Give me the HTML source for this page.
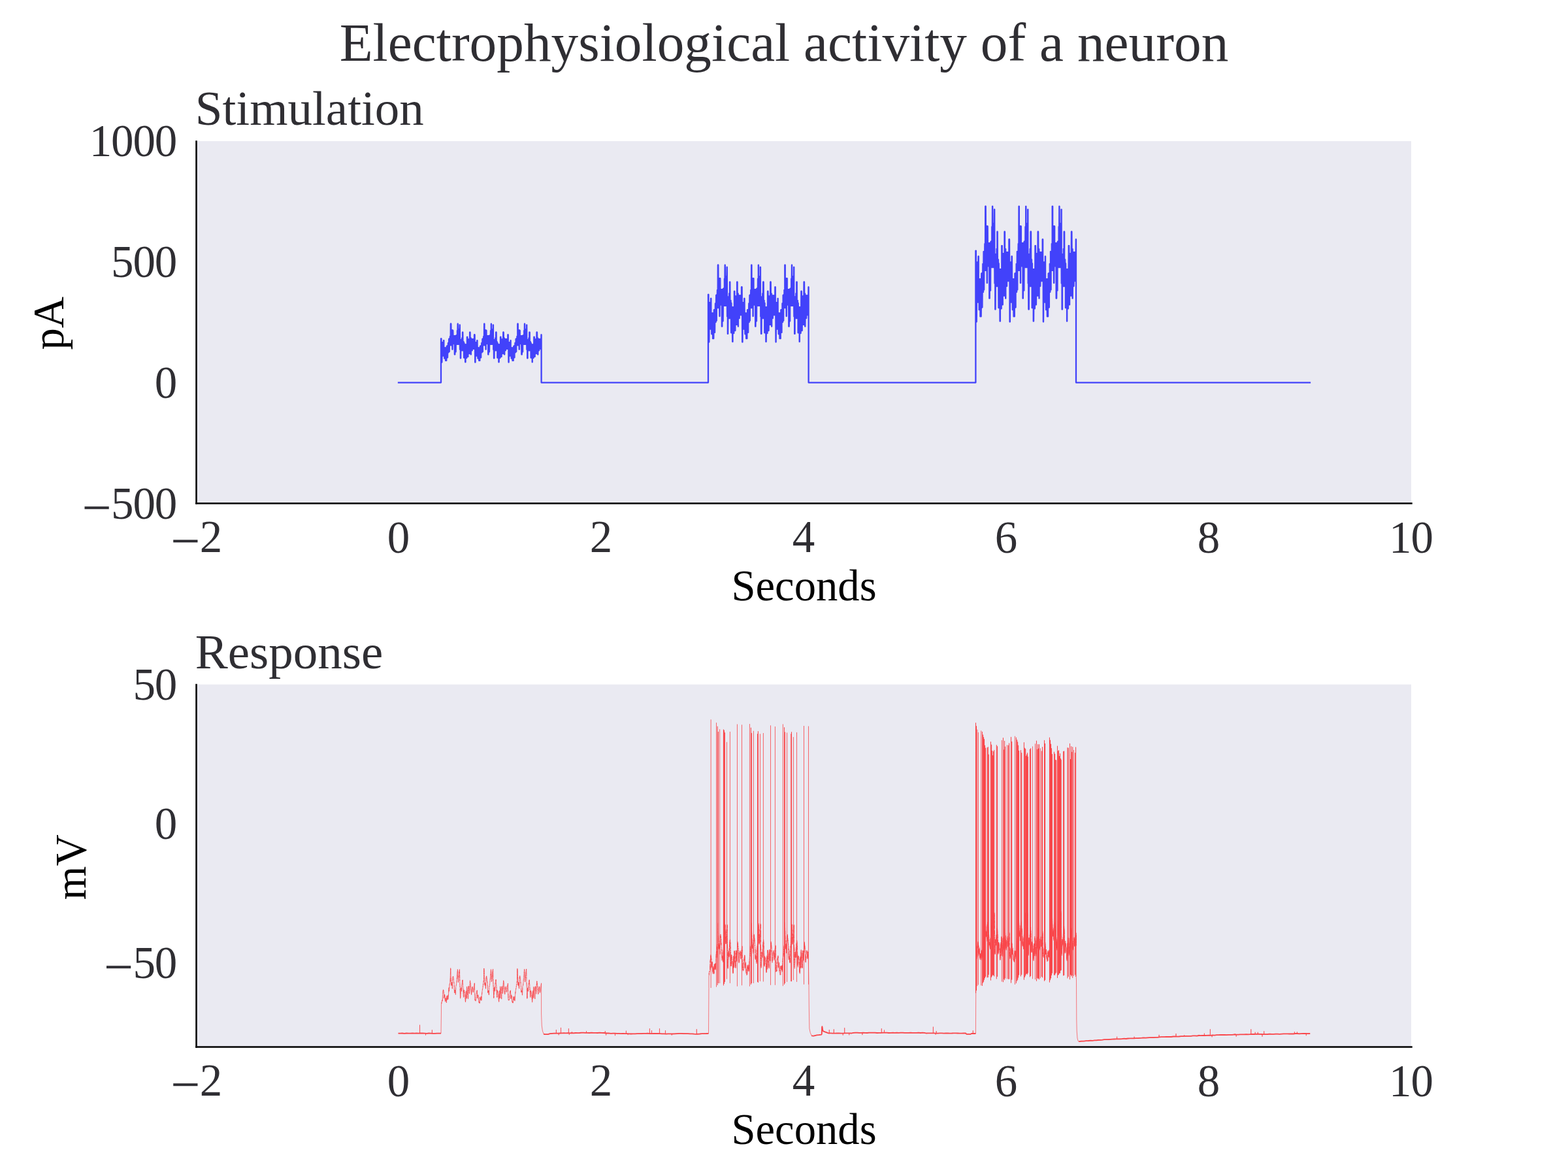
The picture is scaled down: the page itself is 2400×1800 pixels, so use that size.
<!DOCTYPE html>
<html lang="en"><head><meta charset="utf-8"><title>Electrophysiological activity of a neuron</title>
<style>html,body{margin:0;padding:0;background:#fff;}body{width:2400px;height:1800px;overflow:hidden;}svg{display:block;}text{font-family:'Liberation Serif', 'DejaVu Serif', serif;}</style></head><body>
<svg width="2400" height="1800" viewBox="0 0 2400 1800">
<rect x="0" y="0" width="2400" height="1800" fill="#ffffff"/>
<text x="1200" y="93" font-size="83.333" text-anchor="middle" fill="#2f2e33">Electrophysiological activity of a neuron</text>
<rect x="300.0" y="216.0" width="1860.0" height="554.4" fill="#eaeaf2"/>
<rect x="300.0" y="1047.6" width="1860.0" height="554.4" fill="#eaeaf2"/>
<path d="M610 585.6L675 585.6L675 533.8L675 518.3L675.15 518.3L675.15 533.8L675.3 533.8L675.3 518.3L675.45 518.3L675.45 533.8L675.6 533.8L675.6 524.4L675.75 524.4L675.75 533.8L675.9 533.8L675.9 524.4L676.05 524.4L676.05 554.6L676.2 554.6L676.2 524.4L676.35 524.4L676.35 554.6L676.5 544.6L676.5 524.4L676.65 524.4L676.65 544.6L676.8 544.6L676.8 524.4L676.95 524.4L676.95 544.6L677.1 544.6L677.1 524.4L677.25 524.4L677.25 544.6L677.4 544.6L677.4 524.4L677.55 524.4L677.55 544.6L677.7 544.6L677.7 524.4L677.85 524.4L677.85 544.6L678 544.6L678 524.4L678.15 524.4L678.15 544.6L678.3 544.6L678.3 524.4L678.45 524.4L678.45 544.6L678.6 544.6L678.6 524.4L678.75 524.4L678.75 544.6L678.9 544.6L678.9 524.4L679.05 521.2L679.05 544.6L679.2 544.6L679.2 521.2L679.35 521.2L679.35 544.6L679.5 544.6L679.5 532.8L679.65 532.8L679.65 544.6L679.8 544.6L679.8 532.8L679.95 532.8L679.95 544.6L680.1 544.6L680.1 532.8L680.25 532.8L680.25 548.5L680.4 548.5L680.4 532.8L680.55 532.8L680.55 548.5L680.7 548.5L680.7 532.8L680.85 532.8L680.85 548.5L681 548.5L681 532.8L681.15 532.8L681.15 548.5L681.3 548.5L681.3 532.8L681.45 532.8L681.45 548.5L681.6 548.5L681.6 532.8L681.75 532.8L681.75 548.5L681.9 548.5L681.9 532.8L682.05 532.8L682.05 551.9L682.2 551.9L682.2 532.8L682.35 532.8L682.35 551.9L682.5 551.9L682.5 532.8L682.65 532.8L682.65 551.9L682.8 551.9L682.8 532.8L682.95 532.8L682.95 551.9L683.1 551.9L683.1 532.8L683.25 532.8L683.25 551.9L683.4 547.3L683.4 532.8L683.55 532.8L683.55 547.3L683.7 547.3L683.7 532.8L683.85 529.9L683.85 547.3L684 547.3L684 529.9L684.15 529.9L684.15 547.3L684.3 547.3L684.3 529.9L684.45 529.9L684.45 547.3L684.6 547.3L684.6 529.9L684.75 529.9L684.75 547.3L684.9 547.3L684.9 529.9L685.05 529.9L685.05 547.3L685.2 539.4L685.2 529.9L685.35 529.9L685.35 539.4L685.5 539.4L685.5 529.9L685.65 529.9L685.65 539.4L685.8 539.4L685.8 529.9L685.95 525L685.95 539.4L686.1 539.4L686.1 525L686.25 525L686.25 539.4L686.4 539.4L686.4 525L686.55 525L686.55 539.4L686.7 538.2L686.7 525L686.85 525L686.85 538.2L687 538.2L687 525L687.15 518.8L687.15 538.2L687.3 538.2L687.3 518.8L687.45 518.8L687.45 538.2L687.6 538.2L687.6 518.8L687.75 518.8L687.75 538.2L687.9 528.4L687.9 518.8L688.05 518.8L688.05 528.4L688.2 528.4L688.2 518.8L688.35 518.8L688.35 528.4L688.5 528.4L688.5 518.8L688.65 518.8L688.65 528.4L688.8 528.4L688.8 518.8L688.95 514.8L688.95 528.4L689.1 528.4L689.1 514.8L689.25 514.8L689.25 528.4L689.4 528.4L689.4 514.8L689.55 514.8L689.55 528.4L689.7 528.4L689.7 514.8L689.85 495.7L689.85 528.4L690 528.4L690 495.7L690.15 495.7L690.15 528.4L690.3 528.4L690.3 495.7L690.45 505.9L690.45 528.4L690.6 528.4L690.6 505.9L690.75 505.9L690.75 528.4L690.9 528.4L690.9 505.9L691.05 505.9L691.05 528.4L691.2 528.4L691.2 505.9L691.35 505.9L691.35 528.4L691.5 528.4L691.5 505.9L691.65 505.9L691.65 528.4L691.8 528.4L691.8 505.9L691.95 505.9L691.95 528.4L692.1 528.4L692.1 505.9L692.25 505.9L692.25 528.4L692.4 534.8L692.4 505.9L692.55 505.9L692.55 534.8L692.7 526.2L692.7 505.9L692.85 505.9L692.85 526.2L693 526.2L693 505.9L693.15 505.9L693.15 526.2L693.3 526.2L693.3 505.9L693.45 514.6L693.45 526.2L693.6 526.2L693.6 514.6L693.75 514.6L693.75 526.2L693.9 526.2L693.9 514.6L694.05 514.6L694.05 526.2L694.2 526.2L694.2 514.6L694.35 514.6L694.35 526.2L694.5 526.2L694.5 514.6L694.65 514.6L694.65 526.2L694.8 526.2L694.8 514.6L694.95 514.6L694.95 526.2L695.1 526.2L695.1 514.6L695.25 514.6L695.25 526.2L695.4 526.2L695.4 514.6L695.55 514.6L695.55 526.2L695.7 526.2L695.7 514.6L695.85 514.6L695.85 542.6L696 542.6L696 514.6L696.15 514.6L696.15 542.6L696.3 542.6L696.3 514.6L696.45 514.6L696.45 538.6L696.6 538.6L696.6 514.6L696.75 514.6L696.75 538.6L696.9 538.6L696.9 514.6L697.05 514.6L697.05 538.6L697.2 538.6L697.2 514.6L697.35 514.6L697.35 538.6L697.5 538.6L697.5 514.6L697.65 514.6L697.65 538.6L697.8 526.8L697.8 514.6L697.95 514.6L697.95 526.8L698.1 526.8L698.1 513.7L698.25 513.7L698.25 526.8L698.4 526.8L698.4 513.7L698.55 513.7L698.55 526.8L698.7 526.8L698.7 513.7L698.85 513.7L698.85 526.8L699 526.8L699 513.7L699.15 513.7L699.15 526.8L699.3 526.8L699.3 513.7L699.45 513.7L699.45 526.8L699.6 526.8L699.6 513.7L699.75 513.7L699.75 526.8L699.9 526.8L699.9 506.1L700.05 506.1L700.05 526.8L700.2 526.8L700.2 506.1L700.35 506.1L700.35 526.8L700.5 526.8L700.5 506.1L700.65 495.7L700.65 526.8L700.8 526.8L700.8 495.7L700.95 504.5L700.95 526.8L701.1 526.8L701.1 504.5L701.25 504.5L701.25 526.8L701.4 526.8L701.4 504.5L701.55 504.5L701.55 526.8L701.7 526.8L701.7 504.5L701.85 504.5L701.85 526.8L702 526.8L702 504.5L702.15 504.5L702.15 526.8L702.3 526.8L702.3 504.5L702.45 504.5L702.45 526.8L702.6 526.8L702.6 504.5L702.75 504.5L702.75 526.8L702.9 526.8L702.9 504.5L703.05 504.5L703.05 526.8L703.2 526.8L703.2 504.5L703.35 504.5L703.35 526.8L703.5 526.8L703.5 504.5L703.65 497.3L703.65 526.8L703.8 526.8L703.8 497.3L703.95 520.2L703.95 526.8L704.1 535L704.1 520.2L704.25 520.2L704.25 535L704.4 535L704.4 520.2L704.55 520.2L704.55 535L704.7 535L704.7 520.2L704.85 520.2L704.85 548.3L705 548.3L705 520.2L705.15 520.2L705.15 548.3L705.3 536.4L705.3 520.2L705.45 520.2L705.45 536.4L705.6 536.4L705.6 520.2L705.75 520.2L705.75 536.4L705.9 536.4L705.9 520.2L706.05 520.2L706.05 536.4L706.2 536.4L706.2 520.2L706.35 520.2L706.35 536.4L706.5 536.4L706.5 520.2L706.65 520.2L706.65 536.4L706.8 536.4L706.8 520.2L706.95 520.2L706.95 536.4L707.1 536.4L707.1 517.4L707.25 517.4L707.25 536.4L707.4 536.4L707.4 517.4L707.55 517.4L707.55 536.4L707.7 536.4L707.7 517.4L707.85 517.4L707.85 536.4L708 536.4L708 508.6L708.15 508.6L708.15 536.4L708.3 536.4L708.3 508.6L708.45 522.8L708.45 536.4L708.6 536.4L708.6 522.8L708.75 522.8L708.75 536.4L708.9 536.4L708.9 522.8L709.05 522.8L709.05 536.4L709.2 536.4L709.2 522.8L709.35 522.8L709.35 536.4L709.5 536.4L709.5 522.8L709.65 524.8L709.65 536.4L709.8 536.4L709.8 524.8L709.95 524.8L709.95 536.4L710.1 547.5L710.1 524.8L710.25 524.8L710.25 547.5L710.4 547.5L710.4 524.8L710.55 527.9L710.55 547.5L710.7 547.5L710.7 527.9L710.85 527.9L710.85 547.5L711 547.5L711 527.9L711.15 527.9L711.15 547.5L711.3 547.5L711.3 527.9L711.45 527.9L711.45 547.5L711.6 547.5L711.6 527.9L711.75 527.9L711.75 547.5L711.9 547.5L711.9 527.9L712.05 527.9L712.05 547.5L712.2 554.3L712.2 527.9L712.35 527.9L712.35 554.3L712.5 554.3L712.5 527.9L712.65 527.9L712.65 547.9L712.8 547.9L712.8 527.9L712.95 527.9L712.95 547.9L713.1 547.9L713.1 527.9L713.25 527.9L713.25 547.9L713.4 547.9L713.4 527.9L713.55 527.9L713.55 547.9L713.7 547.9L713.7 527.9L713.85 527.9L713.85 547.9L714 547.9L714 527.9L714.15 527.9L714.15 547.9L714.3 547.9L714.3 527.9L714.45 527.9L714.45 545.9L714.6 545.9L714.6 527.9L714.75 527.9L714.75 545.9L714.9 545.9L714.9 515.8L715.05 515.8L715.05 545.9L715.2 545.9L715.2 515.8L715.35 515.8L715.35 545.9L715.5 545.9L715.5 519.8L715.65 519.8L715.65 545.9L715.8 545.9L715.8 519.8L715.95 519.8L715.95 545.9L716.1 545.9L716.1 519.8L716.25 519.8L716.25 545.9L716.4 545.9L716.4 519.8L716.55 519.8L716.55 541.2L716.7 541.2L716.7 519.8L716.85 519.8L716.85 541.2L717 541.2L717 519.8L717.15 519.8L717.15 541.2L717.3 541.2L717.3 519.8L717.45 519.8L717.45 541.2L717.6 541.2L717.6 519.8L717.75 519.8L717.75 541.2L717.9 541.2L717.9 519.8L718.05 519.8L718.05 541.2L718.2 541.2L718.2 519.8L718.35 519.8L718.35 541.2L718.5 541.2L718.5 519.8L718.65 519.8L718.65 541.2L718.8 541.2L718.8 519.8L718.95 519.8L718.95 541.2L719.1 541.2L719.1 508.6L719.25 508.6L719.25 541.2L719.4 541.2L719.4 508.6L719.55 508.6L719.55 541.2L719.7 541.2L719.7 517.5L719.85 517.5L719.85 541.2L720 541.2L720 517.5L720.15 517.5L720.15 541.2L720.3 541.2L720.3 517.5L720.45 517.5L720.45 541.2L720.6 541.2L720.6 517.5L720.75 517.5L720.75 542.6L720.9 542.6L720.9 519.3L721.05 519.3L721.05 536.4L721.2 536.4L721.2 519.3L721.35 519.3L721.35 536.4L721.5 536.4L721.5 519.3L721.65 519.3L721.65 536.4L721.8 536.4L721.8 519.3L721.95 519.3L721.95 536.4L722.1 536.4L722.1 519.3L722.25 519.3L722.25 536.4L722.4 536.4L722.4 519.3L722.55 519.3L722.55 536.4L722.7 536.4L722.7 519.3L722.85 519.3L722.85 533.8L723 533.8L723 519.3L723.15 519.3L723.15 533.8L723.3 533.8L723.3 519.3L723.45 519.3L723.45 533.8L723.6 533.8L723.6 519.3L723.75 519.3L723.75 533.8L723.9 533.8L723.9 519.3L724.05 519.3L724.05 533.8L724.2 533.8L724.2 519.3L724.35 519.3L724.35 533.8L724.5 533.8L724.5 519.3L724.65 519.3L724.65 533.8L724.8 533.8L724.8 519.3L724.95 519.3L724.95 533.8L725.1 533.8L725.1 519.3L725.25 519.3L725.25 533.8L725.4 533.8L725.4 519.3L725.55 519.3L725.55 533.8L725.7 533.8L725.7 519.3L725.85 519.3L725.85 533.8L726 533.8L726 512.5L726.15 512.5L726.15 533.8L726.3 533.8L726.3 512.5L726.45 512.5L726.45 533.8L726.6 533.8L726.6 512.5L726.75 524.4L726.75 533.8L726.9 533.8L726.9 524.4L727.05 524.4L727.05 533.8L727.2 554.6L727.2 524.4L727.35 524.4L727.35 554.6L727.5 554.6L727.5 524.4L727.65 524.4L727.65 544.6L727.8 544.6L727.8 524.4L727.95 524.4L727.95 544.6L728.1 544.6L728.1 524.4L728.25 524.4L728.25 544.6L728.4 544.6L728.4 524.4L728.55 524.4L728.55 544.6L728.7 544.6L728.7 524.4L728.85 524.4L728.85 544.6L729 544.6L729 524.4L729.15 524.4L729.15 544.6L729.3 544.6L729.3 524.4L729.45 524.4L729.45 544.6L729.6 544.6L729.6 524.4L729.75 524.4L729.75 544.6L729.9 544.6L729.9 524.4L730.05 524.4L730.05 544.6L730.2 544.6L730.2 521.2L730.35 521.2L730.35 544.6L730.5 544.6L730.5 521.2L730.65 532.8L730.65 544.6L730.8 544.6L730.8 532.8L730.95 532.8L730.95 544.6L731.1 544.6L731.1 532.8L731.25 532.8L731.25 544.6L731.4 548.5L731.4 532.8L731.55 532.8L731.55 548.5L731.7 548.5L731.7 532.8L731.85 532.8L731.85 548.5L732 548.5L732 532.8L732.15 532.8L732.15 548.5L732.3 548.5L732.3 532.8L732.45 532.8L732.45 548.5L732.6 548.5L732.6 532.8L732.75 532.8L732.75 548.5L732.9 548.5L732.9 532.8L733.05 532.8L733.05 548.5L733.2 551.9L733.2 532.8L733.35 532.8L733.35 551.9L733.5 551.9L733.5 532.8L733.65 532.8L733.65 551.9L733.8 551.9L733.8 532.8L733.95 532.8L733.95 551.9L734.1 551.9L734.1 532.8L734.25 532.8L734.25 551.9L734.4 551.9L734.4 532.8L734.55 532.8L734.55 547.3L734.7 547.3L734.7 532.8L734.85 532.8L734.85 547.3L735 547.3L735 529.9L735.15 529.9L735.15 547.3L735.3 547.3L735.3 529.9L735.45 529.9L735.45 547.3L735.6 547.3L735.6 529.9L735.75 529.9L735.75 547.3L735.9 547.3L735.9 529.9L736.05 529.9L736.05 547.3L736.2 547.3L736.2 529.9L736.35 529.9L736.35 539.4L736.5 539.4L736.5 529.9L736.65 529.9L736.65 539.4L736.8 539.4L736.8 529.9L736.95 529.9L736.95 539.4L737.1 539.4L737.1 529.9L737.25 525L737.25 539.4L737.4 539.4L737.4 525L737.55 525L737.55 539.4L737.7 539.4L737.7 525L737.85 525L737.85 538.2L738 538.2L738 525L738.15 525L738.15 538.2L738.3 538.2L738.3 525L738.45 518.8L738.45 538.2L738.6 538.2L738.6 518.8L738.75 518.8L738.75 538.2L738.9 538.2L738.9 518.8L739.05 518.8L739.05 528.4L739.2 528.4L739.2 518.8L739.35 518.8L739.35 528.4L739.5 528.4L739.5 518.8L739.65 518.8L739.65 528.4L739.8 528.4L739.8 518.8L739.95 518.8L739.95 528.4L740.1 528.4L740.1 518.8L740.25 514.8L740.25 528.4L740.4 528.4L740.4 514.8L740.55 514.8L740.55 528.4L740.7 528.4L740.7 514.8L740.85 514.8L740.85 528.4L741 528.4L741 514.8L741.15 495.7L741.15 528.4L741.3 528.4L741.3 495.7L741.45 495.7L741.45 528.4L741.6 528.4L741.6 505.9L741.75 505.9L741.75 528.4L741.9 528.4L741.9 505.9L742.05 505.9L742.05 528.4L742.2 528.4L742.2 505.9L742.35 505.9L742.35 528.4L742.5 528.4L742.5 505.9L742.65 505.9L742.65 528.4L742.8 528.4L742.8 505.9L742.95 505.9L742.95 528.4L743.1 528.4L743.1 505.9L743.25 505.9L743.25 528.4L743.4 528.4L743.4 505.9L743.55 505.9L743.55 534.8L743.7 534.8L743.7 505.9L743.85 505.9L743.85 526.2L744 526.2L744 505.9L744.15 505.9L744.15 526.2L744.3 526.2L744.3 505.9L744.45 505.9L744.45 526.2L744.6 526.2L744.6 514.6L744.75 514.6L744.75 526.2L744.9 526.2L744.9 514.6L745.05 514.6L745.05 526.2L745.2 526.2L745.2 514.6L745.35 514.6L745.35 526.2L745.5 526.2L745.5 514.6L745.65 514.6L745.65 526.2L745.8 526.2L745.8 514.6L745.95 514.6L745.95 526.2L746.1 526.2L746.1 514.6L746.25 514.6L746.25 526.2L746.4 526.2L746.4 514.6L746.55 514.6L746.55 526.2L746.7 526.2L746.7 514.6L746.85 514.6L746.85 526.2L747 526.2L747 514.6L747.15 514.6L747.15 542.6L747.3 542.6L747.3 514.6L747.45 514.6L747.45 542.6L747.6 538.6L747.6 514.6L747.75 514.6L747.75 538.6L747.9 538.6L747.9 514.6L748.05 514.6L748.05 538.6L748.2 538.6L748.2 514.6L748.35 514.6L748.35 538.6L748.5 538.6L748.5 514.6L748.65 514.6L748.65 538.6L748.8 538.6L748.8 514.6L748.95 514.6L748.95 538.6L749.1 526.8L749.1 514.6L749.25 513.7L749.25 526.8L749.4 526.8L749.4 513.7L749.55 513.7L749.55 526.8L749.7 526.8L749.7 513.7L749.85 513.7L749.85 526.8L750 526.8L750 513.7L750.15 513.7L750.15 526.8L750.3 526.8L750.3 513.7L750.45 513.7L750.45 526.8L750.6 526.8L750.6 513.7L750.75 513.7L750.75 526.8L750.9 526.8L750.9 513.7L751.05 506.1L751.05 526.8L751.2 526.8L751.2 506.1L751.35 506.1L751.35 526.8L751.5 526.8L751.5 506.1L751.65 506.1L751.65 526.8L751.8 526.8L751.8 495.7L751.95 495.7L751.95 526.8L752.1 526.8L752.1 504.5L752.25 504.5L752.25 526.8L752.4 526.8L752.4 504.5L752.55 504.5L752.55 526.8L752.7 526.8L752.7 504.5L752.85 504.5L752.85 526.8L753 526.8L753 504.5L753.15 504.5L753.15 526.8L753.3 526.8L753.3 504.5L753.45 504.5L753.45 526.8L753.6 526.8L753.6 504.5L753.75 504.5L753.75 526.8L753.9 526.8L753.9 504.5L754.05 504.5L754.05 526.8L754.2 526.8L754.2 504.5L754.35 504.5L754.35 526.8L754.5 526.8L754.5 504.5L754.65 504.5L754.65 526.8L754.8 526.8L754.8 497.3L754.95 497.3L754.95 526.8L755.1 526.8L755.1 520.2L755.25 520.2L755.25 535L755.4 535L755.4 520.2L755.55 520.2L755.55 535L755.7 535L755.7 520.2L755.85 520.2L755.85 535L756 548.3L756 520.2L756.15 520.2L756.15 548.3L756.3 548.3L756.3 520.2L756.45 520.2L756.45 548.3L756.6 536.4L756.6 520.2L756.75 520.2L756.75 536.4L756.9 536.4L756.9 520.2L757.05 520.2L757.05 536.4L757.2 536.4L757.2 520.2L757.35 520.2L757.35 536.4L757.5 536.4L757.5 520.2L757.65 520.2L757.65 536.4L757.8 536.4L757.8 520.2L757.95 520.2L757.95 536.4L758.1 536.4L758.1 520.2L758.25 517.4L758.25 536.4L758.4 536.4L758.4 517.4L758.55 517.4L758.55 536.4L758.7 536.4L758.7 517.4L758.85 517.4L758.85 536.4L759 536.4L759 517.4L759.15 508.6L759.15 536.4L759.3 536.4L759.3 508.6L759.45 508.6L759.45 536.4L759.6 536.4L759.6 508.6L759.75 522.8L759.75 536.4L759.9 536.4L759.9 522.8L760.05 522.8L760.05 536.4L760.2 536.4L760.2 522.8L760.35 522.8L760.35 536.4L760.5 536.4L760.5 522.8L760.65 522.8L760.65 536.4L760.8 536.4L760.8 524.8L760.95 524.8L760.95 536.4L761.1 536.4L761.1 524.8L761.25 524.8L761.25 547.5L761.4 547.5L761.4 524.8L761.55 524.8L761.55 547.5L761.7 547.5L761.7 527.9L761.85 527.9L761.85 547.5L762 547.5L762 527.9L762.15 527.9L762.15 547.5L762.3 547.5L762.3 527.9L762.45 527.9L762.45 547.5L762.6 547.5L762.6 527.9L762.75 527.9L762.75 547.5L762.9 547.5L762.9 527.9L763.05 527.9L763.05 547.5L763.2 547.5L763.2 527.9L763.35 527.9L763.35 554.3L763.5 554.3L763.5 527.9L763.65 527.9L763.65 554.3L763.8 547.9L763.8 527.9L763.95 527.9L763.95 547.9L764.1 547.9L764.1 527.9L764.25 527.9L764.25 547.9L764.4 547.9L764.4 527.9L764.55 527.9L764.55 547.9L764.7 547.9L764.7 527.9L764.85 527.9L764.85 547.9L765 547.9L765 527.9L765.15 527.9L765.15 547.9L765.3 547.9L765.3 527.9L765.45 527.9L765.45 547.9L765.6 545.9L765.6 527.9L765.75 527.9L765.75 545.9L765.9 545.9L765.9 527.9L766.05 515.8L766.05 545.9L766.2 545.9L766.2 515.8L766.35 515.8L766.35 545.9L766.5 545.9L766.5 515.8L766.65 519.8L766.65 545.9L766.8 545.9L766.8 519.8L766.95 519.8L766.95 545.9L767.1 545.9L767.1 519.8L767.25 519.8L767.25 545.9L767.4 545.9L767.4 519.8L767.55 519.8L767.55 545.9L767.7 541.2L767.7 519.8L767.85 519.8L767.85 541.2L768 541.2L768 519.8L768.15 519.8L768.15 541.2L768.3 541.2L768.3 519.8L768.45 519.8L768.45 541.2L768.6 541.2L768.6 519.8L768.75 519.8L768.75 541.2L768.9 541.2L768.9 519.8L769.05 519.8L769.05 541.2L769.2 541.2L769.2 519.8L769.35 519.8L769.35 541.2L769.5 541.2L769.5 519.8L769.65 519.8L769.65 541.2L769.8 541.2L769.8 519.8L769.95 519.8L769.95 541.2L770.1 541.2L770.1 519.8L770.25 508.6L770.25 541.2L770.4 541.2L770.4 508.6L770.55 508.6L770.55 541.2L770.7 541.2L770.7 508.6L770.85 517.5L770.85 541.2L771 541.2L771 517.5L771.15 517.5L771.15 541.2L771.3 541.2L771.3 517.5L771.45 517.5L771.45 541.2L771.6 541.2L771.6 517.5L771.75 517.5L771.75 541.2L771.9 541.2L771.9 517.5L772.05 519.3L772.05 542.6L772.2 542.6L772.2 519.3L772.35 519.3L772.35 536.4L772.5 536.4L772.5 519.3L772.65 519.3L772.65 536.4L772.8 536.4L772.8 519.3L772.95 519.3L772.95 536.4L773.1 536.4L773.1 519.3L773.25 519.3L773.25 536.4L773.4 536.4L773.4 519.3L773.55 519.3L773.55 536.4L773.7 536.4L773.7 519.3L773.85 519.3L773.85 536.4L774 533.8L774 519.3L774.15 519.3L774.15 533.8L774.3 533.8L774.3 519.3L774.45 519.3L774.45 533.8L774.6 533.8L774.6 519.3L774.75 519.3L774.75 533.8L774.9 533.8L774.9 519.3L775.05 519.3L775.05 533.8L775.2 533.8L775.2 519.3L775.35 519.3L775.35 533.8L775.5 533.8L775.5 519.3L775.65 519.3L775.65 533.8L775.8 533.8L775.8 519.3L775.95 519.3L775.95 533.8L776.1 533.8L776.1 519.3L776.25 519.3L776.25 533.8L776.4 533.8L776.4 519.3L776.55 519.3L776.55 533.8L776.7 533.8L776.7 519.3L776.85 519.3L776.85 533.8L777 533.8L777 519.3L777.15 519.3L777.15 533.8L777.3 533.8L777.3 512.5L777.45 512.5L777.45 533.8L777.6 533.8L777.6 512.5L777.75 512.5L777.75 533.8L777.9 533.8L777.9 524.4L778.05 524.4L778.05 533.8L778.2 533.8L778.2 524.4L778.35 524.4L778.35 533.8L778.5 554.6L778.5 524.4L778.65 524.4L778.65 554.6L778.8 544.6L778.8 524.4L778.95 524.4L778.95 544.6L779.1 544.6L779.1 524.4L779.25 524.4L779.25 544.6L779.4 544.6L779.4 524.4L779.55 524.4L779.55 544.6L779.7 544.6L779.7 524.4L779.85 524.4L779.85 544.6L780 544.6L780 524.4L780.15 524.4L780.15 544.6L780.3 544.6L780.3 524.4L780.45 524.4L780.45 544.6L780.6 544.6L780.6 524.4L780.75 524.4L780.75 544.6L780.9 544.6L780.9 524.4L781.05 524.4L781.05 544.6L781.2 544.6L781.2 524.4L781.35 524.4L781.35 544.6L781.5 544.6L781.5 521.2L781.65 521.2L781.65 544.6L781.8 544.6L781.8 532.8L781.95 532.8L781.95 544.6L782.1 544.6L782.1 532.8L782.25 532.8L782.25 544.6L782.4 544.6L782.4 532.8L782.55 532.8L782.55 544.6L782.7 548.5L782.7 532.8L782.85 532.8L782.85 548.5L783 548.5L783 532.8L783.15 532.8L783.15 548.5L783.3 548.5L783.3 532.8L783.45 532.8L783.45 548.5L783.6 548.5L783.6 532.8L783.75 532.8L783.75 548.5L783.9 548.5L783.9 532.8L784.05 532.8L784.05 548.5L784.2 548.5L784.2 532.8L784.35 532.8L784.35 548.5L784.5 551.9L784.5 532.8L784.65 532.8L784.65 551.9L784.8 551.9L784.8 532.8L784.95 532.8L784.95 551.9L785.1 551.9L785.1 532.8L785.25 532.8L785.25 551.9L785.4 551.9L785.4 532.8L785.55 532.8L785.55 551.9L785.7 551.9L785.7 532.8L785.85 532.8L785.85 547.3L786 547.3L786 532.8L786.15 532.8L786.15 547.3L786.3 547.3L786.3 529.9L786.45 529.9L786.45 547.3L786.6 547.3L786.6 529.9L786.75 529.9L786.75 547.3L786.9 547.3L786.9 529.9L787.05 529.9L787.05 547.3L787.2 547.3L787.2 529.9L787.35 529.9L787.35 547.3L787.5 547.3L787.5 529.9L787.65 529.9L787.65 539.4L787.8 539.4L787.8 529.9L787.95 529.9L787.95 539.4L788.1 539.4L788.1 529.9L788.25 529.9L788.25 539.4L788.4 539.4L788.4 525L788.55 525L788.55 539.4L788.7 539.4L788.7 525L788.85 525L788.85 539.4L789 539.4L789 525L789.15 525L789.15 538.2L789.3 538.2L789.3 525L789.45 525L789.45 538.2L789.6 538.2L789.6 518.8L789.75 518.8L789.75 538.2L789.9 538.2L789.9 518.8L790.05 518.8L790.05 538.2L790.2 538.2L790.2 518.8L790.35 518.8L790.35 528.4L790.5 528.4L790.5 518.8L790.65 518.8L790.65 528.4L790.8 528.4L790.8 518.8L790.95 518.8L790.95 528.4L791.1 528.4L791.1 518.8L791.25 518.8L791.25 528.4L791.4 528.4L791.4 514.8L791.55 514.8L791.55 528.4L791.7 528.4L791.7 514.8L791.85 514.8L791.85 528.4L792 528.4L792 514.8L792.15 514.8L792.15 528.4L792.3 528.4L792.3 495.7L792.45 495.7L792.45 528.4L792.6 528.4L792.6 495.7L792.75 495.7L792.75 528.4L792.9 528.4L792.9 505.9L793.05 505.9L793.05 528.4L793.2 528.4L793.2 505.9L793.35 505.9L793.35 528.4L793.5 528.4L793.5 505.9L793.65 505.9L793.65 528.4L793.8 528.4L793.8 505.9L793.95 505.9L793.95 528.4L794.1 528.4L794.1 505.9L794.25 505.9L794.25 528.4L794.4 528.4L794.4 505.9L794.55 505.9L794.55 528.4L794.7 534.8L794.7 505.9L794.85 505.9L794.85 534.8L795 526.2L795 505.9L795.15 505.9L795.15 526.2L795.3 526.2L795.3 505.9L795.45 505.9L795.45 526.2L795.6 526.2L795.6 505.9L795.75 505.9L795.75 526.2L795.9 526.2L795.9 514.6L796.05 514.6L796.05 526.2L796.2 526.2L796.2 514.6L796.35 514.6L796.35 526.2L796.5 526.2L796.5 514.6L796.65 514.6L796.65 526.2L796.8 526.2L796.8 514.6L796.95 514.6L796.95 526.2L797.1 526.2L797.1 514.6L797.25 514.6L797.25 526.2L797.4 526.2L797.4 514.6L797.55 514.6L797.55 526.2L797.7 526.2L797.7 514.6L797.85 514.6L797.85 526.2L798 526.2L798 514.6L798.15 514.6L798.15 526.2L798.3 542.6L798.3 514.6L798.45 514.6L798.45 542.6L798.6 542.6L798.6 514.6L798.75 514.6L798.75 542.6L798.9 538.6L798.9 514.6L799.05 514.6L799.05 538.6L799.2 538.6L799.2 514.6L799.35 514.6L799.35 538.6L799.5 538.6L799.5 514.6L799.65 514.6L799.65 538.6L799.8 538.6L799.8 514.6L799.95 514.6L799.95 538.6L800.1 538.6L800.1 514.6L800.25 514.6L800.25 526.8L800.4 526.8L800.4 513.7L800.55 513.7L800.55 526.8L800.7 526.8L800.7 513.7L800.85 513.7L800.85 526.8L801 526.8L801 513.7L801.15 513.7L801.15 526.8L801.3 526.8L801.3 513.7L801.45 513.7L801.45 526.8L801.6 526.8L801.6 513.7L801.75 513.7L801.75 526.8L801.9 526.8L801.9 513.7L802.05 513.7L802.05 526.8L802.2 526.8L802.2 506.1L802.35 506.1L802.35 526.8L802.5 526.8L802.5 506.1L802.65 506.1L802.65 526.8L802.8 526.8L802.8 506.1L802.95 495.7L802.95 526.8L803.1 526.8L803.1 495.7L803.25 504.5L803.25 526.8L803.4 526.8L803.4 504.5L803.55 504.5L803.55 526.8L803.7 526.8L803.7 504.5L803.85 504.5L803.85 526.8L804 526.8L804 504.5L804.15 504.5L804.15 526.8L804.3 526.8L804.3 504.5L804.45 504.5L804.45 526.8L804.6 526.8L804.6 504.5L804.75 504.5L804.75 526.8L804.9 526.8L804.9 504.5L805.05 504.5L805.05 526.8L805.2 526.8L805.2 504.5L805.35 504.5L805.35 526.8L805.5 526.8L805.5 504.5L805.65 504.5L805.65 526.8L805.8 526.8L805.8 504.5L805.95 504.5L805.95 526.8L806.1 526.8L806.1 497.3L806.25 497.3L806.25 526.8L806.4 535L806.4 520.2L806.55 520.2L806.55 535L806.7 535L806.7 520.2L806.85 520.2L806.85 535L807 535L807 520.2L807.15 520.2L807.15 548.3L807.3 548.3L807.3 520.2L807.45 520.2L807.45 548.3L807.6 548.3L807.6 520.2L807.75 520.2L807.75 536.4L807.9 536.4L807.9 520.2L808.05 520.2L808.05 536.4L808.2 536.4L808.2 520.2L808.35 520.2L808.35 536.4L808.5 536.4L808.5 520.2L808.65 520.2L808.65 536.4L808.8 536.4L808.8 520.2L808.95 520.2L808.95 536.4L809.1 536.4L809.1 520.2L809.25 520.2L809.25 536.4L809.4 536.4L809.4 517.4L809.55 517.4L809.55 536.4L809.7 536.4L809.7 517.4L809.85 517.4L809.85 536.4L810 536.4L810 517.4L810.15 517.4L810.15 536.4L810.3 536.4L810.3 508.6L810.45 508.6L810.45 536.4L810.6 536.4L810.6 508.6L810.75 508.6L810.75 536.4L810.9 536.4L810.9 522.8L811.05 522.8L811.05 536.4L811.2 536.4L811.2 522.8L811.35 522.8L811.35 536.4L811.5 536.4L811.5 522.8L811.65 522.8L811.65 536.4L811.8 536.4L811.8 522.8L811.95 524.8L811.95 536.4L812.1 536.4L812.1 524.8L812.25 524.8L812.25 536.4L812.4 536.4L812.4 524.8L812.55 524.8L812.55 547.5L812.7 547.5L812.7 524.8L812.85 527.9L812.85 547.5L813 547.5L813 527.9L813.15 527.9L813.15 547.5L813.3 547.5L813.3 527.9L813.45 527.9L813.45 547.5L813.6 547.5L813.6 527.9L813.75 527.9L813.75 547.5L813.9 547.5L813.9 527.9L814.05 527.9L814.05 547.5L814.2 547.5L814.2 527.9L814.35 527.9L814.35 547.5L814.5 547.5L814.5 527.9L814.65 527.9L814.65 554.3L814.8 554.3L814.8 527.9L814.95 527.9L814.95 547.9L815.1 547.9L815.1 527.9L815.25 527.9L815.25 547.9L815.4 547.9L815.4 527.9L815.55 527.9L815.55 547.9L815.7 547.9L815.7 527.9L815.85 527.9L815.85 547.9L816 547.9L816 527.9L816.15 527.9L816.15 547.9L816.3 547.9L816.3 527.9L816.45 527.9L816.45 547.9L816.6 547.9L816.6 527.9L816.75 527.9L816.75 545.9L816.9 545.9L816.9 527.9L817.05 527.9L817.05 545.9L817.2 545.9L817.2 527.9L817.35 515.8L817.35 545.9L817.5 545.9L817.5 515.8L817.65 515.8L817.65 545.9L817.8 545.9L817.8 515.8L817.95 519.8L817.95 545.9L818.1 545.9L818.1 519.8L818.25 519.8L818.25 545.9L818.4 545.9L818.4 519.8L818.55 519.8L818.55 545.9L818.7 545.9L818.7 519.8L818.85 519.8L818.85 541.2L819 541.2L819 519.8L819.15 519.8L819.15 541.2L819.3 541.2L819.3 519.8L819.45 519.8L819.45 541.2L819.6 541.2L819.6 519.8L819.75 519.8L819.75 541.2L819.9 541.2L819.9 519.8L820.05 519.8L820.05 541.2L820.2 541.2L820.2 519.8L820.35 519.8L820.35 541.2L820.5 541.2L820.5 519.8L820.65 519.8L820.65 541.2L820.8 541.2L820.8 519.8L820.95 519.8L820.95 541.2L821.1 541.2L821.1 519.8L821.25 519.8L821.25 541.2L821.4 541.2L821.4 519.8L821.55 508.6L821.55 541.2L821.7 541.2L821.7 508.6L821.85 508.6L821.85 541.2L822 541.2L822 508.6L822.15 517.5L822.15 541.2L822.3 541.2L822.3 517.5L822.45 517.5L822.45 541.2L822.6 541.2L822.6 517.5L822.75 517.5L822.75 541.2L822.9 541.2L822.9 517.5L823.05 517.5L823.05 541.2L823.2 542.6L823.2 517.5L823.35 519.3L823.35 542.6L823.5 536.4L823.5 519.3L823.65 519.3L823.65 536.4L823.8 536.4L823.8 519.3L823.95 519.3L823.95 536.4L824.1 536.4L824.1 519.3L824.25 519.3L824.25 536.4L824.4 536.4L824.4 519.3L824.55 519.3L824.55 536.4L824.7 536.4L824.7 519.3L824.85 519.3L824.85 536.4L825 536.4L825 519.3L825.15 519.3L825.15 536.4L825.3 533.8L825.3 519.3L825.45 519.3L825.45 533.8L825.6 533.8L825.6 519.3L825.75 519.3L825.75 533.8L825.9 533.8L825.9 519.3L826.05 519.3L826.05 533.8L826.2 533.8L826.2 519.3L826.35 519.3L826.35 533.8L826.5 533.8L826.5 519.3L826.65 519.3L826.65 533.8L826.8 533.8L826.8 519.3L826.95 519.3L826.95 533.8L827.1 533.8L827.1 519.3L827.25 519.3L827.25 533.8L827.4 533.8L827.4 519.3L827.55 519.3L827.55 533.8L827.7 533.8L827.7 519.3L827.85 519.3L827.85 533.8L828 533.8L828 519.3L828.15 519.3L828.15 533.8L828.3 533.8L828.3 519.3L828.45 512.5L828.45 533.8L828.6 533.8L828.6 512.5L828.6 585.6L1084 585.6L1084 482L1084 451L1084.15 451L1084.15 482L1084.3 482L1084.3 451L1084.45 451L1084.45 482L1084.6 482L1084.6 463.2L1084.75 463.2L1084.75 482L1084.9 482L1084.9 463.2L1085.05 463.2L1085.05 523.6L1085.2 523.6L1085.2 463.2L1085.35 463.2L1085.35 523.6L1085.5 503.7L1085.5 463.2L1085.65 463.2L1085.65 503.7L1085.8 503.7L1085.8 463.2L1085.95 463.2L1085.95 503.7L1086.1 503.7L1086.1 463.2L1086.25 463.2L1086.25 503.7L1086.4 503.7L1086.4 463.2L1086.55 463.2L1086.55 503.7L1086.7 503.7L1086.7 463.2L1086.85 463.2L1086.85 503.7L1087 503.7L1087 463.2L1087.15 463.2L1087.15 503.7L1087.3 503.7L1087.3 463.2L1087.45 463.2L1087.45 503.7L1087.6 503.7L1087.6 463.2L1087.75 463.2L1087.75 503.7L1087.9 503.7L1087.9 463.2L1088.05 456.8L1088.05 503.7L1088.2 503.7L1088.2 456.8L1088.35 456.8L1088.35 503.7L1088.5 503.7L1088.5 479.9L1088.65 479.9L1088.65 503.7L1088.8 503.7L1088.8 479.9L1088.95 479.9L1088.95 503.7L1089.1 503.7L1089.1 479.9L1089.25 479.9L1089.25 511.3L1089.4 511.3L1089.4 479.9L1089.55 479.9L1089.55 511.3L1089.7 511.3L1089.7 479.9L1089.85 479.9L1089.85 511.3L1090 511.3L1090 479.9L1090.15 479.9L1090.15 511.3L1090.3 511.3L1090.3 479.9L1090.45 479.9L1090.45 511.3L1090.6 511.3L1090.6 479.9L1090.75 479.9L1090.75 511.3L1090.9 511.3L1090.9 479.9L1091.05 479.9L1091.05 518.2L1091.2 518.2L1091.2 479.9L1091.35 479.9L1091.35 518.2L1091.5 518.2L1091.5 479.9L1091.65 479.9L1091.65 518.2L1091.8 518.2L1091.8 479.9L1091.95 479.9L1091.95 518.2L1092.1 518.2L1092.1 479.9L1092.25 479.9L1092.25 518.2L1092.4 508.9L1092.4 479.9L1092.55 479.9L1092.55 508.9L1092.7 508.9L1092.7 479.9L1092.85 474.3L1092.85 508.9L1093 508.9L1093 474.3L1093.15 474.3L1093.15 508.9L1093.3 508.9L1093.3 474.3L1093.45 474.3L1093.45 508.9L1093.6 508.9L1093.6 474.3L1093.75 474.3L1093.75 508.9L1093.9 508.9L1093.9 474.3L1094.05 474.3L1094.05 508.9L1094.2 493.2L1094.2 474.3L1094.35 474.3L1094.35 493.2L1094.5 493.2L1094.5 474.3L1094.65 474.3L1094.65 493.2L1094.8 493.2L1094.8 474.3L1094.95 464.4L1094.95 493.2L1095.1 493.2L1095.1 464.4L1095.25 464.4L1095.25 493.2L1095.4 493.2L1095.4 464.4L1095.55 464.4L1095.55 493.2L1095.7 490.8L1095.7 464.4L1095.85 464.4L1095.85 490.8L1096 490.8L1096 464.4L1096.15 451.9L1096.15 490.8L1096.3 490.8L1096.3 451.9L1096.45 451.9L1096.45 490.8L1096.6 490.8L1096.6 451.9L1096.75 451.9L1096.75 490.8L1096.9 471.1L1096.9 451.9L1097.05 451.9L1097.05 471.1L1097.2 471.1L1097.2 451.9L1097.35 451.9L1097.35 471.1L1097.5 471.1L1097.5 451.9L1097.65 451.9L1097.65 471.1L1097.8 471.1L1097.8 451.9L1097.95 443.9L1097.95 471.1L1098.1 471.1L1098.1 443.9L1098.25 443.9L1098.25 471.1L1098.4 471.1L1098.4 443.9L1098.55 443.9L1098.55 471.1L1098.7 471.1L1098.7 443.9L1098.85 405.7L1098.85 471.1L1099 471.1L1099 405.7L1099.15 405.7L1099.15 471.1L1099.3 471.1L1099.3 405.7L1099.45 426.2L1099.45 471.1L1099.6 471.1L1099.6 426.2L1099.75 426.2L1099.75 471.1L1099.9 471.1L1099.9 426.2L1100.05 426.2L1100.05 471.1L1100.2 471.1L1100.2 426.2L1100.35 426.2L1100.35 471.1L1100.5 471.1L1100.5 426.2L1100.65 426.2L1100.65 471.1L1100.8 471.1L1100.8 426.2L1100.95 426.2L1100.95 471.1L1101.1 471.1L1101.1 426.2L1101.25 426.2L1101.25 471.1L1101.4 484L1101.4 426.2L1101.55 426.2L1101.55 484L1101.7 466.7L1101.7 426.2L1101.85 426.2L1101.85 466.7L1102 466.7L1102 426.2L1102.15 426.2L1102.15 466.7L1102.3 466.7L1102.3 426.2L1102.45 443.5L1102.45 466.7L1102.6 466.7L1102.6 443.5L1102.75 443.5L1102.75 466.7L1102.9 466.7L1102.9 443.5L1103.05 443.5L1103.05 466.7L1103.2 466.7L1103.2 443.5L1103.35 443.5L1103.35 466.7L1103.5 466.7L1103.5 443.5L1103.65 443.5L1103.65 466.7L1103.8 466.7L1103.8 443.5L1103.95 443.5L1103.95 466.7L1104.1 466.7L1104.1 443.5L1104.25 443.5L1104.25 466.7L1104.4 466.7L1104.4 443.5L1104.55 443.5L1104.55 466.7L1104.7 466.7L1104.7 443.5L1104.85 443.5L1104.85 499.7L1105 499.7L1105 443.5L1105.15 443.5L1105.15 499.7L1105.3 499.7L1105.3 443.5L1105.45 443.5L1105.45 491.6L1105.6 491.6L1105.6 443.5L1105.75 443.5L1105.75 491.6L1105.9 491.6L1105.9 443.5L1106.05 443.5L1106.05 491.6L1106.2 491.6L1106.2 443.5L1106.35 443.5L1106.35 491.6L1106.5 491.6L1106.5 443.5L1106.65 443.5L1106.65 491.6L1106.8 467.9L1106.8 443.5L1106.95 443.5L1106.95 467.9L1107.1 467.9L1107.1 441.9L1107.25 441.9L1107.25 467.9L1107.4 467.9L1107.4 441.9L1107.55 441.9L1107.55 467.9L1107.7 467.9L1107.7 441.9L1107.85 441.9L1107.85 467.9L1108 467.9L1108 441.9L1108.15 441.9L1108.15 467.9L1108.3 467.9L1108.3 441.9L1108.45 441.9L1108.45 467.9L1108.6 467.9L1108.6 441.9L1108.75 441.9L1108.75 467.9L1108.9 467.9L1108.9 426.6L1109.05 426.6L1109.05 467.9L1109.2 467.9L1109.2 426.6L1109.35 426.6L1109.35 467.9L1109.5 467.9L1109.5 426.6L1109.65 405.7L1109.65 467.9L1109.8 467.9L1109.8 405.7L1109.95 423.4L1109.95 467.9L1110.1 467.9L1110.1 423.4L1110.25 423.4L1110.25 467.9L1110.4 467.9L1110.4 423.4L1110.55 423.4L1110.55 467.9L1110.7 467.9L1110.7 423.4L1110.85 423.4L1110.85 467.9L1111 467.9L1111 423.4L1111.15 423.4L1111.15 467.9L1111.3 467.9L1111.3 423.4L1111.45 423.4L1111.45 467.9L1111.6 467.9L1111.6 423.4L1111.75 423.4L1111.75 467.9L1111.9 467.9L1111.9 423.4L1112.05 423.4L1112.05 467.9L1112.2 467.9L1112.2 423.4L1112.35 423.4L1112.35 467.9L1112.5 467.9L1112.5 423.4L1112.65 408.9L1112.65 467.9L1112.8 467.9L1112.8 408.9L1112.95 454.8L1112.95 467.9L1113.1 484.4L1113.1 454.8L1113.25 454.8L1113.25 484.4L1113.4 484.4L1113.4 454.8L1113.55 454.8L1113.55 484.4L1113.7 484.4L1113.7 454.8L1113.85 454.8L1113.85 510.9L1114 510.9L1114 454.8L1114.15 454.8L1114.15 510.9L1114.3 487.2L1114.3 454.8L1114.45 454.8L1114.45 487.2L1114.6 487.2L1114.6 454.8L1114.75 454.8L1114.75 487.2L1114.9 487.2L1114.9 454.8L1115.05 454.8L1115.05 487.2L1115.2 487.2L1115.2 454.8L1115.35 454.8L1115.35 487.2L1115.5 487.2L1115.5 454.8L1115.65 454.8L1115.65 487.2L1115.8 487.2L1115.8 454.8L1115.95 454.8L1115.95 487.2L1116.1 487.2L1116.1 449.1L1116.25 449.1L1116.25 487.2L1116.4 487.2L1116.4 449.1L1116.55 449.1L1116.55 487.2L1116.7 487.2L1116.7 449.1L1116.85 449.1L1116.85 487.2L1117 487.2L1117 431.6L1117.15 431.6L1117.15 487.2L1117.3 487.2L1117.3 431.6L1117.45 460L1117.45 487.2L1117.6 487.2L1117.6 460L1117.75 460L1117.75 487.2L1117.9 487.2L1117.9 460L1118.05 460L1118.05 487.2L1118.2 487.2L1118.2 460L1118.35 460L1118.35 487.2L1118.5 487.2L1118.5 460L1118.65 464L1118.65 487.2L1118.8 487.2L1118.8 464L1118.95 464L1118.95 487.2L1119.1 509.3L1119.1 464L1119.25 464L1119.25 509.3L1119.4 509.3L1119.4 464L1119.55 470.3L1119.55 509.3L1119.7 509.3L1119.7 470.3L1119.85 470.3L1119.85 509.3L1120 509.3L1120 470.3L1120.15 470.3L1120.15 509.3L1120.3 509.3L1120.3 470.3L1120.45 470.3L1120.45 509.3L1120.6 509.3L1120.6 470.3L1120.75 470.3L1120.75 509.3L1120.9 509.3L1120.9 470.3L1121.05 470.3L1121.05 509.3L1121.2 523L1121.2 470.3L1121.35 470.3L1121.35 523L1121.5 523L1121.5 470.3L1121.65 470.3L1121.65 510.1L1121.8 510.1L1121.8 470.3L1121.95 470.3L1121.95 510.1L1122.1 510.1L1122.1 470.3L1122.25 470.3L1122.25 510.1L1122.4 510.1L1122.4 470.3L1122.55 470.3L1122.55 510.1L1122.7 510.1L1122.7 470.3L1122.85 470.3L1122.85 510.1L1123 510.1L1123 470.3L1123.15 470.3L1123.15 510.1L1123.3 510.1L1123.3 470.3L1123.45 470.3L1123.45 506.1L1123.6 506.1L1123.6 470.3L1123.75 470.3L1123.75 506.1L1123.9 506.1L1123.9 445.9L1124.05 445.9L1124.05 506.1L1124.2 506.1L1124.2 445.9L1124.35 445.9L1124.35 506.1L1124.5 506.1L1124.5 454L1124.65 454L1124.65 506.1L1124.8 506.1L1124.8 454L1124.95 454L1124.95 506.1L1125.1 506.1L1125.1 454L1125.25 454L1125.25 506.1L1125.4 506.1L1125.4 454L1125.55 454L1125.55 496.9L1125.7 496.9L1125.7 454L1125.85 454L1125.85 496.9L1126 496.9L1126 454L1126.15 454L1126.15 496.9L1126.3 496.9L1126.3 454L1126.45 454L1126.45 496.9L1126.6 496.9L1126.6 454L1126.75 454L1126.75 496.9L1126.9 496.9L1126.9 454L1127.05 454L1127.05 496.9L1127.2 496.9L1127.2 454L1127.35 454L1127.35 496.9L1127.5 496.9L1127.5 454L1127.65 454L1127.65 496.9L1127.8 496.9L1127.8 454L1127.95 454L1127.95 496.9L1128.1 496.9L1128.1 431.6L1128.25 431.6L1128.25 496.9L1128.4 496.9L1128.4 431.6L1128.55 431.6L1128.55 496.9L1128.7 496.9L1128.7 449.3L1128.85 449.3L1128.85 496.9L1129 496.9L1129 449.3L1129.15 449.3L1129.15 496.9L1129.3 496.9L1129.3 449.3L1129.45 449.3L1129.45 496.9L1129.6 496.9L1129.6 449.3L1129.75 449.3L1129.75 499.7L1129.9 499.7L1129.9 452.9L1130.05 452.9L1130.05 487.2L1130.2 487.2L1130.2 452.9L1130.35 452.9L1130.35 487.2L1130.5 487.2L1130.5 452.9L1130.65 452.9L1130.65 487.2L1130.8 487.2L1130.8 452.9L1130.95 452.9L1130.95 487.2L1131.1 487.2L1131.1 452.9L1131.25 452.9L1131.25 487.2L1131.4 487.2L1131.4 452.9L1131.55 452.9L1131.55 487.2L1131.7 487.2L1131.7 452.9L1131.85 452.9L1131.85 482L1132 482L1132 452.9L1132.15 452.9L1132.15 482L1132.3 482L1132.3 452.9L1132.45 452.9L1132.45 482L1132.6 482L1132.6 452.9L1132.75 452.9L1132.75 482L1132.9 482L1132.9 452.9L1133.05 452.9L1133.05 482L1133.2 482L1133.2 452.9L1133.35 452.9L1133.35 482L1133.5 482L1133.5 452.9L1133.65 452.9L1133.65 482L1133.8 482L1133.8 452.9L1133.95 452.9L1133.95 482L1134.1 482L1134.1 452.9L1134.25 452.9L1134.25 482L1134.4 482L1134.4 452.9L1134.55 452.9L1134.55 482L1134.7 482L1134.7 452.9L1134.85 452.9L1134.85 482L1135 482L1135 439.5L1135.15 439.5L1135.15 482L1135.3 482L1135.3 439.5L1135.45 439.5L1135.45 482L1135.6 482L1135.6 439.5L1135.75 463.2L1135.75 482L1135.9 482L1135.9 463.2L1136.05 463.2L1136.05 482L1136.2 523.6L1136.2 463.2L1136.35 463.2L1136.35 523.6L1136.5 523.6L1136.5 463.2L1136.65 463.2L1136.65 503.7L1136.8 503.7L1136.8 463.2L1136.95 463.2L1136.95 503.7L1137.1 503.7L1137.1 463.2L1137.25 463.2L1137.25 503.7L1137.4 503.7L1137.4 463.2L1137.55 463.2L1137.55 503.7L1137.7 503.7L1137.7 463.2L1137.85 463.2L1137.85 503.7L1138 503.7L1138 463.2L1138.15 463.2L1138.15 503.7L1138.3 503.7L1138.3 463.2L1138.45 463.2L1138.45 503.7L1138.6 503.7L1138.6 463.2L1138.75 463.2L1138.75 503.7L1138.9 503.7L1138.9 463.2L1139.05 463.2L1139.05 503.7L1139.2 503.7L1139.2 456.8L1139.35 456.8L1139.35 503.7L1139.5 503.7L1139.5 456.8L1139.65 479.9L1139.65 503.7L1139.8 503.7L1139.8 479.9L1139.95 479.9L1139.95 503.7L1140.1 503.7L1140.1 479.9L1140.25 479.9L1140.25 503.7L1140.4 511.3L1140.4 479.9L1140.55 479.9L1140.55 511.3L1140.7 511.3L1140.7 479.9L1140.85 479.9L1140.85 511.3L1141 511.3L1141 479.9L1141.15 479.9L1141.15 511.3L1141.3 511.3L1141.3 479.9L1141.45 479.9L1141.45 511.3L1141.6 511.3L1141.6 479.9L1141.75 479.9L1141.75 511.3L1141.9 511.3L1141.9 479.9L1142.05 479.9L1142.05 511.3L1142.2 518.2L1142.2 479.9L1142.35 479.9L1142.35 518.2L1142.5 518.2L1142.5 479.9L1142.65 479.9L1142.65 518.2L1142.8 518.2L1142.8 479.9L1142.95 479.9L1142.95 518.2L1143.1 518.2L1143.1 479.9L1143.25 479.9L1143.25 518.2L1143.4 518.2L1143.4 479.9L1143.55 479.9L1143.55 508.9L1143.7 508.9L1143.7 479.9L1143.85 479.9L1143.85 508.9L1144 508.9L1144 474.3L1144.15 474.3L1144.15 508.9L1144.3 508.9L1144.3 474.3L1144.45 474.3L1144.45 508.9L1144.6 508.9L1144.6 474.3L1144.75 474.3L1144.75 508.9L1144.9 508.9L1144.9 474.3L1145.05 474.3L1145.05 508.9L1145.2 508.9L1145.2 474.3L1145.35 474.3L1145.35 493.2L1145.5 493.2L1145.5 474.3L1145.65 474.3L1145.65 493.2L1145.8 493.2L1145.8 474.3L1145.95 474.3L1145.95 493.2L1146.1 493.2L1146.1 474.3L1146.25 464.4L1146.25 493.2L1146.4 493.2L1146.4 464.4L1146.55 464.4L1146.55 493.2L1146.7 493.2L1146.7 464.4L1146.85 464.4L1146.85 490.8L1147 490.8L1147 464.4L1147.15 464.4L1147.15 490.8L1147.3 490.8L1147.3 464.4L1147.45 451.9L1147.45 490.8L1147.6 490.8L1147.6 451.9L1147.75 451.9L1147.75 490.8L1147.9 490.8L1147.9 451.9L1148.05 451.9L1148.05 471.1L1148.2 471.1L1148.2 451.9L1148.35 451.9L1148.35 471.1L1148.5 471.1L1148.5 451.9L1148.65 451.9L1148.65 471.1L1148.8 471.1L1148.8 451.9L1148.95 451.9L1148.95 471.1L1149.1 471.1L1149.1 451.9L1149.25 443.9L1149.25 471.1L1149.4 471.1L1149.4 443.9L1149.55 443.9L1149.55 471.1L1149.7 471.1L1149.7 443.9L1149.85 443.9L1149.85 471.1L1150 471.1L1150 443.9L1150.15 405.7L1150.15 471.1L1150.3 471.1L1150.3 405.7L1150.45 405.7L1150.45 471.1L1150.6 471.1L1150.6 426.2L1150.75 426.2L1150.75 471.1L1150.9 471.1L1150.9 426.2L1151.05 426.2L1151.05 471.1L1151.2 471.1L1151.2 426.2L1151.35 426.2L1151.35 471.1L1151.5 471.1L1151.5 426.2L1151.65 426.2L1151.65 471.1L1151.8 471.1L1151.8 426.2L1151.95 426.2L1151.95 471.1L1152.1 471.1L1152.1 426.2L1152.25 426.2L1152.25 471.1L1152.4 471.1L1152.4 426.2L1152.55 426.2L1152.55 484L1152.7 484L1152.7 426.2L1152.85 426.2L1152.85 466.7L1153 466.7L1153 426.2L1153.15 426.2L1153.15 466.7L1153.3 466.7L1153.3 426.2L1153.45 426.2L1153.45 466.7L1153.6 466.7L1153.6 443.5L1153.75 443.5L1153.75 466.7L1153.9 466.7L1153.9 443.5L1154.05 443.5L1154.05 466.7L1154.2 466.7L1154.2 443.5L1154.35 443.5L1154.35 466.7L1154.5 466.7L1154.5 443.5L1154.65 443.5L1154.65 466.7L1154.8 466.7L1154.8 443.5L1154.95 443.5L1154.95 466.7L1155.1 466.7L1155.1 443.5L1155.25 443.5L1155.25 466.7L1155.4 466.7L1155.4 443.5L1155.55 443.5L1155.55 466.7L1155.7 466.7L1155.7 443.5L1155.85 443.5L1155.85 466.7L1156 466.7L1156 443.5L1156.15 443.5L1156.15 499.7L1156.3 499.7L1156.3 443.5L1156.45 443.5L1156.45 499.7L1156.6 491.6L1156.6 443.5L1156.75 443.5L1156.75 491.6L1156.9 491.6L1156.9 443.5L1157.05 443.5L1157.05 491.6L1157.2 491.6L1157.2 443.5L1157.35 443.5L1157.35 491.6L1157.5 491.6L1157.5 443.5L1157.65 443.5L1157.65 491.6L1157.8 491.6L1157.8 443.5L1157.95 443.5L1157.95 491.6L1158.1 467.9L1158.1 443.5L1158.25 441.9L1158.25 467.9L1158.4 467.9L1158.4 441.9L1158.55 441.9L1158.55 467.9L1158.7 467.9L1158.7 441.9L1158.85 441.9L1158.85 467.9L1159 467.9L1159 441.9L1159.15 441.9L1159.15 467.9L1159.3 467.9L1159.3 441.9L1159.45 441.9L1159.45 467.9L1159.6 467.9L1159.6 441.9L1159.75 441.9L1159.75 467.9L1159.9 467.9L1159.9 441.9L1160.05 426.6L1160.05 467.9L1160.2 467.9L1160.2 426.6L1160.35 426.6L1160.35 467.9L1160.5 467.9L1160.5 426.6L1160.65 426.6L1160.65 467.9L1160.8 467.9L1160.8 405.7L1160.95 405.7L1160.95 467.9L1161.1 467.9L1161.1 423.4L1161.25 423.4L1161.25 467.9L1161.4 467.9L1161.4 423.4L1161.55 423.4L1161.55 467.9L1161.7 467.9L1161.7 423.4L1161.85 423.4L1161.85 467.9L1162 467.9L1162 423.4L1162.15 423.4L1162.15 467.9L1162.3 467.9L1162.3 423.4L1162.45 423.4L1162.45 467.9L1162.6 467.9L1162.6 423.4L1162.75 423.4L1162.75 467.9L1162.9 467.9L1162.9 423.4L1163.05 423.4L1163.05 467.9L1163.2 467.9L1163.2 423.4L1163.35 423.4L1163.35 467.9L1163.5 467.9L1163.5 423.4L1163.65 423.4L1163.65 467.9L1163.8 467.9L1163.8 408.9L1163.95 408.9L1163.95 467.9L1164.1 467.9L1164.1 454.8L1164.25 454.8L1164.25 484.4L1164.4 484.4L1164.4 454.8L1164.55 454.8L1164.55 484.4L1164.7 484.4L1164.7 454.8L1164.85 454.8L1164.85 484.4L1165 510.9L1165 454.8L1165.15 454.8L1165.15 510.9L1165.3 510.9L1165.3 454.8L1165.45 454.8L1165.45 510.9L1165.6 487.2L1165.6 454.8L1165.75 454.8L1165.75 487.2L1165.9 487.2L1165.9 454.8L1166.05 454.8L1166.05 487.2L1166.2 487.2L1166.2 454.8L1166.35 454.8L1166.35 487.2L1166.5 487.2L1166.5 454.8L1166.65 454.8L1166.65 487.2L1166.8 487.2L1166.8 454.8L1166.95 454.8L1166.95 487.2L1167.1 487.2L1167.1 454.8L1167.25 449.1L1167.25 487.2L1167.4 487.2L1167.4 449.1L1167.55 449.1L1167.55 487.2L1167.7 487.2L1167.7 449.1L1167.85 449.1L1167.85 487.2L1168 487.2L1168 449.1L1168.15 431.6L1168.15 487.2L1168.3 487.2L1168.3 431.6L1168.45 431.6L1168.45 487.2L1168.6 487.2L1168.6 431.6L1168.75 460L1168.75 487.2L1168.9 487.2L1168.9 460L1169.05 460L1169.05 487.2L1169.2 487.2L1169.2 460L1169.35 460L1169.35 487.2L1169.5 487.2L1169.5 460L1169.65 460L1169.65 487.2L1169.8 487.2L1169.8 464L1169.95 464L1169.95 487.2L1170.1 487.2L1170.1 464L1170.25 464L1170.25 509.3L1170.4 509.3L1170.4 464L1170.55 464L1170.55 509.3L1170.7 509.3L1170.7 470.3L1170.85 470.3L1170.85 509.3L1171 509.3L1171 470.3L1171.15 470.3L1171.15 509.3L1171.3 509.3L1171.3 470.3L1171.45 470.3L1171.45 509.3L1171.6 509.3L1171.6 470.3L1171.75 470.3L1171.75 509.3L1171.9 509.3L1171.9 470.3L1172.05 470.3L1172.05 509.3L1172.2 509.3L1172.2 470.3L1172.35 470.3L1172.35 523L1172.5 523L1172.5 470.3L1172.65 470.3L1172.65 523L1172.8 510.1L1172.8 470.3L1172.95 470.3L1172.95 510.1L1173.1 510.1L1173.1 470.3L1173.25 470.3L1173.25 510.1L1173.4 510.1L1173.4 470.3L1173.55 470.3L1173.55 510.1L1173.7 510.1L1173.7 470.3L1173.85 470.3L1173.85 510.1L1174 510.1L1174 470.3L1174.15 470.3L1174.15 510.1L1174.3 510.1L1174.3 470.3L1174.45 470.3L1174.45 510.1L1174.6 506.1L1174.6 470.3L1174.75 470.3L1174.75 506.1L1174.9 506.1L1174.9 470.3L1175.05 445.9L1175.05 506.1L1175.2 506.1L1175.2 445.9L1175.35 445.9L1175.35 506.1L1175.5 506.1L1175.5 445.9L1175.65 454L1175.65 506.1L1175.8 506.1L1175.8 454L1175.95 454L1175.95 506.1L1176.1 506.1L1176.1 454L1176.25 454L1176.25 506.1L1176.4 506.1L1176.4 454L1176.55 454L1176.55 506.1L1176.7 496.9L1176.7 454L1176.85 454L1176.85 496.9L1177 496.9L1177 454L1177.15 454L1177.15 496.9L1177.3 496.9L1177.3 454L1177.45 454L1177.45 496.9L1177.6 496.9L1177.6 454L1177.75 454L1177.75 496.9L1177.9 496.9L1177.9 454L1178.05 454L1178.05 496.9L1178.2 496.9L1178.2 454L1178.35 454L1178.35 496.9L1178.5 496.9L1178.5 454L1178.65 454L1178.65 496.9L1178.8 496.9L1178.8 454L1178.95 454L1178.95 496.9L1179.1 496.9L1179.1 454L1179.25 431.6L1179.25 496.9L1179.4 496.9L1179.4 431.6L1179.55 431.6L1179.55 496.9L1179.7 496.9L1179.7 431.6L1179.85 449.3L1179.85 496.9L1180 496.9L1180 449.3L1180.15 449.3L1180.15 496.9L1180.3 496.9L1180.3 449.3L1180.45 449.3L1180.45 496.9L1180.6 496.9L1180.6 449.3L1180.75 449.3L1180.75 496.9L1180.9 496.9L1180.9 449.3L1181.05 452.9L1181.05 499.7L1181.2 499.7L1181.2 452.9L1181.35 452.9L1181.35 487.2L1181.5 487.2L1181.5 452.9L1181.65 452.9L1181.65 487.2L1181.8 487.2L1181.8 452.9L1181.95 452.9L1181.95 487.2L1182.1 487.2L1182.1 452.9L1182.25 452.9L1182.25 487.2L1182.4 487.2L1182.4 452.9L1182.55 452.9L1182.55 487.2L1182.7 487.2L1182.7 452.9L1182.85 452.9L1182.85 487.2L1183 482L1183 452.9L1183.15 452.9L1183.15 482L1183.3 482L1183.3 452.9L1183.45 452.9L1183.45 482L1183.6 482L1183.6 452.9L1183.75 452.9L1183.75 482L1183.9 482L1183.9 452.9L1184.05 452.9L1184.05 482L1184.2 482L1184.2 452.9L1184.35 452.9L1184.35 482L1184.5 482L1184.5 452.9L1184.65 452.9L1184.65 482L1184.8 482L1184.8 452.9L1184.95 452.9L1184.95 482L1185.1 482L1185.1 452.9L1185.25 452.9L1185.25 482L1185.4 482L1185.4 452.9L1185.55 452.9L1185.55 482L1185.7 482L1185.7 452.9L1185.85 452.9L1185.85 482L1186 482L1186 452.9L1186.15 452.9L1186.15 482L1186.3 482L1186.3 439.5L1186.45 439.5L1186.45 482L1186.6 482L1186.6 439.5L1186.75 439.5L1186.75 482L1186.9 482L1186.9 463.2L1187.05 463.2L1187.05 482L1187.2 482L1187.2 463.2L1187.35 463.2L1187.35 482L1187.5 523.6L1187.5 463.2L1187.65 463.2L1187.65 523.6L1187.8 503.7L1187.8 463.2L1187.95 463.2L1187.95 503.7L1188.1 503.7L1188.1 463.2L1188.25 463.2L1188.25 503.7L1188.4 503.7L1188.4 463.2L1188.55 463.2L1188.55 503.7L1188.7 503.7L1188.7 463.2L1188.85 463.2L1188.85 503.7L1189 503.7L1189 463.2L1189.15 463.2L1189.15 503.7L1189.3 503.7L1189.3 463.2L1189.45 463.2L1189.45 503.7L1189.6 503.7L1189.6 463.2L1189.75 463.2L1189.75 503.7L1189.9 503.7L1189.9 463.2L1190.05 463.2L1190.05 503.7L1190.2 503.7L1190.2 463.2L1190.35 463.2L1190.35 503.7L1190.5 503.7L1190.5 456.8L1190.65 456.8L1190.65 503.7L1190.8 503.7L1190.8 479.9L1190.95 479.9L1190.95 503.7L1191.1 503.7L1191.1 479.9L1191.25 479.9L1191.25 503.7L1191.4 503.7L1191.4 479.9L1191.55 479.9L1191.55 503.7L1191.7 511.3L1191.7 479.9L1191.85 479.9L1191.85 511.3L1192 511.3L1192 479.9L1192.15 479.9L1192.15 511.3L1192.3 511.3L1192.3 479.9L1192.45 479.9L1192.45 511.3L1192.6 511.3L1192.6 479.9L1192.75 479.9L1192.75 511.3L1192.9 511.3L1192.9 479.9L1193.05 479.9L1193.05 511.3L1193.2 511.3L1193.2 479.9L1193.35 479.9L1193.35 511.3L1193.5 518.2L1193.5 479.9L1193.65 479.9L1193.65 518.2L1193.8 518.2L1193.8 479.9L1193.95 479.9L1193.95 518.2L1194.1 518.2L1194.1 479.9L1194.25 479.9L1194.25 518.2L1194.4 518.2L1194.4 479.9L1194.55 479.9L1194.55 518.2L1194.7 518.2L1194.7 479.9L1194.85 479.9L1194.85 508.9L1195 508.9L1195 479.9L1195.15 479.9L1195.15 508.9L1195.3 508.9L1195.3 474.3L1195.45 474.3L1195.45 508.9L1195.6 508.9L1195.6 474.3L1195.75 474.3L1195.75 508.9L1195.9 508.9L1195.9 474.3L1196.05 474.3L1196.05 508.9L1196.2 508.9L1196.2 474.3L1196.35 474.3L1196.35 508.9L1196.5 508.9L1196.5 474.3L1196.65 474.3L1196.65 493.2L1196.8 493.2L1196.8 474.3L1196.95 474.3L1196.95 493.2L1197.1 493.2L1197.1 474.3L1197.25 474.3L1197.25 493.2L1197.4 493.2L1197.4 464.4L1197.55 464.4L1197.55 493.2L1197.7 493.2L1197.7 464.4L1197.85 464.4L1197.85 493.2L1198 493.2L1198 464.4L1198.15 464.4L1198.15 490.8L1198.3 490.8L1198.3 464.4L1198.45 464.4L1198.45 490.8L1198.6 490.8L1198.6 451.9L1198.75 451.9L1198.75 490.8L1198.9 490.8L1198.9 451.9L1199.05 451.9L1199.05 490.8L1199.2 490.8L1199.2 451.9L1199.35 451.9L1199.35 471.1L1199.5 471.1L1199.5 451.9L1199.65 451.9L1199.65 471.1L1199.8 471.1L1199.8 451.9L1199.95 451.9L1199.95 471.1L1200.1 471.1L1200.1 451.9L1200.25 451.9L1200.25 471.1L1200.4 471.1L1200.4 443.9L1200.55 443.9L1200.55 471.1L1200.7 471.1L1200.7 443.9L1200.85 443.9L1200.85 471.1L1201 471.1L1201 443.9L1201.15 443.9L1201.15 471.1L1201.3 471.1L1201.3 405.7L1201.45 405.7L1201.45 471.1L1201.6 471.1L1201.6 405.7L1201.75 405.7L1201.75 471.1L1201.9 471.1L1201.9 426.2L1202.05 426.2L1202.05 471.1L1202.2 471.1L1202.2 426.2L1202.35 426.2L1202.35 471.1L1202.5 471.1L1202.5 426.2L1202.65 426.2L1202.65 471.1L1202.8 471.1L1202.8 426.2L1202.95 426.2L1202.95 471.1L1203.1 471.1L1203.1 426.2L1203.25 426.2L1203.25 471.1L1203.4 471.1L1203.4 426.2L1203.55 426.2L1203.55 471.1L1203.7 484L1203.7 426.2L1203.85 426.2L1203.85 484L1204 466.7L1204 426.2L1204.15 426.2L1204.15 466.7L1204.3 466.7L1204.3 426.2L1204.45 426.2L1204.45 466.7L1204.6 466.7L1204.6 426.2L1204.75 426.2L1204.75 466.7L1204.9 466.7L1204.9 443.5L1205.05 443.5L1205.05 466.7L1205.2 466.7L1205.2 443.5L1205.35 443.5L1205.35 466.7L1205.5 466.7L1205.5 443.5L1205.65 443.5L1205.65 466.7L1205.8 466.7L1205.8 443.5L1205.95 443.5L1205.95 466.7L1206.1 466.7L1206.1 443.5L1206.25 443.5L1206.25 466.7L1206.4 466.7L1206.4 443.5L1206.55 443.5L1206.55 466.7L1206.7 466.7L1206.7 443.5L1206.85 443.5L1206.85 466.7L1207 466.7L1207 443.5L1207.15 443.5L1207.15 466.7L1207.3 499.7L1207.3 443.5L1207.45 443.5L1207.45 499.7L1207.6 499.7L1207.6 443.5L1207.75 443.5L1207.75 499.7L1207.9 491.6L1207.9 443.5L1208.05 443.5L1208.05 491.6L1208.2 491.6L1208.2 443.5L1208.35 443.5L1208.35 491.6L1208.5 491.6L1208.5 443.5L1208.65 443.5L1208.65 491.6L1208.8 491.6L1208.8 443.5L1208.95 443.5L1208.95 491.6L1209.1 491.6L1209.1 443.5L1209.25 443.5L1209.25 467.9L1209.4 467.9L1209.4 441.9L1209.55 441.9L1209.55 467.9L1209.7 467.9L1209.7 441.9L1209.85 441.9L1209.85 467.9L1210 467.9L1210 441.9L1210.15 441.9L1210.15 467.9L1210.3 467.9L1210.3 441.9L1210.45 441.9L1210.45 467.9L1210.6 467.9L1210.6 441.9L1210.75 441.9L1210.75 467.9L1210.9 467.9L1210.9 441.9L1211.05 441.9L1211.05 467.9L1211.2 467.9L1211.2 426.6L1211.35 426.6L1211.35 467.9L1211.5 467.9L1211.5 426.6L1211.65 426.6L1211.65 467.9L1211.8 467.9L1211.8 426.6L1211.95 405.7L1211.95 467.9L1212.1 467.9L1212.1 405.7L1212.25 423.4L1212.25 467.9L1212.4 467.9L1212.4 423.4L1212.55 423.4L1212.55 467.9L1212.7 467.9L1212.7 423.4L1212.85 423.4L1212.85 467.9L1213 467.9L1213 423.4L1213.15 423.4L1213.15 467.9L1213.3 467.9L1213.3 423.4L1213.45 423.4L1213.45 467.9L1213.6 467.9L1213.6 423.4L1213.75 423.4L1213.75 467.9L1213.9 467.9L1213.9 423.4L1214.05 423.4L1214.05 467.9L1214.2 467.9L1214.2 423.4L1214.35 423.4L1214.35 467.9L1214.5 467.9L1214.5 423.4L1214.65 423.4L1214.65 467.9L1214.8 467.9L1214.8 423.4L1214.95 423.4L1214.95 467.9L1215.1 467.9L1215.1 408.9L1215.25 408.9L1215.25 467.9L1215.4 484.4L1215.4 454.8L1215.55 454.8L1215.55 484.4L1215.7 484.4L1215.7 454.8L1215.85 454.8L1215.85 484.4L1216 484.4L1216 454.8L1216.15 454.8L1216.15 510.9L1216.3 510.9L1216.3 454.8L1216.45 454.8L1216.45 510.9L1216.6 510.9L1216.6 454.8L1216.75 454.8L1216.75 487.2L1216.9 487.2L1216.9 454.8L1217.05 454.8L1217.05 487.2L1217.2 487.2L1217.2 454.8L1217.35 454.8L1217.35 487.2L1217.5 487.2L1217.5 454.8L1217.65 454.8L1217.65 487.2L1217.8 487.2L1217.8 454.8L1217.95 454.8L1217.95 487.2L1218.1 487.2L1218.1 454.8L1218.25 454.8L1218.25 487.2L1218.4 487.2L1218.4 449.1L1218.55 449.1L1218.55 487.2L1218.7 487.2L1218.7 449.1L1218.85 449.1L1218.85 487.2L1219 487.2L1219 449.1L1219.15 449.1L1219.15 487.2L1219.3 487.2L1219.3 431.6L1219.45 431.6L1219.45 487.2L1219.6 487.2L1219.6 431.6L1219.75 431.6L1219.75 487.2L1219.9 487.2L1219.9 460L1220.05 460L1220.05 487.2L1220.2 487.2L1220.2 460L1220.35 460L1220.35 487.2L1220.5 487.2L1220.5 460L1220.65 460L1220.65 487.2L1220.8 487.2L1220.8 460L1220.95 464L1220.95 487.2L1221.1 487.2L1221.1 464L1221.25 464L1221.25 487.2L1221.4 487.2L1221.4 464L1221.55 464L1221.55 509.3L1221.7 509.3L1221.7 464L1221.85 470.3L1221.85 509.3L1222 509.3L1222 470.3L1222.15 470.3L1222.15 509.3L1222.3 509.3L1222.3 470.3L1222.45 470.3L1222.45 509.3L1222.6 509.3L1222.6 470.3L1222.75 470.3L1222.75 509.3L1222.9 509.3L1222.9 470.3L1223.05 470.3L1223.05 509.3L1223.2 509.3L1223.2 470.3L1223.35 470.3L1223.35 509.3L1223.5 509.3L1223.5 470.3L1223.65 470.3L1223.65 523L1223.8 523L1223.8 470.3L1223.95 470.3L1223.95 510.1L1224.1 510.1L1224.1 470.3L1224.25 470.3L1224.25 510.1L1224.4 510.1L1224.4 470.3L1224.55 470.3L1224.55 510.1L1224.7 510.1L1224.7 470.3L1224.85 470.3L1224.85 510.1L1225 510.1L1225 470.3L1225.15 470.3L1225.15 510.1L1225.3 510.1L1225.3 470.3L1225.45 470.3L1225.45 510.1L1225.6 510.1L1225.6 470.3L1225.75 470.3L1225.75 506.1L1225.9 506.1L1225.9 470.3L1226.05 470.3L1226.05 506.1L1226.2 506.1L1226.2 470.3L1226.35 445.9L1226.35 506.1L1226.5 506.1L1226.5 445.9L1226.65 445.9L1226.65 506.1L1226.8 506.1L1226.8 445.9L1226.95 454L1226.95 506.1L1227.1 506.1L1227.1 454L1227.25 454L1227.25 506.1L1227.4 506.1L1227.4 454L1227.55 454L1227.55 506.1L1227.7 506.1L1227.7 454L1227.85 454L1227.85 496.9L1228 496.9L1228 454L1228.15 454L1228.15 496.9L1228.3 496.9L1228.3 454L1228.45 454L1228.45 496.9L1228.6 496.9L1228.6 454L1228.75 454L1228.75 496.9L1228.9 496.9L1228.9 454L1229.05 454L1229.05 496.9L1229.2 496.9L1229.2 454L1229.35 454L1229.35 496.9L1229.5 496.9L1229.5 454L1229.65 454L1229.65 496.9L1229.8 496.9L1229.8 454L1229.95 454L1229.95 496.9L1230.1 496.9L1230.1 454L1230.25 454L1230.25 496.9L1230.4 496.9L1230.4 454L1230.55 431.6L1230.55 496.9L1230.7 496.9L1230.7 431.6L1230.85 431.6L1230.85 496.9L1231 496.9L1231 431.6L1231.15 449.3L1231.15 496.9L1231.3 496.9L1231.3 449.3L1231.45 449.3L1231.45 496.9L1231.6 496.9L1231.6 449.3L1231.75 449.3L1231.75 496.9L1231.9 496.9L1231.9 449.3L1232.05 449.3L1232.05 496.9L1232.2 499.7L1232.2 449.3L1232.35 452.9L1232.35 499.7L1232.5 487.2L1232.5 452.9L1232.65 452.9L1232.65 487.2L1232.8 487.2L1232.8 452.9L1232.95 452.9L1232.95 487.2L1233.1 487.2L1233.1 452.9L1233.25 452.9L1233.25 487.2L1233.4 487.2L1233.4 452.9L1233.55 452.9L1233.55 487.2L1233.7 487.2L1233.7 452.9L1233.85 452.9L1233.85 487.2L1234 487.2L1234 452.9L1234.15 452.9L1234.15 487.2L1234.3 482L1234.3 452.9L1234.45 452.9L1234.45 482L1234.6 482L1234.6 452.9L1234.75 452.9L1234.75 482L1234.9 482L1234.9 452.9L1235.05 452.9L1235.05 482L1235.2 482L1235.2 452.9L1235.35 452.9L1235.35 482L1235.5 482L1235.5 452.9L1235.65 452.9L1235.65 482L1235.8 482L1235.8 452.9L1235.95 452.9L1235.95 482L1236.1 482L1236.1 452.9L1236.25 452.9L1236.25 482L1236.4 482L1236.4 452.9L1236.55 452.9L1236.55 482L1236.7 482L1236.7 452.9L1236.85 452.9L1236.85 482L1237 482L1237 452.9L1237.15 452.9L1237.15 482L1237.3 482L1237.3 452.9L1237.45 439.5L1237.45 482L1237.6 482L1237.6 439.5L1237.6 585.6L1493.4 585.6L1493.4 430.2L1493.4 383.8L1493.55 383.8L1493.55 430.2L1493.7 430.2L1493.7 383.8L1493.85 383.8L1493.85 430.2L1494 430.2L1494 402L1494.15 402L1494.15 430.2L1494.3 430.2L1494.3 402L1494.45 402L1494.45 492.6L1494.6 492.6L1494.6 402L1494.75 402L1494.75 492.6L1494.9 462.7L1494.9 402L1495.05 402L1495.05 462.7L1495.2 462.7L1495.2 402L1495.35 402L1495.35 462.7L1495.5 462.7L1495.5 402L1495.65 402L1495.65 462.7L1495.8 462.7L1495.8 402L1495.95 402L1495.95 462.7L1496.1 462.7L1496.1 402L1496.25 402L1496.25 462.7L1496.4 462.7L1496.4 402L1496.55 402L1496.55 462.7L1496.7 462.7L1496.7 402L1496.85 402L1496.85 462.7L1497 462.7L1497 402L1497.15 402L1497.15 462.7L1497.3 462.7L1497.3 402L1497.45 392.3L1497.45 462.7L1497.6 462.7L1497.6 392.3L1497.75 392.3L1497.75 462.7L1497.9 462.7L1497.9 427.1L1498.05 427.1L1498.05 462.7L1498.2 462.7L1498.2 427.1L1498.35 427.1L1498.35 462.7L1498.5 462.7L1498.5 427.1L1498.65 427.1L1498.65 474.2L1498.8 474.2L1498.8 427.1L1498.95 427.1L1498.95 474.2L1499.1 474.2L1499.1 427.1L1499.25 427.1L1499.25 474.2L1499.4 474.2L1499.4 427.1L1499.55 427.1L1499.55 474.2L1499.7 474.2L1499.7 427.1L1499.85 427.1L1499.85 474.2L1500 474.2L1500 427.1L1500.15 427.1L1500.15 474.2L1500.3 474.2L1500.3 427.1L1500.45 427.1L1500.45 484.4L1500.6 484.4L1500.6 427.1L1500.75 427.1L1500.75 484.4L1500.9 484.4L1500.9 427.1L1501.05 427.1L1501.05 484.4L1501.2 484.4L1501.2 427.1L1501.35 427.1L1501.35 484.4L1501.5 484.4L1501.5 427.1L1501.65 427.1L1501.65 484.4L1501.8 470.6L1501.8 427.1L1501.95 427.1L1501.95 470.6L1502.1 470.6L1502.1 427.1L1502.25 418.6L1502.25 470.6L1502.4 470.6L1502.4 418.6L1502.55 418.6L1502.55 470.6L1502.7 470.6L1502.7 418.6L1502.85 418.6L1502.85 470.6L1503 470.6L1503 418.6L1503.15 418.6L1503.15 470.6L1503.3 470.6L1503.3 418.6L1503.45 418.6L1503.45 470.6L1503.6 447.1L1503.6 418.6L1503.75 418.6L1503.75 447.1L1503.9 447.1L1503.9 418.6L1504.05 418.6L1504.05 447.1L1504.2 447.1L1504.2 418.6L1504.35 403.8L1504.35 447.1L1504.5 447.1L1504.5 403.8L1504.65 403.8L1504.65 447.1L1504.8 447.1L1504.8 403.8L1504.95 403.8L1504.95 447.1L1505.1 443.5L1505.1 403.8L1505.25 403.8L1505.25 443.5L1505.4 443.5L1505.4 403.8L1505.55 385.1L1505.55 443.5L1505.7 443.5L1505.7 385.1L1505.85 385.1L1505.85 443.5L1506 443.5L1506 385.1L1506.15 385.1L1506.15 443.5L1506.3 413.9L1506.3 385.1L1506.45 385.1L1506.45 413.9L1506.6 413.9L1506.6 385.1L1506.75 385.1L1506.75 413.9L1506.9 413.9L1506.9 385.1L1507.05 385.1L1507.05 413.9L1507.2 413.9L1507.2 385.1L1507.35 373.1L1507.35 413.9L1507.5 413.9L1507.5 373.1L1507.65 373.1L1507.65 413.9L1507.8 413.9L1507.8 373.1L1507.95 373.1L1507.95 413.9L1508.1 413.9L1508.1 373.1L1508.25 315.8L1508.25 413.9L1508.4 413.9L1508.4 315.8L1508.55 315.8L1508.55 413.9L1508.7 413.9L1508.7 315.8L1508.85 346.5L1508.85 413.9L1509 413.9L1509 346.5L1509.15 346.5L1509.15 413.9L1509.3 413.9L1509.3 346.5L1509.45 346.5L1509.45 413.9L1509.6 413.9L1509.6 346.5L1509.75 346.5L1509.75 413.9L1509.9 413.9L1509.9 346.5L1510.05 346.5L1510.05 413.9L1510.2 413.9L1510.2 346.5L1510.35 346.5L1510.35 413.9L1510.5 413.9L1510.5 346.5L1510.65 346.5L1510.65 413.9L1510.8 433.2L1510.8 346.5L1510.95 346.5L1510.95 433.2L1511.1 407.3L1511.1 346.5L1511.25 346.5L1511.25 407.3L1511.4 407.3L1511.4 346.5L1511.55 346.5L1511.55 407.3L1511.7 407.3L1511.7 346.5L1511.85 372.5L1511.85 407.3L1512 407.3L1512 372.5L1512.15 372.5L1512.15 407.3L1512.3 407.3L1512.3 372.5L1512.45 372.5L1512.45 407.3L1512.6 407.3L1512.6 372.5L1512.75 372.5L1512.75 407.3L1512.9 407.3L1512.9 372.5L1513.05 372.5L1513.05 407.3L1513.2 407.3L1513.2 372.5L1513.35 372.5L1513.35 407.3L1513.5 407.3L1513.5 372.5L1513.65 372.5L1513.65 407.3L1513.8 407.3L1513.8 372.5L1513.95 372.5L1513.95 407.3L1514.1 407.3L1514.1 372.5L1514.25 372.5L1514.25 456.7L1514.4 456.7L1514.4 372.5L1514.55 372.5L1514.55 456.7L1514.7 456.7L1514.7 372.5L1514.85 372.5L1514.85 444.7L1515 444.7L1515 372.5L1515.15 372.5L1515.15 444.7L1515.3 444.7L1515.3 372.5L1515.45 372.5L1515.45 444.7L1515.6 444.7L1515.6 372.5L1515.75 372.5L1515.75 444.7L1515.9 444.7L1515.9 372.5L1516.05 372.5L1516.05 444.7L1516.2 409.1L1516.2 372.5L1516.35 372.5L1516.35 409.1L1516.5 409.1L1516.5 370L1516.65 370L1516.65 409.1L1516.8 409.1L1516.8 370L1516.95 370L1516.95 409.1L1517.1 409.1L1517.1 370L1517.25 370L1517.25 409.1L1517.4 409.1L1517.4 370L1517.55 370L1517.55 409.1L1517.7 409.1L1517.7 370L1517.85 370L1517.85 409.1L1518 409.1L1518 370L1518.15 370L1518.15 409.1L1518.3 409.1L1518.3 347.1L1518.45 347.1L1518.45 409.1L1518.6 409.1L1518.6 347.1L1518.75 347.1L1518.75 409.1L1518.9 409.1L1518.9 347.1L1519.05 315.8L1519.05 409.1L1519.2 409.1L1519.2 315.8L1519.35 342.3L1519.35 409.1L1519.5 409.1L1519.5 342.3L1519.65 342.3L1519.65 409.1L1519.8 409.1L1519.8 342.3L1519.95 342.3L1519.95 409.1L1520.1 409.1L1520.1 342.3L1520.25 342.3L1520.25 409.1L1520.4 409.1L1520.4 342.3L1520.55 342.3L1520.55 409.1L1520.7 409.1L1520.7 342.3L1520.85 342.3L1520.85 409.1L1521 409.1L1521 342.3L1521.15 342.3L1521.15 409.1L1521.3 409.1L1521.3 342.3L1521.45 342.3L1521.45 409.1L1521.6 409.1L1521.6 342.3L1521.75 342.3L1521.75 409.1L1521.9 409.1L1521.9 342.3L1522.05 320.6L1522.05 409.1L1522.2 409.1L1522.2 320.6L1522.35 389.3L1522.35 409.1L1522.5 433.8L1522.5 389.3L1522.65 389.3L1522.65 433.8L1522.8 433.8L1522.8 389.3L1522.95 389.3L1522.95 433.8L1523.1 433.8L1523.1 389.3L1523.25 389.3L1523.25 473.6L1523.4 473.6L1523.4 389.3L1523.55 389.3L1523.55 473.6L1523.7 438L1523.7 389.3L1523.85 389.3L1523.85 438L1524 438L1524 389.3L1524.15 389.3L1524.15 438L1524.3 438L1524.3 389.3L1524.45 389.3L1524.45 438L1524.6 438L1524.6 389.3L1524.75 389.3L1524.75 438L1524.9 438L1524.9 389.3L1525.05 389.3L1525.05 438L1525.2 438L1525.2 389.3L1525.35 389.3L1525.35 438L1525.5 438L1525.5 380.9L1525.65 380.9L1525.65 438L1525.8 438L1525.8 380.9L1525.95 380.9L1525.95 438L1526.1 438L1526.1 380.9L1526.25 380.9L1526.25 438L1526.4 438L1526.4 354.7L1526.55 354.7L1526.55 438L1526.7 438L1526.7 354.7L1526.85 397.2L1526.85 438L1527 438L1527 397.2L1527.15 397.2L1527.15 438L1527.3 438L1527.3 397.2L1527.45 397.2L1527.45 438L1527.6 438L1527.6 397.2L1527.75 397.2L1527.75 438L1527.9 438L1527.9 397.2L1528.05 403.2L1528.05 438L1528.2 438L1528.2 403.2L1528.35 403.2L1528.35 438L1528.5 471.2L1528.5 403.2L1528.65 403.2L1528.65 471.2L1528.8 471.2L1528.8 403.2L1528.95 412.6L1528.95 471.2L1529.1 471.2L1529.1 412.6L1529.25 412.6L1529.25 471.2L1529.4 471.2L1529.4 412.6L1529.55 412.6L1529.55 471.2L1529.7 471.2L1529.7 412.6L1529.85 412.6L1529.85 471.2L1530 471.2L1530 412.6L1530.15 412.6L1530.15 471.2L1530.3 471.2L1530.3 412.6L1530.45 412.6L1530.45 471.2L1530.6 491.7L1530.6 412.6L1530.75 412.6L1530.75 491.7L1530.9 491.7L1530.9 412.6L1531.05 412.6L1531.05 472.4L1531.2 472.4L1531.2 412.6L1531.35 412.6L1531.35 472.4L1531.5 472.4L1531.5 412.6L1531.65 412.6L1531.65 472.4L1531.8 472.4L1531.8 412.6L1531.95 412.6L1531.95 472.4L1532.1 472.4L1532.1 412.6L1532.25 412.6L1532.25 472.4L1532.4 472.4L1532.4 412.6L1532.55 412.6L1532.55 472.4L1532.7 472.4L1532.7 412.6L1532.85 412.6L1532.85 466.4L1533 466.4L1533 412.6L1533.15 412.6L1533.15 466.4L1533.3 466.4L1533.3 376.1L1533.45 376.1L1533.45 466.4L1533.6 466.4L1533.6 376.1L1533.75 376.1L1533.75 466.4L1533.9 466.4L1533.9 388.1L1534.05 388.1L1534.05 466.4L1534.2 466.4L1534.2 388.1L1534.35 388.1L1534.35 466.4L1534.5 466.4L1534.5 388.1L1534.65 388.1L1534.65 466.4L1534.8 466.4L1534.8 388.1L1534.95 388.1L1534.95 452.5L1535.1 452.5L1535.1 388.1L1535.25 388.1L1535.25 452.5L1535.4 452.5L1535.4 388.1L1535.55 388.1L1535.55 452.5L1535.7 452.5L1535.7 388.1L1535.85 388.1L1535.85 452.5L1536 452.5L1536 388.1L1536.15 388.1L1536.15 452.5L1536.3 452.5L1536.3 388.1L1536.45 388.1L1536.45 452.5L1536.6 452.5L1536.6 388.1L1536.75 388.1L1536.75 452.5L1536.9 452.5L1536.9 388.1L1537.05 388.1L1537.05 452.5L1537.2 452.5L1537.2 388.1L1537.35 388.1L1537.35 452.5L1537.5 452.5L1537.5 354.7L1537.65 354.7L1537.65 452.5L1537.8 452.5L1537.8 354.7L1537.95 354.7L1537.95 452.5L1538.1 452.5L1538.1 381.2L1538.25 381.2L1538.25 452.5L1538.4 452.5L1538.4 381.2L1538.55 381.2L1538.55 452.5L1538.7 452.5L1538.7 381.2L1538.85 381.2L1538.85 452.5L1539 452.5L1539 381.2L1539.15 381.2L1539.15 456.7L1539.3 456.7L1539.3 386.6L1539.45 386.6L1539.45 438L1539.6 438L1539.6 386.6L1539.75 386.6L1539.75 438L1539.9 438L1539.9 386.6L1540.05 386.6L1540.05 438L1540.2 438L1540.2 386.6L1540.35 386.6L1540.35 438L1540.5 438L1540.5 386.6L1540.65 386.6L1540.65 438L1540.8 438L1540.8 386.6L1540.95 386.6L1540.95 438L1541.1 438L1541.1 386.6L1541.25 386.6L1541.25 430.2L1541.4 430.2L1541.4 386.6L1541.55 386.6L1541.55 430.2L1541.7 430.2L1541.7 386.6L1541.85 386.6L1541.85 430.2L1542 430.2L1542 386.6L1542.15 386.6L1542.15 430.2L1542.3 430.2L1542.3 386.6L1542.45 386.6L1542.45 430.2L1542.6 430.2L1542.6 386.6L1542.75 386.6L1542.75 430.2L1542.9 430.2L1542.9 386.6L1543.05 386.6L1543.05 430.2L1543.2 430.2L1543.2 386.6L1543.35 386.6L1543.35 430.2L1543.5 430.2L1543.5 386.6L1543.65 386.6L1543.65 430.2L1543.8 430.2L1543.8 386.6L1543.95 386.6L1543.95 430.2L1544.1 430.2L1544.1 386.6L1544.25 386.6L1544.25 430.2L1544.4 430.2L1544.4 366.4L1544.55 366.4L1544.55 430.2L1544.7 430.2L1544.7 366.4L1544.85 366.4L1544.85 430.2L1545 430.2L1545 366.4L1545.15 402L1545.15 430.2L1545.3 430.2L1545.3 402L1545.45 402L1545.45 430.2L1545.6 492.6L1545.6 402L1545.75 402L1545.75 492.6L1545.9 492.6L1545.9 402L1546.05 402L1546.05 462.7L1546.2 462.7L1546.2 402L1546.35 402L1546.35 462.7L1546.5 462.7L1546.5 402L1546.65 402L1546.65 462.7L1546.8 462.7L1546.8 402L1546.95 402L1546.95 462.7L1547.1 462.7L1547.1 402L1547.25 402L1547.25 462.7L1547.4 462.7L1547.4 402L1547.55 402L1547.55 462.7L1547.7 462.7L1547.7 402L1547.85 402L1547.85 462.7L1548 462.7L1548 402L1548.15 402L1548.15 462.7L1548.3 462.7L1548.3 402L1548.45 402L1548.45 462.7L1548.6 462.7L1548.6 392.3L1548.75 392.3L1548.75 462.7L1548.9 462.7L1548.9 392.3L1549.05 427.1L1549.05 462.7L1549.2 462.7L1549.2 427.1L1549.35 427.1L1549.35 462.7L1549.5 462.7L1549.5 427.1L1549.65 427.1L1549.65 462.7L1549.8 474.2L1549.8 427.1L1549.95 427.1L1549.95 474.2L1550.1 474.2L1550.1 427.1L1550.25 427.1L1550.25 474.2L1550.4 474.2L1550.4 427.1L1550.55 427.1L1550.55 474.2L1550.7 474.2L1550.7 427.1L1550.85 427.1L1550.85 474.2L1551 474.2L1551 427.1L1551.15 427.1L1551.15 474.2L1551.3 474.2L1551.3 427.1L1551.45 427.1L1551.45 474.2L1551.6 484.4L1551.6 427.1L1551.75 427.1L1551.75 484.4L1551.9 484.4L1551.9 427.1L1552.05 427.1L1552.05 484.4L1552.2 484.4L1552.2 427.1L1552.35 427.1L1552.35 484.4L1552.5 484.4L1552.5 427.1L1552.65 427.1L1552.65 484.4L1552.8 484.4L1552.8 427.1L1552.95 427.1L1552.95 470.6L1553.1 470.6L1553.1 427.1L1553.25 427.1L1553.25 470.6L1553.4 470.6L1553.4 418.6L1553.55 418.6L1553.55 470.6L1553.7 470.6L1553.7 418.6L1553.85 418.6L1553.85 470.6L1554 470.6L1554 418.6L1554.15 418.6L1554.15 470.6L1554.3 470.6L1554.3 418.6L1554.45 418.6L1554.45 470.6L1554.6 470.6L1554.6 418.6L1554.75 418.6L1554.75 447.1L1554.9 447.1L1554.9 418.6L1555.05 418.6L1555.05 447.1L1555.2 447.1L1555.2 418.6L1555.35 418.6L1555.35 447.1L1555.5 447.1L1555.5 418.6L1555.65 403.8L1555.65 447.1L1555.8 447.1L1555.8 403.8L1555.95 403.8L1555.95 447.1L1556.1 447.1L1556.1 403.8L1556.25 403.8L1556.25 443.5L1556.4 443.5L1556.4 403.8L1556.55 403.8L1556.55 443.5L1556.7 443.5L1556.7 403.8L1556.85 385.1L1556.85 443.5L1557 443.5L1557 385.1L1557.15 385.1L1557.15 443.5L1557.3 443.5L1557.3 385.1L1557.45 385.1L1557.45 413.9L1557.6 413.9L1557.6 385.1L1557.75 385.1L1557.75 413.9L1557.9 413.9L1557.9 385.1L1558.05 385.1L1558.05 413.9L1558.2 413.9L1558.2 385.1L1558.35 385.1L1558.35 413.9L1558.5 413.9L1558.5 385.1L1558.65 373.1L1558.65 413.9L1558.8 413.9L1558.8 373.1L1558.95 373.1L1558.95 413.9L1559.1 413.9L1559.1 373.1L1559.25 373.1L1559.25 413.9L1559.4 413.9L1559.4 373.1L1559.55 315.8L1559.55 413.9L1559.7 413.9L1559.7 315.8L1559.85 315.8L1559.85 413.9L1560 413.9L1560 346.5L1560.15 346.5L1560.15 413.9L1560.3 413.9L1560.3 346.5L1560.45 346.5L1560.45 413.9L1560.6 413.9L1560.6 346.5L1560.75 346.5L1560.75 413.9L1560.9 413.9L1560.9 346.5L1561.05 346.5L1561.05 413.9L1561.2 413.9L1561.2 346.5L1561.35 346.5L1561.35 413.9L1561.5 413.9L1561.5 346.5L1561.65 346.5L1561.65 413.9L1561.8 413.9L1561.8 346.5L1561.95 346.5L1561.95 433.2L1562.1 433.2L1562.1 346.5L1562.25 346.5L1562.25 407.3L1562.4 407.3L1562.4 346.5L1562.55 346.5L1562.55 407.3L1562.7 407.3L1562.7 346.5L1562.85 346.5L1562.85 407.3L1563 407.3L1563 372.5L1563.15 372.5L1563.15 407.3L1563.3 407.3L1563.3 372.5L1563.45 372.5L1563.45 407.3L1563.6 407.3L1563.6 372.5L1563.75 372.5L1563.75 407.3L1563.9 407.3L1563.9 372.5L1564.05 372.5L1564.05 407.3L1564.2 407.3L1564.2 372.5L1564.35 372.5L1564.35 407.3L1564.5 407.3L1564.5 372.5L1564.65 372.5L1564.65 407.3L1564.8 407.3L1564.8 372.5L1564.95 372.5L1564.95 407.3L1565.1 407.3L1565.1 372.5L1565.25 372.5L1565.25 407.3L1565.4 407.3L1565.4 372.5L1565.55 372.5L1565.55 456.7L1565.7 456.7L1565.7 372.5L1565.85 372.5L1565.85 456.7L1566 444.7L1566 372.5L1566.15 372.5L1566.15 444.7L1566.3 444.7L1566.3 372.5L1566.45 372.5L1566.45 444.7L1566.6 444.7L1566.6 372.5L1566.75 372.5L1566.75 444.7L1566.9 444.7L1566.9 372.5L1567.05 372.5L1567.05 444.7L1567.2 444.7L1567.2 372.5L1567.35 372.5L1567.35 444.7L1567.5 409.1L1567.5 372.5L1567.65 370L1567.65 409.1L1567.8 409.1L1567.8 370L1567.95 370L1567.95 409.1L1568.1 409.1L1568.1 370L1568.25 370L1568.25 409.1L1568.4 409.1L1568.4 370L1568.55 370L1568.55 409.1L1568.7 409.1L1568.7 370L1568.85 370L1568.85 409.1L1569 409.1L1569 370L1569.15 370L1569.15 409.1L1569.3 409.1L1569.3 370L1569.45 347.1L1569.45 409.1L1569.6 409.1L1569.6 347.1L1569.75 347.1L1569.75 409.1L1569.9 409.1L1569.9 347.1L1570.05 347.1L1570.05 409.1L1570.2 409.1L1570.2 315.8L1570.35 315.8L1570.35 409.1L1570.5 409.1L1570.5 342.3L1570.65 342.3L1570.65 409.1L1570.8 409.1L1570.8 342.3L1570.95 342.3L1570.95 409.1L1571.1 409.1L1571.1 342.3L1571.25 342.3L1571.25 409.1L1571.4 409.1L1571.4 342.3L1571.55 342.3L1571.55 409.1L1571.7 409.1L1571.7 342.3L1571.85 342.3L1571.85 409.1L1572 409.1L1572 342.3L1572.15 342.3L1572.15 409.1L1572.3 409.1L1572.3 342.3L1572.45 342.3L1572.45 409.1L1572.6 409.1L1572.6 342.3L1572.75 342.3L1572.75 409.1L1572.9 409.1L1572.9 342.3L1573.05 342.3L1573.05 409.1L1573.2 409.1L1573.2 320.6L1573.35 320.6L1573.35 409.1L1573.5 409.1L1573.5 389.3L1573.65 389.3L1573.65 433.8L1573.8 433.8L1573.8 389.3L1573.95 389.3L1573.95 433.8L1574.1 433.8L1574.1 389.3L1574.25 389.3L1574.25 433.8L1574.4 473.6L1574.4 389.3L1574.55 389.3L1574.55 473.6L1574.7 473.6L1574.7 389.3L1574.85 389.3L1574.85 473.6L1575 438L1575 389.3L1575.15 389.3L1575.15 438L1575.3 438L1575.3 389.3L1575.45 389.3L1575.45 438L1575.6 438L1575.6 389.3L1575.75 389.3L1575.75 438L1575.9 438L1575.9 389.3L1576.05 389.3L1576.05 438L1576.2 438L1576.2 389.3L1576.35 389.3L1576.35 438L1576.5 438L1576.5 389.3L1576.65 380.9L1576.65 438L1576.8 438L1576.8 380.9L1576.95 380.9L1576.95 438L1577.1 438L1577.1 380.9L1577.25 380.9L1577.25 438L1577.4 438L1577.4 380.9L1577.55 354.7L1577.55 438L1577.7 438L1577.7 354.7L1577.85 354.7L1577.85 438L1578 438L1578 354.7L1578.15 397.2L1578.15 438L1578.3 438L1578.3 397.2L1578.45 397.2L1578.45 438L1578.6 438L1578.6 397.2L1578.75 397.2L1578.75 438L1578.9 438L1578.9 397.2L1579.05 397.2L1579.05 438L1579.2 438L1579.2 403.2L1579.35 403.2L1579.35 438L1579.5 438L1579.5 403.2L1579.65 403.2L1579.65 471.2L1579.8 471.2L1579.8 403.2L1579.95 403.2L1579.95 471.2L1580.1 471.2L1580.1 412.6L1580.25 412.6L1580.25 471.2L1580.4 471.2L1580.4 412.6L1580.55 412.6L1580.55 471.2L1580.7 471.2L1580.7 412.6L1580.85 412.6L1580.85 471.2L1581 471.2L1581 412.6L1581.15 412.6L1581.15 471.2L1581.3 471.2L1581.3 412.6L1581.45 412.6L1581.45 471.2L1581.6 471.2L1581.6 412.6L1581.75 412.6L1581.75 491.7L1581.9 491.7L1581.9 412.6L1582.05 412.6L1582.05 491.7L1582.2 472.4L1582.2 412.6L1582.35 412.6L1582.35 472.4L1582.5 472.4L1582.5 412.6L1582.65 412.6L1582.65 472.4L1582.8 472.4L1582.8 412.6L1582.95 412.6L1582.95 472.4L1583.1 472.4L1583.1 412.6L1583.25 412.6L1583.25 472.4L1583.4 472.4L1583.4 412.6L1583.55 412.6L1583.55 472.4L1583.7 472.4L1583.7 412.6L1583.85 412.6L1583.85 472.4L1584 466.4L1584 412.6L1584.15 412.6L1584.15 466.4L1584.3 466.4L1584.3 412.6L1584.45 376.1L1584.45 466.4L1584.6 466.4L1584.6 376.1L1584.75 376.1L1584.75 466.4L1584.9 466.4L1584.9 376.1L1585.05 388.1L1585.05 466.4L1585.2 466.4L1585.2 388.1L1585.35 388.1L1585.35 466.4L1585.5 466.4L1585.5 388.1L1585.65 388.1L1585.65 466.4L1585.8 466.4L1585.8 388.1L1585.95 388.1L1585.95 466.4L1586.1 452.5L1586.1 388.1L1586.25 388.1L1586.25 452.5L1586.4 452.5L1586.4 388.1L1586.55 388.1L1586.55 452.5L1586.7 452.5L1586.7 388.1L1586.85 388.1L1586.85 452.5L1587 452.5L1587 388.1L1587.15 388.1L1587.15 452.5L1587.3 452.5L1587.3 388.1L1587.45 388.1L1587.45 452.5L1587.6 452.5L1587.6 388.1L1587.75 388.1L1587.75 452.5L1587.9 452.5L1587.9 388.1L1588.05 388.1L1588.05 452.5L1588.2 452.5L1588.2 388.1L1588.35 388.1L1588.35 452.5L1588.5 452.5L1588.5 388.1L1588.65 354.7L1588.65 452.5L1588.8 452.5L1588.8 354.7L1588.95 354.7L1588.95 452.5L1589.1 452.5L1589.1 354.7L1589.25 381.2L1589.25 452.5L1589.4 452.5L1589.4 381.2L1589.55 381.2L1589.55 452.5L1589.7 452.5L1589.7 381.2L1589.85 381.2L1589.85 452.5L1590 452.5L1590 381.2L1590.15 381.2L1590.15 452.5L1590.3 452.5L1590.3 381.2L1590.45 386.6L1590.45 456.7L1590.6 456.7L1590.6 386.6L1590.75 386.6L1590.75 438L1590.9 438L1590.9 386.6L1591.05 386.6L1591.05 438L1591.2 438L1591.2 386.6L1591.35 386.6L1591.35 438L1591.5 438L1591.5 386.6L1591.65 386.6L1591.65 438L1591.8 438L1591.8 386.6L1591.95 386.6L1591.95 438L1592.1 438L1592.1 386.6L1592.25 386.6L1592.25 438L1592.4 430.2L1592.4 386.6L1592.55 386.6L1592.55 430.2L1592.7 430.2L1592.7 386.6L1592.85 386.6L1592.85 430.2L1593 430.2L1593 386.6L1593.15 386.6L1593.15 430.2L1593.3 430.2L1593.3 386.6L1593.45 386.6L1593.45 430.2L1593.6 430.2L1593.6 386.6L1593.75 386.6L1593.75 430.2L1593.9 430.2L1593.9 386.6L1594.05 386.6L1594.05 430.2L1594.2 430.2L1594.2 386.6L1594.35 386.6L1594.35 430.2L1594.5 430.2L1594.5 386.6L1594.65 386.6L1594.65 430.2L1594.8 430.2L1594.8 386.6L1594.95 386.6L1594.95 430.2L1595.1 430.2L1595.1 386.6L1595.25 386.6L1595.25 430.2L1595.4 430.2L1595.4 386.6L1595.55 386.6L1595.55 430.2L1595.7 430.2L1595.7 366.4L1595.85 366.4L1595.85 430.2L1596 430.2L1596 366.4L1596.15 366.4L1596.15 430.2L1596.3 430.2L1596.3 402L1596.45 402L1596.45 430.2L1596.6 430.2L1596.6 402L1596.75 402L1596.75 430.2L1596.9 492.6L1596.9 402L1597.05 402L1597.05 492.6L1597.2 462.7L1597.2 402L1597.35 402L1597.35 462.7L1597.5 462.7L1597.5 402L1597.65 402L1597.65 462.7L1597.8 462.7L1597.8 402L1597.95 402L1597.95 462.7L1598.1 462.7L1598.1 402L1598.25 402L1598.25 462.7L1598.4 462.7L1598.4 402L1598.55 402L1598.55 462.7L1598.7 462.7L1598.7 402L1598.85 402L1598.85 462.7L1599 462.7L1599 402L1599.15 402L1599.15 462.7L1599.3 462.7L1599.3 402L1599.45 402L1599.45 462.7L1599.6 462.7L1599.6 402L1599.75 402L1599.75 462.7L1599.9 462.7L1599.9 392.3L1600.05 392.3L1600.05 462.7L1600.2 462.7L1600.2 427.1L1600.35 427.1L1600.35 462.7L1600.5 462.7L1600.5 427.1L1600.65 427.1L1600.65 462.7L1600.8 462.7L1600.8 427.1L1600.95 427.1L1600.95 462.7L1601.1 474.2L1601.1 427.1L1601.25 427.1L1601.25 474.2L1601.4 474.2L1601.4 427.1L1601.55 427.1L1601.55 474.2L1601.7 474.2L1601.7 427.1L1601.85 427.1L1601.85 474.2L1602 474.2L1602 427.1L1602.15 427.1L1602.15 474.2L1602.3 474.2L1602.3 427.1L1602.45 427.1L1602.45 474.2L1602.6 474.2L1602.6 427.1L1602.75 427.1L1602.75 474.2L1602.9 484.4L1602.9 427.1L1603.05 427.1L1603.05 484.4L1603.2 484.4L1603.2 427.1L1603.35 427.1L1603.35 484.4L1603.5 484.4L1603.5 427.1L1603.65 427.1L1603.65 484.4L1603.8 484.4L1603.8 427.1L1603.95 427.1L1603.95 484.4L1604.1 484.4L1604.1 427.1L1604.25 427.1L1604.25 470.6L1604.4 470.6L1604.4 427.1L1604.55 427.1L1604.55 470.6L1604.7 470.6L1604.7 418.6L1604.85 418.6L1604.85 470.6L1605 470.6L1605 418.6L1605.15 418.6L1605.15 470.6L1605.3 470.6L1605.3 418.6L1605.45 418.6L1605.45 470.6L1605.6 470.6L1605.6 418.6L1605.75 418.6L1605.75 470.6L1605.9 470.6L1605.9 418.6L1606.05 418.6L1606.05 447.1L1606.2 447.1L1606.2 418.6L1606.35 418.6L1606.35 447.1L1606.5 447.1L1606.5 418.6L1606.65 418.6L1606.65 447.1L1606.8 447.1L1606.8 403.8L1606.95 403.8L1606.95 447.1L1607.1 447.1L1607.1 403.8L1607.25 403.8L1607.25 447.1L1607.4 447.1L1607.4 403.8L1607.55 403.8L1607.55 443.5L1607.7 443.5L1607.7 403.8L1607.85 403.8L1607.85 443.5L1608 443.5L1608 385.1L1608.15 385.1L1608.15 443.5L1608.3 443.5L1608.3 385.1L1608.45 385.1L1608.45 443.5L1608.6 443.5L1608.6 385.1L1608.75 385.1L1608.75 413.9L1608.9 413.9L1608.9 385.1L1609.05 385.1L1609.05 413.9L1609.2 413.9L1609.2 385.1L1609.35 385.1L1609.35 413.9L1609.5 413.9L1609.5 385.1L1609.65 385.1L1609.65 413.9L1609.8 413.9L1609.8 373.1L1609.95 373.1L1609.95 413.9L1610.1 413.9L1610.1 373.1L1610.25 373.1L1610.25 413.9L1610.4 413.9L1610.4 373.1L1610.55 373.1L1610.55 413.9L1610.7 413.9L1610.7 315.8L1610.85 315.8L1610.85 413.9L1611 413.9L1611 315.8L1611.15 315.8L1611.15 413.9L1611.3 413.9L1611.3 346.5L1611.45 346.5L1611.45 413.9L1611.6 413.9L1611.6 346.5L1611.75 346.5L1611.75 413.9L1611.9 413.9L1611.9 346.5L1612.05 346.5L1612.05 413.9L1612.2 413.9L1612.2 346.5L1612.35 346.5L1612.35 413.9L1612.5 413.9L1612.5 346.5L1612.65 346.5L1612.65 413.9L1612.8 413.9L1612.8 346.5L1612.95 346.5L1612.95 413.9L1613.1 433.2L1613.1 346.5L1613.25 346.5L1613.25 433.2L1613.4 407.3L1613.4 346.5L1613.55 346.5L1613.55 407.3L1613.7 407.3L1613.7 346.5L1613.85 346.5L1613.85 407.3L1614 407.3L1614 346.5L1614.15 346.5L1614.15 407.3L1614.3 407.3L1614.3 372.5L1614.45 372.5L1614.45 407.3L1614.6 407.3L1614.6 372.5L1614.75 372.5L1614.75 407.3L1614.9 407.3L1614.9 372.5L1615.05 372.5L1615.05 407.3L1615.2 407.3L1615.2 372.5L1615.35 372.5L1615.35 407.3L1615.5 407.3L1615.5 372.5L1615.65 372.5L1615.65 407.3L1615.8 407.3L1615.8 372.5L1615.95 372.5L1615.95 407.3L1616.1 407.3L1616.1 372.5L1616.25 372.5L1616.25 407.3L1616.4 407.3L1616.4 372.5L1616.55 372.5L1616.55 407.3L1616.7 456.7L1616.7 372.5L1616.85 372.5L1616.85 456.7L1617 456.7L1617 372.5L1617.15 372.5L1617.15 456.7L1617.3 444.7L1617.3 372.5L1617.45 372.5L1617.45 444.7L1617.6 444.7L1617.6 372.5L1617.75 372.5L1617.75 444.7L1617.9 444.7L1617.9 372.5L1618.05 372.5L1618.05 444.7L1618.2 444.7L1618.2 372.5L1618.35 372.5L1618.35 444.7L1618.5 444.7L1618.5 372.5L1618.65 372.5L1618.65 409.1L1618.8 409.1L1618.8 370L1618.95 370L1618.95 409.1L1619.1 409.1L1619.1 370L1619.25 370L1619.25 409.1L1619.4 409.1L1619.4 370L1619.55 370L1619.55 409.1L1619.7 409.1L1619.7 370L1619.85 370L1619.85 409.1L1620 409.1L1620 370L1620.15 370L1620.15 409.1L1620.3 409.1L1620.3 370L1620.45 370L1620.45 409.1L1620.6 409.1L1620.6 347.1L1620.75 347.1L1620.75 409.1L1620.9 409.1L1620.9 347.1L1621.05 347.1L1621.05 409.1L1621.2 409.1L1621.2 347.1L1621.35 315.8L1621.35 409.1L1621.5 409.1L1621.5 315.8L1621.65 342.3L1621.65 409.1L1621.8 409.1L1621.8 342.3L1621.95 342.3L1621.95 409.1L1622.1 409.1L1622.1 342.3L1622.25 342.3L1622.25 409.1L1622.4 409.1L1622.4 342.3L1622.55 342.3L1622.55 409.1L1622.7 409.1L1622.7 342.3L1622.85 342.3L1622.85 409.1L1623 409.1L1623 342.3L1623.15 342.3L1623.15 409.1L1623.3 409.1L1623.3 342.3L1623.45 342.3L1623.45 409.1L1623.6 409.1L1623.6 342.3L1623.75 342.3L1623.75 409.1L1623.9 409.1L1623.9 342.3L1624.05 342.3L1624.05 409.1L1624.2 409.1L1624.2 342.3L1624.35 342.3L1624.35 409.1L1624.5 409.1L1624.5 320.6L1624.65 320.6L1624.65 409.1L1624.8 433.8L1624.8 389.3L1624.95 389.3L1624.95 433.8L1625.1 433.8L1625.1 389.3L1625.25 389.3L1625.25 433.8L1625.4 433.8L1625.4 389.3L1625.55 389.3L1625.55 473.6L1625.7 473.6L1625.7 389.3L1625.85 389.3L1625.85 473.6L1626 473.6L1626 389.3L1626.15 389.3L1626.15 438L1626.3 438L1626.3 389.3L1626.45 389.3L1626.45 438L1626.6 438L1626.6 389.3L1626.75 389.3L1626.75 438L1626.9 438L1626.9 389.3L1627.05 389.3L1627.05 438L1627.2 438L1627.2 389.3L1627.35 389.3L1627.35 438L1627.5 438L1627.5 389.3L1627.65 389.3L1627.65 438L1627.8 438L1627.8 380.9L1627.95 380.9L1627.95 438L1628.1 438L1628.1 380.9L1628.25 380.9L1628.25 438L1628.4 438L1628.4 380.9L1628.55 380.9L1628.55 438L1628.7 438L1628.7 354.7L1628.85 354.7L1628.85 438L1629 438L1629 354.7L1629.15 354.7L1629.15 438L1629.3 438L1629.3 397.2L1629.45 397.2L1629.45 438L1629.6 438L1629.6 397.2L1629.75 397.2L1629.75 438L1629.9 438L1629.9 397.2L1630.05 397.2L1630.05 438L1630.2 438L1630.2 397.2L1630.35 403.2L1630.35 438L1630.5 438L1630.5 403.2L1630.65 403.2L1630.65 438L1630.8 438L1630.8 403.2L1630.95 403.2L1630.95 471.2L1631.1 471.2L1631.1 403.2L1631.25 412.6L1631.25 471.2L1631.4 471.2L1631.4 412.6L1631.55 412.6L1631.55 471.2L1631.7 471.2L1631.7 412.6L1631.85 412.6L1631.85 471.2L1632 471.2L1632 412.6L1632.15 412.6L1632.15 471.2L1632.3 471.2L1632.3 412.6L1632.45 412.6L1632.45 471.2L1632.6 471.2L1632.6 412.6L1632.75 412.6L1632.75 471.2L1632.9 471.2L1632.9 412.6L1633.05 412.6L1633.05 491.7L1633.2 491.7L1633.2 412.6L1633.35 412.6L1633.35 472.4L1633.5 472.4L1633.5 412.6L1633.65 412.6L1633.65 472.4L1633.8 472.4L1633.8 412.6L1633.95 412.6L1633.95 472.4L1634.1 472.4L1634.1 412.6L1634.25 412.6L1634.25 472.4L1634.4 472.4L1634.4 412.6L1634.55 412.6L1634.55 472.4L1634.7 472.4L1634.7 412.6L1634.85 412.6L1634.85 472.4L1635 472.4L1635 412.6L1635.15 412.6L1635.15 466.4L1635.3 466.4L1635.3 412.6L1635.45 412.6L1635.45 466.4L1635.6 466.4L1635.6 412.6L1635.75 376.1L1635.75 466.4L1635.9 466.4L1635.9 376.1L1636.05 376.1L1636.05 466.4L1636.2 466.4L1636.2 376.1L1636.35 388.1L1636.35 466.4L1636.5 466.4L1636.5 388.1L1636.65 388.1L1636.65 466.4L1636.8 466.4L1636.8 388.1L1636.95 388.1L1636.95 466.4L1637.1 466.4L1637.1 388.1L1637.25 388.1L1637.25 452.5L1637.4 452.5L1637.4 388.1L1637.55 388.1L1637.55 452.5L1637.7 452.5L1637.7 388.1L1637.85 388.1L1637.85 452.5L1638 452.5L1638 388.1L1638.15 388.1L1638.15 452.5L1638.3 452.5L1638.3 388.1L1638.45 388.1L1638.45 452.5L1638.6 452.5L1638.6 388.1L1638.75 388.1L1638.75 452.5L1638.9 452.5L1638.9 388.1L1639.05 388.1L1639.05 452.5L1639.2 452.5L1639.2 388.1L1639.35 388.1L1639.35 452.5L1639.5 452.5L1639.5 388.1L1639.65 388.1L1639.65 452.5L1639.8 452.5L1639.8 388.1L1639.95 354.7L1639.95 452.5L1640.1 452.5L1640.1 354.7L1640.25 354.7L1640.25 452.5L1640.4 452.5L1640.4 354.7L1640.55 381.2L1640.55 452.5L1640.7 452.5L1640.7 381.2L1640.85 381.2L1640.85 452.5L1641 452.5L1641 381.2L1641.15 381.2L1641.15 452.5L1641.3 452.5L1641.3 381.2L1641.45 381.2L1641.45 452.5L1641.6 456.7L1641.6 381.2L1641.75 386.6L1641.75 456.7L1641.9 438L1641.9 386.6L1642.05 386.6L1642.05 438L1642.2 438L1642.2 386.6L1642.35 386.6L1642.35 438L1642.5 438L1642.5 386.6L1642.65 386.6L1642.65 438L1642.8 438L1642.8 386.6L1642.95 386.6L1642.95 438L1643.1 438L1643.1 386.6L1643.25 386.6L1643.25 438L1643.4 438L1643.4 386.6L1643.55 386.6L1643.55 438L1643.7 430.2L1643.7 386.6L1643.85 386.6L1643.85 430.2L1644 430.2L1644 386.6L1644.15 386.6L1644.15 430.2L1644.3 430.2L1644.3 386.6L1644.45 386.6L1644.45 430.2L1644.6 430.2L1644.6 386.6L1644.75 386.6L1644.75 430.2L1644.9 430.2L1644.9 386.6L1645.05 386.6L1645.05 430.2L1645.2 430.2L1645.2 386.6L1645.35 386.6L1645.35 430.2L1645.5 430.2L1645.5 386.6L1645.65 386.6L1645.65 430.2L1645.8 430.2L1645.8 386.6L1645.95 386.6L1645.95 430.2L1646.1 430.2L1646.1 386.6L1646.25 386.6L1646.25 430.2L1646.4 430.2L1646.4 386.6L1646.55 386.6L1646.55 430.2L1646.7 430.2L1646.7 386.6L1646.85 366.4L1646.85 430.2L1647 430.2L1647 366.4L1647 585.6L2005 585.6" fill="none" stroke="#4242fa" stroke-width="2.3" stroke-linejoin="round" stroke-linecap="square"/>
<path d="M609.6 1581.7L612.71 1581.6L615.83 1581.5L618.94 1581.8L622.06 1581.5L625.17 1581.7L628.29 1581.6L631.4 1581.5L634.51 1581.7L637.63 1581.5L640.74 1581.7L643.86 1581.5L646.97 1581.5L650.09 1581.7L653.2 1581.9L656.31 1581.5L659.43 1581.6L662.54 1581.8L665.66 1581.9L668.77 1581.7L671.89 1581.6L675 1581.7M832 1582.6L833.9 1583.2L838.6 1583.2L842 1582.2L845 1581.8L848 1581.7L851 1581.7L854 1581.7L857 1581.5L860 1581.3L863 1581.2L866 1581.3L869 1581.2L872 1581.4L875 1581.2L878 1581.4L881 1581L884 1581.2L887 1581L890 1580.7L893 1580.7L896 1580.8L899.12 1580.8L902.25 1581L905.38 1580.7L908.5 1580.9L911.62 1580.8L914.75 1581L917.88 1580.6L921 1580.8L924.5 1581L928 1581.5L931.5 1581.4L935 1581.8L938.08 1581.7L941.17 1581.7L944.25 1581.8L947.33 1581.9L950.42 1582.2L953.5 1582L956.58 1582.1L959.67 1582.1L962.75 1582.3L965.83 1582.5L968.92 1582.4L972 1582.4L975.25 1582.1L978.5 1582.2L981.75 1582.2L985 1581.8L988.14 1581.9L991.29 1581.7L994.43 1582.1L997.57 1582.2L1000.71 1582L1003.86 1581.9L1007 1582L1010.14 1582.2L1013.29 1582.4L1016.43 1582.4L1019.57 1582.6L1022.71 1582.3L1025.86 1582.4L1029 1582.5L1032.67 1582.4L1036.33 1582.1L1040 1581.8L1043.25 1581.9L1046.5 1582.1L1049.75 1582.1L1053 1582.1L1056.25 1582.4L1059.5 1582.3L1062.75 1582.7L1066 1582.8L1071 1582.5L1074.38 1582.2L1077.75 1582.1L1081.12 1582L1084.5 1581.8M1242.1 1585.3L1245.3 1585.6L1250.3 1584.3L1253.45 1584.1L1256.6 1583.7L1257.7 1583.5M1257.7 1583.5L1257.9 1578L1258.1 1572.5L1258.4 1571.2L1258.7 1573L1259 1575.5L1259.6 1577.6L1260.5 1578.6L1262 1579.2L1264 1579.8L1266 1580.6L1268 1581.5M1268 1581.5L1271.23 1581.4L1274.45 1581.6L1277.68 1581.7L1280.91 1581.5L1284.14 1581.5L1287.36 1581.7L1290.59 1581.6L1293.82 1581.3L1297.05 1581.3L1300.27 1581.3L1303.5 1581.5L1306 1580.8L1309.03 1580.7L1312.06 1580.6L1315.08 1580.9L1318.11 1580.8L1321.14 1580.7L1324.17 1580.8L1327.19 1581L1330.22 1580.7L1333.25 1580.6L1336.28 1580.7L1339.31 1580.7L1342.33 1581L1345.36 1580.9L1348.39 1580.8L1351.42 1580.6L1354.44 1580.6L1357.47 1580.6L1360.5 1581L1363.53 1580.9L1366.56 1580.6L1369.58 1580.9L1372.61 1580.6L1375.64 1580.8L1378.67 1580.7L1381.69 1580.6L1384.72 1580.9L1387.75 1580.9L1390.78 1580.8L1393.81 1580.6L1396.83 1580.9L1399.86 1580.8L1402.89 1580.9L1405.92 1580.6L1408.94 1581L1411.97 1580.6L1415 1580.8L1417.4 1581.5L1420.43 1581.4L1423.46 1581.4L1426.49 1581.3L1429.52 1581.3L1432.55 1581.6L1435.58 1581.7L1438.61 1581.4L1441.64 1581.4L1444.67 1581.6L1447.7 1581.4L1450.73 1581.5L1453.76 1581.6L1456.79 1581.5L1459.82 1581.3L1462.85 1581.3L1465.88 1581.5L1468.91 1581.7L1471.94 1581.7L1474.97 1581.3L1478 1581.5L1479.4 1582.8L1482.6 1582.8L1485.8 1582.8L1487 1582L1490.2 1582L1493.4 1582M1651.3 1594.2L1655.03 1593.7L1658.75 1593.6L1662.47 1593.1L1666.2 1593L1669.21 1592.6L1672.22 1592.8L1675.22 1592.4L1678.23 1592.4L1681.24 1591.8L1684.25 1591.8L1687.26 1591.6L1690.27 1591.2L1693.28 1591.1L1696.28 1591.2L1699.29 1590.9L1702.3 1590.6L1705.32 1590.5L1708.33 1590.4L1711.35 1590.4L1714.37 1590.4L1717.38 1590.1L1720.4 1589.7L1723.42 1590L1726.43 1589.5L1729.45 1589.4L1732.47 1589.3L1735.48 1589.3L1738.5 1589.2L1741.52 1589.1L1744.53 1588.9L1747.55 1588.7L1750.57 1588.4L1753.58 1588.6L1756.6 1588.3L1759.62 1588.1L1762.63 1588.2L1765.65 1588.1L1768.67 1587.9L1771.68 1587.8L1774.7 1587.4L1777.71 1587.1L1780.72 1587.1L1783.72 1587L1786.73 1586.8L1789.74 1587L1792.75 1587L1795.76 1586.5L1798.77 1586.5L1801.78 1586.7L1804.78 1586.5L1807.79 1586.2L1810.8 1586.1L1813.82 1585.8L1816.83 1585.9L1819.85 1585.8L1822.87 1585.8L1825.88 1585.4L1828.9 1585.3L1831.92 1585.6L1834.93 1585L1837.95 1585.2L1840.97 1584.8L1843.98 1585L1847 1584.8L1850.02 1584.7L1853.03 1584.8L1856.05 1584.4L1859.07 1584.7L1862.08 1584.2L1865.1 1584.1L1868.12 1584L1871.13 1583.9L1874.15 1584L1877.17 1584.2L1880.18 1583.8L1883.2 1583.8L1886.21 1583.8L1889.22 1583.4L1892.22 1583.6L1895.23 1583.6L1898.24 1583.3L1901.25 1583.4L1904.26 1583.3L1907.27 1583.2L1910.28 1583.4L1913.28 1583.2L1916.29 1582.9L1919.3 1583L1922.32 1582.8L1925.33 1582.7L1928.35 1582.8L1931.37 1583L1934.38 1583.1L1937.4 1583.1L1940.42 1583L1943.43 1582.6L1946.45 1582.9L1949.47 1582.9L1952.48 1582.7L1955.5 1582.7L1958.52 1582.9L1961.53 1582.6L1964.55 1582.4L1967.57 1582.4L1970.58 1582.3L1973.6 1582.5L1976.62 1582.4L1979.63 1582.5L1982.65 1582L1985.67 1582L1988.68 1582.4L1991.7 1582.1L1995.08 1582L1998.45 1581.9L2001.83 1582.2L2005.2 1582" fill="none" stroke="#f9464a" stroke-width="1.8" stroke-linejoin="round" stroke-linecap="butt"/>
<path d="M609.6 1581.7L642.3 1581.7L642.5 1568.7L642.7 1581.7L651.3 1581.7L651.5 1584.6L651.7 1581.7L661.2 1581.7L661.4 1576.4L661.6 1581.7L675 1581.7L675.45 1549L675.45 1537.3L675.57 1537.5L675.68 1535L675.79 1536L675.9 1534L676.02 1534.6L676.13 1532.8L676.24 1532.9L676.36 1531.9L676.66 1530.9L676.96 1532.6L677.26 1531.8L677.28 1530.3L677.3 1531.2L677.32 1528.9L677.34 1529.6L677.35 1527.1L677.37 1527.6L677.39 1526L677.41 1526.2L677.43 1524.4L677.45 1524.9L677.47 1522.9L677.49 1522.6L677.58 1522.5L677.67 1520.8L677.76 1521.4L677.85 1519.2L677.94 1519.7L678.03 1517.6L678.12 1518.6L678.21 1516.3L678.3 1517.1L678.39 1514.8L678.48 1514.8L678.61 1516.1L678.74 1515.4L678.87 1517L679 1516.6L679.13 1518.3L679.26 1518.2L679.39 1520L679.52 1519.7L679.5 1520.1L679.48 1521.9L679.46 1521.2L679.44 1523.4L679.42 1523L679.4 1524.9L679.38 1524.3L679.36 1526.6L679.34 1526.2L679.32 1528L679.29 1528.1L679.45 1526.9L679.6 1527.3L679.75 1525.3L679.9 1526.1L680.05 1524.1L680.2 1525L680.35 1522.6L680.5 1523.5L680.65 1522.2L680.71 1522.2L680.77 1524.3L680.83 1523.7L680.89 1525.9L680.95 1525.2L681.01 1527.2L681.07 1526.6L681.13 1528.9L681.19 1527.8L681.25 1530.3L681.31 1529.1L681.37 1531.3L681.43 1530.8L681.49 1533.2L681.56 1532.9L681.67 1531.3L681.78 1531.9L681.89 1530.5L682.01 1530.8L682.12 1529.1L682.23 1529.3L682.35 1527.8L682.46 1527.4L682.55 1528.9L682.64 1528L682.73 1530.5L682.82 1529.9L682.91 1531.9L683 1531L683.09 1532.9L683.18 1532.3L683.27 1535L683.36 1534.7L683.4 1533.5L683.43 1534.2L683.46 1532L683.49 1532.4L683.52 1530.1L683.56 1531.2L683.59 1529.2L683.62 1529.5L683.65 1527.5L683.69 1528L683.72 1526.3L683.75 1526.5L683.78 1524.4L683.82 1524.5L683.9 1525.6L683.99 1525.3L684.07 1527.4L684.15 1527.2L684.24 1528.8L684.32 1528.3L684.41 1530.5L684.49 1530.6L684.56 1529.5L684.63 1530.1L684.7 1527.5L684.76 1528.6L684.83 1526.6L684.9 1526.7L684.97 1525.1L685.04 1525.6L685.1 1523.5L685.17 1523.3L685.25 1524.4L685.32 1524.1L685.4 1526.3L685.47 1525.2L685.55 1527.3L685.62 1527.1L685.7 1529.2L685.77 1528.2L685.85 1529.6L685.91 1529.7L685.96 1527.8L686.02 1527.7L686.08 1525.9L686.13 1526.5L686.19 1524.8L686.25 1525.4L686.3 1522.9L686.36 1523.8L686.42 1521.8L686.47 1522.4L686.53 1520.7L686.57 1519.6L686.6 1520.1L686.64 1517.8L686.68 1518.3L686.72 1516.3L686.75 1517.2L686.79 1515L686.83 1515.1L686.87 1513.3L686.9 1513.7L686.94 1512.1L686.98 1511.7L687.04 1512.8L687.09 1512.8L687.15 1514.3L687.21 1514L687.26 1515.7L687.32 1515.1L687.38 1517.1L687.43 1517.3L687.47 1516L687.51 1516.3L687.56 1514.7L687.6 1514.8L687.64 1513.3L687.68 1513.4L687.72 1511.6L687.76 1512.3L687.8 1510.5L687.84 1510.9L687.88 1509.5L687.97 1507.8L688.07 1508.4L688.16 1506.4L688.25 1507.1L688.34 1505.7L688.56 1504.4L688.79 1505.3L689.01 1503.8L689.04 1502.5L689.06 1503L689.08 1500.8L689.1 1501.9L689.13 1499.6L689.15 1500.3L689.17 1497.9L689.2 1498.7L689.22 1496.7L689.24 1497L689.26 1495.4L689.29 1495.4L689.31 1494L689.33 1494.4L689.35 1492.4L689.38 1492.5L689.4 1491L689.42 1491.6L689.44 1489L689.47 1490L689.49 1488L689.51 1488.2L689.53 1486.5L689.56 1486.9L689.58 1485.2L689.6 1485.5L689.62 1483.6L689.65 1484.4L689.67 1481.7L689.69 1481.9L689.72 1483.3L689.74 1482.9L689.76 1485.1L689.78 1484.3L689.81 1486.1L689.83 1486L689.85 1487.6L689.87 1487.1L689.9 1489.1L689.92 1488.7L689.94 1490.6L689.96 1490.3L689.99 1491.8L690.01 1491.7L690.03 1493.4L690.05 1493.2L690.08 1494.6L690.1 1494.5L690.12 1496.2L690.14 1495.7L690.17 1497.8L690.19 1497.1L690.21 1499.4L690.24 1498.5L690.26 1501L690.28 1500.2L690.3 1502L690.33 1501.2L690.35 1503.4L690.37 1503.7L690.47 1503.6L690.56 1505.8L690.66 1505.4L690.76 1507.4L690.86 1506.2L690.95 1508.6L691.05 1508.6L691.11 1507L691.18 1507.9L691.24 1505.8L691.31 1506.1L691.37 1504L691.44 1504.8L691.5 1503.1L691.57 1503L691.63 1505.5L691.69 1504.6L691.76 1507L691.82 1506L691.89 1508.3L691.95 1507.8L692.02 1509.3L692.08 1509.3L692.15 1511L692.21 1510.8L692.28 1512.8L692.34 1512L692.41 1513.4L692.42 1513.4L692.43 1511.2L692.44 1511.9L692.45 1509.8L692.46 1510L692.47 1508.1L692.48 1509L692.5 1506.8L692.51 1507.3L692.52 1505.2L692.53 1505.5L692.54 1503.6L692.55 1504.2L692.56 1502.6L692.57 1502.7L692.59 1500.6L692.6 1501.1L692.61 1499.1L692.62 1500.2L692.63 1498.4L692.78 1497.1L692.93 1497.6L693.08 1495.7L693.23 1496.4L693.38 1494.1L693.54 1494.3L693.63 1495.7L693.72 1494.9L693.81 1496.7L693.9 1496.7L693.99 1498.3L694.08 1497.7L694.17 1499.7L694.26 1499.2L694.35 1501L694.44 1501.4L694.54 1501.7L694.63 1503.3L694.73 1502.7L694.83 1505L694.92 1504.1L695.02 1506.1L695.12 1506.3L695.14 1506.4L695.17 1508.4L695.19 1507.9L695.22 1509.7L695.24 1509.1L695.27 1511.2L695.29 1510.5L695.32 1513.2L695.34 1512.7L695.37 1514.4L695.39 1513.6L695.42 1516.2L695.44 1515.4L695.47 1517.2L695.49 1517L695.52 1519.2L695.54 1518.5L695.57 1519.7L695.7 1519.8L695.83 1518L695.96 1518.4L696.09 1516.2L696.22 1516.9L696.34 1515L696.47 1515.2L696.56 1516.6L696.65 1515.8L696.75 1518.2L696.84 1517.7L696.93 1519.8L697.02 1519L697.11 1520.6L697.2 1520.8L697.29 1522.4L697.38 1522.5L697.39 1521.1L697.41 1521.5L697.42 1519.9L697.43 1520L697.45 1518.2L697.46 1518.9L697.48 1516.9L697.49 1517.3L697.51 1514.8L697.52 1515.3L697.53 1513.3L697.55 1514.2L697.56 1511.8L697.58 1512.4L697.59 1510.6L697.6 1510.4L697.83 1510.3L698.06 1508.1L698.28 1508.5L698.36 1508.5L698.43 1506.5L698.51 1507L698.58 1505.2L698.66 1505.3L698.73 1504.3L698.8 1503.2L698.87 1503.7L698.94 1501.6L699.01 1502.3L699.08 1500.2L699.15 1500.4L699.22 1498.5L699.29 1498.9L699.36 1497.1L699.43 1497.9L699.5 1495.3L699.57 1496.4L699.64 1494.8L699.69 1493.3L699.75 1494.2L699.8 1491.6L699.86 1492.5L699.91 1490.3L699.96 1490.7L700.02 1488.8L700.07 1489.5L700.13 1487.3L700.18 1488.1L700.24 1486.1L700.29 1486.2L700.34 1484.2L700.4 1484.8L700.45 1483.7L700.49 1483.7L700.52 1485.6L700.56 1485.3L700.59 1487.3L700.63 1486.2L700.67 1488.4L700.7 1487.9L700.74 1489.9L700.77 1489.4L700.81 1491.4L700.84 1491.1L700.88 1492.6L700.91 1492.5L700.95 1494.6L700.98 1493.7L701.02 1495.5L701.06 1494.9L701.09 1497.5L701.13 1496.6L701.16 1498.3L701.2 1498.2L701.23 1499.7L701.27 1499.5L701.3 1501.2L701.34 1501L701.38 1502.7L701.41 1502.2L701.45 1503.6L701.5 1503.9L701.56 1501.4L701.62 1502.1L701.67 1500.2L701.73 1500.7L701.79 1498.8L701.84 1499.2L701.9 1497.6L701.96 1497.7L702.01 1495.5L702.07 1496.1L702.12 1494.4L702.18 1495.1L702.24 1492.7L702.29 1493.3L702.35 1492.2L702.44 1491L702.54 1491.2L702.63 1489.5L702.73 1490L702.82 1487.7L702.92 1488.9L703.01 1486.4L703.1 1486.9L703.2 1485.6L703.29 1486L703.39 1483.6L703.48 1483.9L703.49 1485.2L703.5 1484.6L703.51 1486.3L703.52 1486.2L703.52 1488.4L703.53 1487.3L703.54 1489.9L703.55 1488.7L703.56 1490.9L703.57 1490.8L703.58 1492.3L703.59 1491.9L703.59 1494.1L703.6 1493.1L703.61 1495.6L703.62 1494.7L703.63 1497L703.64 1496.3L703.65 1498.4L703.65 1498.1L703.66 1500L703.67 1499.4L703.68 1501.5L703.69 1500.5L703.7 1502.5L703.71 1502.7L703.74 1503.1L703.78 1504.7L703.82 1504.2L703.86 1506.5L703.9 1506.1L703.93 1507.6L703.97 1507.3L704.01 1509.4L704.05 1508.9L704.08 1510.7L704.12 1510.2L704.16 1511.7L704.18 1512.7L704.2 1512.7L704.22 1514.5L704.24 1513.6L704.26 1516.1L704.28 1515.1L704.3 1517.4L704.32 1517L704.34 1518.7L704.36 1518L704.38 1520.5L704.39 1519.9L704.41 1521.4L704.43 1521.2L704.45 1523.3L704.47 1522.7L704.49 1524.5L704.51 1524L704.53 1526.4L704.55 1525.7L704.57 1527.2L704.59 1527.1L704.61 1528.3L704.65 1528.2L704.69 1526.1L704.73 1526.6L704.77 1524.6L704.81 1525.5L704.85 1523.3L704.89 1523.7L704.93 1521.5L704.97 1522.3L705 1520.2L705.04 1520.8L705.08 1519.2L705.12 1519.7L705.16 1517.6L705.2 1518.4L705.24 1516.1L705.28 1516.4L705.32 1514.8L705.36 1515.1L705.4 1513L705.44 1514L705.48 1511.9L705.52 1511.6L705.63 1512.9L705.74 1512.6L705.85 1514.7L705.97 1514.1L706.08 1515.5L706.19 1515.6L706.31 1517.2L706.42 1517.4L706.45 1515.7L706.49 1516.8L706.52 1514.3L706.56 1515.4L706.59 1512.7L706.63 1513.5L706.66 1511.8L706.7 1512.4L706.73 1509.9L706.77 1510.3L706.8 1508.5L706.84 1509.1L706.87 1507.8L706.97 1506.6L707.06 1507L707.15 1505.4L707.25 1505.4L707.34 1504L707.44 1504.3L707.53 1502.1L707.63 1502.8L707.72 1500.8L707.81 1501.5L707.91 1499.9L708 1499.8L708.05 1501.4L708.1 1500.4L708.15 1502.6L708.2 1502.4L708.24 1504.1L708.29 1503.6L708.34 1505.9L708.39 1505.3L708.44 1507L708.49 1506.2L708.53 1508.2L708.58 1508.1L708.63 1510.3L708.68 1510.1L708.72 1510L708.76 1511.9L708.8 1512L708.84 1513.3L708.88 1512.8L708.92 1514.9L708.96 1514.3L708.99 1516.8L709.03 1516L709.07 1517.8L709.11 1517L709.15 1519.5L709.19 1519L709.23 1521L709.27 1520.4L709.31 1522.1L709.35 1522L709.39 1523.9L709.43 1522.8L709.47 1525.2L709.51 1524.2L709.54 1526.2L709.58 1526.6L709.61 1525.4L709.64 1525.8L709.67 1523.5L709.7 1524.7L709.73 1522.5L709.75 1522.8L709.78 1521L709.81 1521.5L709.84 1519.2L709.87 1519.9L709.89 1517.9L709.92 1518.8L709.95 1516.4L709.98 1517.4L710.01 1515.1L710.04 1515.2L710.19 1516.3L710.34 1515.8L710.49 1517.4L710.64 1516.6L710.79 1518.4L710.94 1518.2L711.09 1520L711.24 1519.3L711.39 1520.3L711.45 1521.4L711.51 1521.4L711.57 1523.1L711.63 1522.6L711.69 1524.9L711.75 1523.7L711.81 1526.3L711.87 1525.5L711.93 1527.1L711.99 1527.1L712.05 1528.8L712.11 1528L712.17 1530.2L712.23 1529.8L712.28 1531.6L712.34 1531L712.4 1533.2L712.46 1532.3L712.52 1533.8L712.56 1534L712.6 1531.6L712.64 1532L712.68 1530L712.72 1530.7L712.76 1528.7L712.8 1529.3L712.84 1527.2L712.88 1527.7L712.92 1526L712.96 1526.2L712.99 1524.6L713.03 1525.2L713.07 1522.9L713.11 1523.4L713.15 1521.5L713.19 1522.4L713.23 1520L713.27 1520.4L713.31 1518.3L713.35 1519.2L713.39 1516.7L713.43 1517L713.47 1518.1L713.51 1517.8L713.55 1520L713.6 1519L713.64 1521.5L713.68 1521L713.72 1522.6L713.77 1522.4L713.81 1523.9L713.85 1523.2L713.89 1525.7L713.94 1524.7L713.98 1527L714.02 1526.2L714.06 1528.5L714.1 1528.6L714.12 1527.4L714.14 1528L714.16 1525.5L714.17 1526.1L714.19 1524.3L714.21 1525L714.23 1523.1L714.24 1523.4L714.26 1521.7L714.28 1521.9L714.3 1520.2L714.31 1520.7L714.33 1518.5L714.35 1519L714.37 1517.5L714.38 1517.6L714.4 1515.6L714.42 1516.1L714.44 1514.4L714.45 1514.7L714.47 1512.7L714.49 1513.5L714.5 1511.8L714.52 1511.8L714.54 1510.1L714.56 1510L714.63 1511.3L714.7 1510.6L714.77 1512.4L714.84 1512.3L714.9 1514.3L714.97 1513.6L715.04 1515.4L715.11 1515.1L715.18 1517.2L715.25 1516.5L715.32 1518.4L715.39 1517.8L715.46 1519.1L715.54 1520.4L715.62 1519.6L715.7 1522.2L715.78 1521.3L715.86 1523L715.95 1522.5L716.03 1524.4L716.11 1524.4L716.19 1526.3L716.27 1525.5L716.35 1527.6L716.43 1526.9L716.51 1529.1L716.59 1528.9L716.6 1527.5L716.6 1527.8L716.61 1526.4L716.61 1526.6L716.62 1524.5L716.62 1525.4L716.63 1523.4L716.63 1523.8L716.64 1521.7L716.65 1522.2L716.65 1520.4L716.66 1520.6L716.66 1518.7L716.67 1519.6L716.67 1517.5L716.68 1517.8L716.68 1515.6L716.69 1516.7L716.69 1514.5L716.7 1514.6L716.71 1512.6L716.71 1513.8L716.72 1511.4L716.72 1511.7L716.73 1510.6L716.98 1509.3L717.24 1510.6L717.5 1509.7L717.55 1509.5L717.61 1511.8L717.67 1510.9L717.72 1513L717.78 1512.4L717.83 1514.4L717.89 1514.1L717.95 1516.3L718 1515.2L718.06 1517.3L718.12 1517.1L718.17 1518.9L718.23 1518.3L718.29 1520.3L718.34 1520L718.4 1521.1L718.44 1520.9L718.48 1518.9L718.52 1519.9L718.56 1517.9L718.6 1518.2L718.64 1515.9L718.68 1516.4L718.72 1514.4L718.76 1515L718.8 1513.1L718.84 1513.8L718.88 1511.7L718.92 1512.2L718.96 1510.3L719.01 1510.9L719.05 1508.9L719.09 1509.5L719.13 1507.4L719.17 1507.9L719.21 1506.3L719.25 1506.6L719.29 1504.5L719.33 1504.8L719.37 1502.8L719.41 1503.8L719.45 1501.6L719.49 1501.9L719.53 1500.7L719.62 1500.8L719.71 1502.6L719.8 1502.5L719.89 1504.2L719.98 1504L720.07 1505.7L720.16 1505.1L720.25 1506.8L720.34 1506.5L720.43 1507.9L720.49 1509L720.54 1508.5L720.6 1510.9L720.65 1510.1L720.7 1511.8L720.76 1511.5L720.81 1513.4L720.86 1512.6L720.92 1514.6L720.97 1514L721.03 1516.6L721.08 1515.5L721.13 1517.9L721.19 1517.3L721.24 1519.4L721.3 1518.5L721.35 1520.8L721.4 1519.6L721.46 1521.7L721.51 1521.1L721.56 1522.6L721.63 1522.8L721.69 1520.8L721.75 1520.9L721.81 1518.8L721.87 1519.3L721.93 1517.2L722 1517.8L722.06 1515.7L722.12 1516.2L722.18 1514.4L722.24 1514.3L722.4 1514.6L722.57 1512.6L722.73 1512.9L722.89 1511.1L723.05 1511.7L723.21 1510.2L723.37 1509.9L723.44 1511L723.51 1510.9L723.58 1513L723.65 1512L723.72 1514.4L723.79 1513.7L723.86 1515.7L723.93 1515.2L724 1516.9L724.07 1516.2L724.14 1518.2L724.21 1517.5L724.28 1519.1L724.38 1519.1L724.48 1517.1L724.58 1518.1L724.69 1516.1L724.79 1516.8L724.89 1514.4L725 1515.1L725.1 1513L725.2 1513.7L725.3 1511.6L725.41 1511.9L725.51 1511.9L725.61 1509.9L725.71 1510.6L725.8 1508.4L725.9 1508.8L726 1506.8L726.1 1507.2L726.2 1505.3L726.3 1506L726.4 1504.8L726.41 1504.7L726.42 1507.2L726.42 1506.2L726.43 1508.4L726.44 1507.9L726.44 1509.4L726.45 1509.5L726.46 1510.9L726.46 1510.5L726.47 1512.6L726.48 1512L726.48 1514.3L726.49 1513.7L726.5 1515.3L726.5 1514.8L726.51 1516.6L726.52 1516.7L726.52 1518.3L726.53 1518.1L726.54 1519.2L726.55 1520.4L726.57 1520.2L726.58 1522.1L726.6 1521.4L726.61 1523.3L726.63 1522.8L726.64 1524.9L726.66 1524.6L726.67 1526.7L726.69 1526L726.7 1527.6L726.72 1527.6L726.73 1529.4L726.75 1528.5L726.76 1530.1L727.03 1531.2L727.29 1530.1L727.55 1531.4L727.82 1530.9L728.08 1532.3L728.35 1531.8L728.38 1530.4L728.41 1530.9L728.44 1528.9L728.47 1529.5L728.51 1527.3L728.54 1528.3L728.57 1526.3L728.6 1527L728.64 1525L728.67 1525.3L728.7 1523.3L728.73 1523.7L728.77 1522.2L728.8 1521.8L728.95 1522L729.1 1520.3L729.25 1520.7L729.39 1518.4L729.54 1519.2L729.69 1517.7L729.84 1518.3L729.99 1516.3L730.14 1517.1L730.29 1515.7L730.32 1515.6L730.35 1517.6L730.39 1517.4L730.42 1519.1L730.45 1519L730.48 1521L730.51 1519.9L730.54 1522.3L730.58 1521.9L730.61 1523.9L730.64 1522.9L730.67 1525L730.7 1524.3L730.74 1526.5L730.77 1526.1L730.8 1527.7L730.83 1528L730.94 1526.9L731.06 1527L731.17 1525.5L731.28 1526.2L731.4 1523.9L731.51 1525L731.62 1522.6L731.74 1522.7L731.8 1524L731.87 1523.5L731.93 1525.6L731.99 1524.8L732.06 1527.1L732.12 1526.7L732.19 1528.7L732.25 1527.7L732.32 1529.8L732.38 1529.2L732.45 1531.2L732.51 1531.1L732.58 1532.8L732.64 1533.1L732.87 1532.6L733.09 1534.8L733.32 1533.4L733.54 1535.1L733.77 1534L734 1535.8L734.22 1535.6L734.24 1534.4L734.26 1535.1L734.27 1532.7L734.29 1533.5L734.31 1531.2L734.33 1532.2L734.34 1529.8L734.36 1530.6L734.38 1528.2L734.4 1529.1L734.41 1526.9L734.43 1527.5L734.45 1526L734.61 1525.9L734.77 1527.7L734.93 1527.3L735.09 1529.1L735.26 1528.6L735.42 1530.5L735.58 1530.2L735.69 1529.1L735.8 1529.1L735.92 1527.8L736.03 1528.4L736.14 1526.2L736.26 1526.5L736.37 1525.1L736.48 1524.8L736.51 1525.9L736.53 1525.5L736.56 1527.8L736.58 1527L736.61 1529.4L736.63 1529L736.66 1530.8L736.68 1530.3L736.71 1531.6L736.77 1531.7L736.83 1529.2L736.89 1530.3L736.96 1528.3L737.02 1528.8L737.08 1526.2L737.14 1527.4L737.2 1525.3L737.26 1525.4L737.33 1523.8L737.39 1523.5L737.46 1523.1L737.54 1521.1L737.61 1522.2L737.69 1519.8L737.76 1520.7L737.84 1518.4L737.91 1518.9L737.99 1517.3L738.07 1516.9L738.18 1516.6L738.29 1514.8L738.4 1515.4L738.52 1513.7L738.63 1514.2L738.74 1512.6L738.86 1512.8L738.97 1511.6L739.06 1510.4L739.15 1511L739.24 1508.9L739.33 1509.3L739.42 1507.1L739.51 1508L739.6 1505.7L739.69 1506.7L739.78 1504.9L739.87 1504.5L739.97 1504.4L740.07 1502.5L740.16 1503.3L740.26 1501.2L740.36 1501.9L740.45 1499.7L740.55 1499.7L740.56 1499.4L740.57 1497.3L740.58 1497.9L740.59 1495.9L740.6 1496.5L740.61 1495L740.62 1495L740.63 1493L740.64 1494.1L740.65 1492.1L740.66 1492.3L740.66 1490.2L740.67 1491L740.68 1489L740.69 1489.3L740.7 1487.4L740.71 1488.1L740.72 1486L740.73 1486.7L740.74 1484.5L740.75 1484.7L740.76 1482.7L740.77 1483.4L740.78 1482.1L740.8 1482.4L740.82 1484.3L740.85 1483.9L740.87 1485.8L740.89 1484.9L740.92 1487.3L740.94 1486.4L740.96 1488.5L740.99 1488.1L741.01 1489.9L741.03 1489.2L741.06 1491.2L741.08 1490.6L741.1 1492.6L741.13 1492.6L741.15 1494.2L741.18 1493.6L741.2 1495.9L741.22 1495.4L741.25 1497.6L741.27 1496.9L741.29 1498.8L741.32 1498.2L741.34 1500.4L741.36 1499.5L741.39 1501.8L741.41 1501.2L741.43 1503.1L741.46 1503.3L741.55 1503.6L741.65 1505.6L741.75 1504.7L741.84 1507L741.94 1506.5L742.04 1508.3L742.13 1508.4L742.21 1506.8L742.28 1507.6L742.36 1505.7L742.44 1506L742.51 1503.7L742.59 1503.8L742.65 1505L742.72 1504.8L742.78 1506.4L742.84 1505.8L742.91 1508.2L742.97 1507.6L743.04 1509.1L743.1 1508.9L743.17 1510.6L743.23 1510.1L743.3 1511.9L743.36 1511.6L743.43 1513.3L743.49 1513.5L743.5 1511.8L743.51 1512.9L743.52 1511L743.53 1511.6L743.54 1509.6L743.55 1509.8L743.57 1507.5L743.58 1508.6L743.59 1506.2L743.6 1506.9L743.61 1505.2L743.62 1505.6L743.63 1503.8L743.64 1503.9L743.65 1502.2L743.66 1502.3L743.67 1500.7L743.68 1501.4L743.69 1499.1L743.71 1499.8L743.72 1498.4L743.85 1497.1L743.97 1497.8L744.1 1496.1L744.23 1496.6L744.36 1494.7L744.49 1495.5L744.62 1494L744.71 1493.8L744.8 1496.1L744.89 1495.5L744.98 1497.8L745.07 1497.1L745.16 1498.8L745.25 1498.3L745.34 1500.8L745.43 1499.7L745.52 1501.3L745.62 1502.8L745.72 1501.8L745.82 1504.1L745.91 1503.3L746.01 1505.3L746.11 1504.9L746.2 1506.1L746.23 1507.6L746.25 1507.2L746.28 1508.9L746.3 1508.3L746.33 1510.7L746.35 1509.9L746.38 1511.8L746.4 1511.5L746.43 1513.5L746.45 1512.9L746.48 1514.9L746.5 1514.3L746.53 1516.8L746.55 1516.2L746.58 1518.1L746.6 1517.3L746.63 1519.4L746.65 1519.6L746.81 1518.3L746.96 1519.3L747.11 1517.4L747.26 1517.8L747.41 1516.1L747.56 1515.9L747.65 1517.4L747.74 1516.3L747.83 1518.7L747.92 1518.3L748.01 1520.1L748.1 1519.5L748.19 1521.6L748.28 1520.9L748.37 1523L748.46 1523L748.48 1521.4L748.49 1522.2L748.5 1520.2L748.52 1521L748.53 1518.8L748.54 1519.3L748.56 1517.2L748.57 1517.9L748.58 1516L748.6 1516.6L748.61 1514.3L748.62 1514.5L748.64 1512.9L748.65 1513.3L748.66 1511.6L748.68 1511.8L748.69 1510.5L748.92 1509.3L749.14 1510.1L749.37 1508.7L749.44 1507.4L749.52 1507.7L749.59 1506L749.67 1506.5L749.74 1504L749.82 1504.2L749.89 1504.1L749.96 1502.3L750.03 1502.9L750.1 1500.7L750.17 1501L750.24 1499.5L750.31 1500L750.38 1497.6L750.45 1498.5L750.51 1496.4L750.58 1497L750.65 1495.1L750.72 1494.9L750.77 1495.1L750.83 1492.9L750.88 1493.5L750.93 1491.2L750.98 1492.2L751.03 1490L751.08 1490.4L751.13 1488.6L751.18 1488.9L751.23 1487L751.28 1487.7L751.33 1485.5L751.38 1486.2L751.44 1484.5L751.49 1484.8L751.54 1483.6L751.57 1483.7L751.61 1485.5L751.65 1485.5L751.68 1487.3L751.72 1486.7L751.76 1488.4L751.79 1488.1L751.83 1490L751.87 1489.5L751.91 1491.5L751.94 1490.7L751.98 1492.8L752.02 1492L752.05 1494.5L752.09 1494L752.13 1496L752.16 1494.9L752.2 1497.4L752.24 1496.8L752.27 1498.8L752.31 1497.9L752.35 1499.7L752.38 1499.8L752.42 1501.8L752.46 1500.8L752.49 1502.7L752.53 1502.9L752.59 1501.9L752.64 1501.9L752.7 1500.4L752.76 1501L752.81 1498.9L752.87 1499.1L752.93 1497.1L752.98 1498.2L753.04 1496.2L753.1 1496.8L753.15 1494.5L753.21 1495.3L753.27 1493L753.32 1494L753.38 1491.5L753.44 1491.7L753.53 1491.8L753.62 1489.8L753.72 1490.3L753.81 1488.2L753.91 1488.9L754 1486.8L754.1 1487.6L754.19 1485.3L754.28 1485.8L754.38 1484.1L754.47 1484.3L754.57 1483.2L754.57 1483.3L754.58 1485L754.59 1484.7L754.6 1486.5L754.61 1486.1L754.62 1488.2L754.62 1487.6L754.63 1489.9L754.64 1489.4L754.65 1491.3L754.66 1490.5L754.67 1492.5L754.67 1491.8L754.68 1494.1L754.69 1493.4L754.7 1495.3L754.71 1494.4L754.72 1496.5L754.73 1496.1L754.73 1498.3L754.74 1498L754.75 1499.7L754.76 1498.9L754.77 1501.4L754.78 1500.6L754.78 1502.9L754.79 1502.6L754.83 1502.7L754.87 1504.7L754.91 1503.9L754.94 1505.8L754.98 1505.4L755.02 1507.7L755.06 1507.2L755.09 1509.3L755.13 1508.6L755.17 1510.5L755.21 1510L755.24 1511.4L755.26 1512.9L755.28 1512.3L755.3 1514.1L755.32 1513.6L755.34 1515.6L755.36 1514.8L755.38 1516.9L755.4 1516.2L755.42 1518.4L755.44 1517.9L755.46 1519.7L755.48 1519.3L755.5 1521.6L755.52 1520.6L755.54 1522.9L755.56 1522.3L755.58 1524L755.6 1523.7L755.62 1525.7L755.64 1524.9L755.66 1527.2L755.68 1526.8L755.7 1527.8L755.74 1527.9L755.77 1525.4L755.81 1526.3L755.85 1524.5L755.89 1524.7L755.93 1523.1L755.97 1523.1L756.01 1521L756.05 1522L756.09 1519.7L756.13 1520.6L756.17 1518.1L756.21 1519L756.25 1516.9L756.29 1517.6L756.33 1515.3L756.36 1516.1L756.4 1513.9L756.44 1514.4L756.48 1512.4L756.52 1513.1L756.56 1510.9L756.6 1511L756.7 1512.1L756.8 1511.9L756.9 1513.4L757 1512.9L757.1 1515.3L757.2 1514.3L757.3 1516.3L757.4 1515.5L757.5 1517.1L757.54 1517.2L757.57 1514.9L757.6 1515.4L757.63 1513.7L757.67 1514.1L757.7 1512.2L757.73 1512.7L757.76 1510.6L757.8 1511.6L757.83 1509.6L757.86 1509.9L757.89 1508.2L757.92 1508.2L757.96 1507.1L758.06 1505.5L758.16 1506.3L758.26 1504L758.37 1504.8L758.47 1503.2L758.57 1503.3L758.68 1501.3L758.78 1502.3L758.88 1499.6L758.98 1500.5L759.09 1499.2L759.14 1499.3L759.18 1501.1L759.23 1500.7L759.28 1502.6L759.33 1502.5L759.38 1504L759.43 1504.1L759.47 1506L759.52 1505.6L759.57 1507.7L759.62 1507.1L759.67 1509.1L759.72 1508.6L759.76 1509.7L759.8 1510.7L759.84 1510.3L759.88 1512.3L759.92 1511.7L759.95 1513.7L759.99 1513.6L760.03 1515.5L760.07 1514.6L760.1 1517L760.14 1516L760.18 1517.9L760.22 1517.5L760.25 1519.8L760.29 1519.1L760.33 1521.3L760.37 1520.6L760.41 1522.8L760.44 1521.7L760.48 1523.6L760.52 1523.7L760.56 1525.4L760.59 1524.5L760.63 1526.5L760.67 1526.8L760.7 1525.6L760.73 1526.1L760.76 1524.2L760.79 1524.8L760.82 1522.5L760.85 1522.7L760.88 1521.1L760.91 1521.6L760.94 1519.5L760.97 1520.2L761 1518.3L761.03 1518.8L761.06 1516.6L761.09 1517.2L761.12 1515.7L761.31 1515.5L761.51 1517.5L761.7 1516.9L761.9 1518.9L762.09 1517.6L762.28 1520L762.48 1519.8L762.54 1519.8L762.6 1521.7L762.66 1521.6L762.72 1523.6L762.77 1522.6L762.83 1525L762.89 1524.3L762.95 1526.2L763.01 1525.2L763.07 1527.8L763.13 1527L763.19 1528.9L763.25 1528.5L763.31 1530.8L763.37 1530L763.43 1532L763.49 1531.3L763.55 1533.6L763.61 1533.4L763.65 1531.8L763.68 1532.5L763.72 1531L763.76 1531.1L763.8 1529.3L763.83 1529.9L763.87 1527.6L763.91 1528.7L763.95 1526.7L763.98 1527.2L764.02 1524.7L764.06 1525.8L764.1 1523.5L764.14 1524L764.17 1521.9L764.21 1522.9L764.25 1520.5L764.29 1521.6L764.32 1519.4L764.36 1519.5L764.4 1517.8L764.44 1518.6L764.47 1516.6L764.51 1516.3L764.55 1517.9L764.6 1516.9L764.64 1519L764.68 1518.6L764.72 1520.8L764.77 1520.1L764.81 1521.9L764.85 1521.7L764.89 1523.8L764.94 1522.8L764.98 1525.1L765.02 1524.8L765.06 1526.8L765.11 1525.8L765.15 1527.8L765.19 1528.1L765.21 1526.7L765.23 1527.6L765.24 1525L765.26 1525.8L765.28 1523.8L765.3 1524.4L765.32 1522.6L765.33 1522.7L765.35 1521.1L765.37 1521.6L765.39 1519.5L765.41 1520L765.42 1518L765.44 1518.5L765.46 1516.7L765.48 1516.7L765.5 1514.7L765.52 1515.5L765.53 1513.8L765.55 1514.2L765.57 1511.9L765.59 1512.4L765.61 1510.5L765.62 1511.1L765.64 1509.8L765.71 1509.8L765.77 1511.5L765.84 1511.6L765.9 1513.6L765.96 1512.4L766.03 1514.6L766.09 1514L766.16 1515.9L766.22 1515.2L766.29 1517.4L766.35 1516.5L766.42 1519L766.48 1518L766.55 1519.6L766.63 1521.2L766.71 1520.5L766.79 1521.9L766.87 1521.9L766.95 1523.4L767.03 1523.3L767.11 1524.7L767.19 1524.4L767.27 1526.7L767.35 1525.8L767.43 1528.1L767.51 1526.9L767.6 1528.9L767.68 1529.2L767.68 1527.7L767.69 1528.3L767.69 1526.6L767.7 1527.3L767.7 1525.1L767.71 1525.5L767.71 1523.4L767.72 1524.4L767.73 1521.9L767.73 1522.5L767.74 1520.6L767.74 1520.9L767.75 1518.8L767.75 1520L767.76 1517.8L767.76 1517.9L767.77 1516.4L767.77 1516.7L767.78 1514.5L767.78 1515.6L767.79 1513.1L767.8 1513.5L767.8 1511.6L767.81 1512.6L767.81 1511L768.07 1509.8L768.32 1511.1L768.58 1509.7L768.64 1510.1L768.69 1511.5L768.75 1511L768.81 1513.5L768.86 1512.5L768.92 1514.5L768.98 1514L769.03 1516.2L769.09 1515.7L769.15 1517.3L769.2 1517L769.26 1518.6L769.32 1518.3L769.37 1520.1L769.43 1519.9L769.48 1521.1L769.52 1520.7L769.57 1518.8L769.61 1519.2L769.65 1517.3L769.69 1517.9L769.73 1516.4L769.77 1516.9L769.81 1514.8L769.85 1515.5L769.89 1512.9L769.93 1514L769.97 1511.9L770.01 1512.2L770.05 1510.5L770.09 1511.1L770.13 1508.5L770.17 1509.5L770.21 1507.4L770.25 1507.8L770.29 1505.7L770.33 1506.4L770.37 1504.3L770.41 1504.8L770.45 1503.2L770.49 1503.2L770.53 1501.4L770.57 1502.1L770.61 1500.7L770.7 1501L770.78 1503L770.86 1502.3L770.94 1504L771.03 1503.7L771.11 1505.3L771.19 1504.6L771.27 1506.7L771.35 1506.4L771.44 1508.2L771.52 1508.2L771.58 1508.4L771.63 1510.5L771.69 1509.9L771.75 1512L771.8 1511.3L771.86 1513.3L771.91 1512.3L771.97 1514.2L772.03 1513.8L772.08 1515.7L772.14 1515.4L772.2 1517L772.25 1516.7L772.31 1519L772.37 1517.7L772.42 1520.3L772.48 1519.7L772.54 1521.2L772.59 1520.5L772.65 1522.1L772.72 1521.8L772.78 1519.9L772.85 1520.5L772.92 1518.3L772.99 1518.9L773.06 1517L773.12 1517.7L773.19 1516L773.26 1516L773.33 1515L773.47 1513.5L773.61 1514.4L773.75 1512.6L773.89 1513L774.03 1510.8L774.17 1511.6L774.32 1509.8L774.46 1509.8L774.53 1511L774.61 1510.9L774.68 1512.9L774.76 1512L774.83 1514L774.91 1513.9L774.98 1515.4L775.06 1515L775.14 1517.2L775.21 1516.8L775.29 1518.4L775.36 1518.7L775.47 1517.3L775.59 1518.2L775.7 1515.8L775.81 1516.7L775.93 1514.9L776.04 1515L776.15 1513.2L776.27 1513.9L776.38 1511.8L776.49 1512L776.59 1511.6L776.69 1509.8L776.79 1510.5L776.89 1508.4L776.99 1509.5L777.09 1507.3L777.19 1507.6L777.29 1505.6L777.39 1506.5L777.49 1505.2L777.49 1505L777.5 1507.1L777.51 1506.9L777.51 1509L777.52 1508.3L777.53 1509.9L777.54 1509.7L777.54 1511.7L777.55 1511.4L777.56 1513.1L777.56 1512.5L777.57 1514.5L777.58 1514.2L777.59 1516.1L777.59 1515.1L777.6 1517.6L777.61 1516.9L777.61 1518.9L777.62 1518.9L777.64 1519L777.65 1521.2L777.67 1520.8L777.68 1522.8L777.7 1521.6L777.71 1524L777.73 1523.4L777.74 1525.5L777.76 1524.9L777.77 1526.7L777.79 1526.1L777.8 1528.3L777.82 1528.2L777.83 1529.7L777.85 1530.1L778.11 1529.8L778.38 1531.3L778.64 1530.2L778.9 1531L779.17 1530L779.43 1530.9L779.47 1530.7L779.5 1529.2L779.53 1529.5L779.57 1527.3L779.6 1528L779.64 1525.8L779.67 1526.2L779.71 1524.2L779.74 1525.2L779.78 1523.3L779.81 1523.3L779.85 1521.6L779.88 1521.5L780.05 1521.5L780.21 1519.7L780.38 1520L780.55 1518.4L780.71 1518.8L780.88 1517L781.04 1518L781.21 1516.1L781.37 1515.8L781.4 1517.3L781.43 1516.4L781.46 1518.4L781.49 1517.8L781.53 1520.3L781.56 1519.5L781.59 1521.4L781.62 1520.6L781.65 1522.9L781.68 1522.4L781.71 1524.6L781.74 1523.5L781.77 1525.6L781.8 1525.3L781.83 1527L781.86 1526.6L781.89 1528.9L781.92 1528.6L782.03 1527.1L782.14 1528.2L782.26 1525.6L782.37 1526.7L782.48 1524.8L782.59 1525.1L782.71 1522.7L782.82 1523L782.89 1524.7L782.95 1524L783.01 1525.8L783.08 1525.1L783.14 1527.1L783.21 1526.6L783.27 1528.4L783.34 1528.1L783.4 1530.1L783.47 1529.8L783.53 1531.2L783.6 1530.6L783.66 1533.1L783.73 1533L783.95 1532.3L784.18 1534.3L784.4 1533L784.63 1535.1L784.86 1533.6L785.08 1535.1L785.31 1535.1L785.32 1533.6L785.34 1534.1L785.36 1532.1L785.38 1532.6L785.39 1530.6L785.41 1531.5L785.43 1529L785.45 1529.5L785.46 1527.6L785.48 1528.1L785.5 1525.8L785.52 1526.5L785.53 1525.2L785.66 1525.3L785.78 1527.2L785.91 1526.7L786.04 1528.4L786.16 1527.3L786.29 1529.6L786.41 1529.1L786.54 1530.8L786.66 1530.8L786.78 1529.4L786.89 1529.8L787 1528.3L787.12 1528.3L787.23 1526.7L787.34 1527.1L787.45 1525.3L787.57 1525.1L787.59 1526.4L787.62 1526.3L787.64 1528.1L787.67 1527.4L787.69 1529.7L787.72 1529.1L787.74 1531.3L787.77 1530.9L787.79 1532.1L787.85 1532.2L787.91 1530.1L787.96 1530.7L788.02 1528.6L788.08 1529.2L788.13 1527.3L788.19 1527.6L788.25 1526L788.3 1526.4L788.36 1524.4L788.42 1525L788.47 1523.6L788.54 1522.6L788.61 1522.7L788.68 1520.6L788.74 1521.3L788.81 1519.4L788.88 1520.1L788.95 1518.2L789.01 1519L789.08 1516.9L789.15 1516.7L789.28 1516.8L789.41 1514.9L789.54 1514.9L789.67 1513L789.8 1513.8L789.93 1512.2L790.05 1511.8L790.15 1511.7L790.26 1509.8L790.36 1510.4L790.46 1508.5L790.56 1508.6L790.66 1506.5L790.76 1507.5L790.86 1505.6L790.96 1505.2L791.06 1505.1L791.15 1503.4L791.25 1504L791.35 1501.8L791.44 1502.8L791.54 1500.4L791.64 1500.6L791.65 1500.5L791.65 1498.3L791.66 1499.2L791.67 1496.8L791.68 1497.6L791.69 1495.4L791.7 1496.3L791.71 1493.8L791.72 1494.4L791.73 1492.4L791.74 1492.9L791.75 1491L791.75 1491.9L791.76 1489.8L791.77 1490.7L791.78 1488.3L791.79 1488.8L791.8 1486.7L791.81 1487.7L791.82 1485.3L791.83 1485.9L791.84 1484L791.84 1484.5L791.85 1482.4L791.86 1482.4L791.89 1483.7L791.91 1483.3L791.93 1485.3L791.96 1484.8L791.98 1486.6L792 1486L792.03 1488.5L792.05 1487.7L792.07 1489.7L792.1 1489.3L792.12 1491L792.14 1490.8L792.17 1492.7L792.19 1492L792.21 1493.8L792.24 1493.2L792.26 1495.4L792.28 1494.7L792.31 1497.3L792.33 1496.1L792.35 1498.3L792.38 1498L792.4 1500.2L792.42 1499.7L792.45 1501.1L792.47 1500.8L792.49 1502.9L792.52 1502L792.54 1503.7L792.64 1505.2L792.73 1504.4L792.83 1506.8L792.93 1505.8L793.03 1507.9L793.12 1507.1L793.22 1508.6L793.28 1508.4L793.35 1506.5L793.41 1507L793.48 1504.9L793.54 1505.6L793.61 1503.1L793.67 1503.1L793.74 1504.5L793.8 1504.2L793.86 1505.9L793.93 1505.5L793.99 1507.5L794.06 1506.8L794.12 1509.1L794.19 1508L794.25 1510.3L794.32 1509.8L794.38 1511.9L794.45 1510.9L794.51 1513.2L794.58 1513.3L794.59 1512L794.6 1512.8L794.61 1510.8L794.62 1511L794.63 1508.8L794.64 1509.9L794.65 1507.7L794.66 1508L794.67 1506L794.68 1507L794.69 1504.6L794.7 1505.7L794.71 1503.1L794.73 1503.9L794.74 1502.2L794.75 1502.4L794.76 1500.5L794.77 1501.1L794.78 1499.3L794.79 1499.4L794.8 1498.3L794.93 1496.8L795.06 1497.6L795.19 1495.6L795.32 1496.5L795.45 1494.1L795.58 1494.4L795.71 1493.4L795.8 1493.6L795.89 1495.7L795.98 1495.1L796.07 1497.1L796.16 1496.7L796.25 1498.3L796.34 1497.6L796.43 1499.9L796.52 1499.2L796.61 1500.7L796.69 1501.8L796.78 1501.4L796.86 1503.5L796.95 1503L797.03 1505L797.12 1504.2L797.2 1506.6L797.29 1506.3L797.31 1506.4L797.34 1508.4L797.37 1508.2L797.39 1509.7L797.42 1509.2L797.45 1511.2L797.47 1511.2L797.5 1512.7L797.53 1512.4L797.55 1514.6L797.58 1513.8L797.61 1516.1L797.63 1515.7L797.66 1517L797.69 1516.6L797.71 1518.7L797.74 1519L797.92 1517.5L798.1 1518.2L798.28 1516.6L798.46 1516.9L798.64 1515.8L798.73 1516.1L798.82 1518.2L798.92 1517.3L799.01 1519.2L799.1 1518.8L799.19 1520.7L799.28 1520.5L799.37 1522.5L799.46 1521.6L799.55 1523.1L799.56 1523.3L799.57 1521L799.59 1521.6L799.6 1519.7L799.61 1519.8L799.62 1517.8L799.64 1518.9L799.65 1516.8L799.66 1517.5L799.67 1515L799.69 1515.7L799.7 1513.7L799.71 1514.7L799.72 1512.3L799.74 1513.2L799.75 1511.1L799.76 1511.4L799.77 1510.1L800.11 1508.9L800.45 1509.2L800.53 1509L800.6 1507.2L800.68 1507.9L800.75 1505.6L800.83 1506.4L800.9 1504.8L800.97 1503.6L801.04 1503.8L801.11 1502.1L801.18 1502.4L801.25 1500.3L801.32 1501.1L801.39 1499.2L801.46 1499.6L801.53 1497.8L801.6 1498.4L801.67 1496.5L801.74 1496.7L801.81 1495.7L801.86 1494.6L801.9 1495.1L801.95 1493L802 1493.3L802.05 1491.6L802.1 1491.8L802.14 1490.2L802.19 1490.2L802.24 1488.4L802.29 1489L802.33 1487.3L802.38 1487.8L802.43 1485.9L802.48 1486L802.53 1483.9L802.57 1484.5L802.62 1483.4L802.66 1483.5L802.7 1485.7L802.73 1484.7L802.77 1486.7L802.81 1486.5L802.84 1488.6L802.88 1487.9L802.92 1490.2L802.95 1489.5L802.99 1491.6L803.03 1490.8L803.06 1492.6L803.1 1492.2L803.14 1494L803.17 1493.5L803.21 1495.5L803.25 1494.9L803.29 1497.2L803.32 1496.7L803.36 1498.5L803.4 1498L803.43 1499.9L803.47 1499.3L803.51 1501.3L803.54 1501L803.58 1503.1L803.62 1503.1L803.67 1501.9L803.73 1502.5L803.79 1500.4L803.84 1501L803.9 1498.9L803.96 1499.4L804.01 1497.6L804.07 1497.8L804.13 1496.3L804.18 1496.9L804.24 1494.8L804.29 1495.4L804.35 1493.6L804.41 1493.9L804.46 1492L804.52 1491.8L804.61 1491.7L804.71 1489.9L804.8 1490L804.9 1488.4L804.99 1488.7L805.09 1487.1L805.18 1487.6L805.27 1485.6L805.37 1485.9L805.46 1483.7L805.56 1484.8L805.65 1483.2L805.66 1483L805.67 1485.5L805.68 1485L805.68 1486.6L805.69 1486.5L805.7 1488.3L805.71 1487.5L805.72 1489.5L805.73 1489.1L805.73 1491.2L805.74 1490.3L805.75 1492.3L805.76 1491.7L805.77 1493.8L805.78 1493.3L805.78 1495.1L805.79 1495.1L805.8 1497.1L805.81 1496.1L805.82 1498.4L805.83 1498L805.84 1499.4L805.84 1499.3L805.85 1500.9L805.86 1500.7L805.87 1502.5L805.88 1502.6L805.91 1503.1L805.95 1504.7L805.99 1504.1L806.03 1506.1L806.07 1505.5L806.1 1507.8L806.14 1507.1L806.18 1509.1L806.22 1508.8L806.25 1510.9L806.29 1510.4L806.33 1511.6L806.35 1512.7L806.37 1512.2L806.39 1514.7L806.41 1514.1L806.43 1515.7L806.45 1515.2L806.47 1517.5L806.49 1517.2L806.51 1518.8L806.53 1518.7L806.55 1520.6L806.56 1520.1L806.58 1522.2L806.6 1521.2L806.62 1523.1L806.64 1522.7L806.66 1524.8L806.68 1524.1L806.7 1526.6L806.72 1525.9L806.74 1527.5L806.76 1526.9L806.78 1528.6L806.82 1528.5L806.86 1526.2L806.9 1527.2L806.94 1524.9L806.98 1525.9L807.02 1523.5L807.06 1524.2L807.1 1522.5L807.13 1522.9L807.17 1520.8L807.21 1521.3L807.25 1518.9L807.29 1519.6L807.33 1517.6L807.37 1518L807.41 1516.2L807.45 1517.1L807.49 1515L807.53 1515.5L807.57 1513.1L807.61 1514.1L807.65 1511.9L807.69 1511.9L807.8 1513L807.91 1512.9L808.02 1514.5L808.14 1514L808.25 1515.8L808.36 1515.5L808.48 1517.1L808.59 1517.4L808.62 1515.8L808.66 1516.6L808.69 1514.7L808.73 1514.8L808.76 1513L808.8 1513.5L808.83 1511.2L808.87 1511.9L808.9 1510.1L808.94 1510.8L808.97 1508.7L809.01 1509.1L809.04 1507.6L809.14 1506.4L809.23 1507.1L809.32 1504.9L809.42 1505.8L809.51 1503.9L809.61 1504.4L809.7 1502.2L809.8 1502.9L809.89 1500.8L809.98 1501.8L810.08 1499.9L810.17 1499.6L810.22 1500.8L810.27 1500.5L810.32 1502.2L810.37 1502.2L810.41 1503.7L810.46 1503.5L810.51 1505.5L810.56 1504.8L810.61 1506.5L810.66 1506.3L810.7 1508.2L810.75 1507.7L810.8 1509.4L810.85 1509.8L810.89 1510.1L810.93 1511.5L810.97 1511L811.01 1513.5L811.05 1513.1L811.09 1514.9L811.13 1513.9L811.16 1516.3L811.2 1516L811.24 1517.7L811.28 1517.2L811.32 1519L811.36 1518.6L811.4 1520.3L811.44 1519.8L811.48 1522.2L811.52 1521.5L811.56 1523.9L811.6 1522.9L811.64 1524.9L811.68 1524.7L811.71 1526.3L811.75 1526.6L811.79 1525.5L811.82 1525.9L811.85 1523.4L811.88 1524.1L811.92 1522.4L811.95 1522.8L811.98 1520.4L812.01 1521.5L812.04 1519.4L812.08 1519.9L812.11 1517.4L812.14 1518.3L812.17 1516.2L812.21 1516L812.38 1517L812.55 1516.2L812.71 1518.2L812.88 1517.6L813.05 1519.4L813.22 1518.7L813.39 1520.7L813.56 1520.4L813.62 1520.6L813.68 1522.1L813.74 1521.8L813.8 1524L813.86 1523.1L813.92 1525.5L813.98 1524.4L814.04 1527.1L814.1 1526.2L814.16 1528.2L814.22 1527.8L814.28 1529.4L814.34 1528.9L814.4 1530.7L814.45 1530.3L814.51 1532.2L814.57 1531.9L814.63 1534.2L814.69 1533.9L814.73 1532.8L814.77 1532.8L814.81 1531.1L814.84 1531.4L814.88 1529.5L814.92 1529.9L814.96 1527.9L814.99 1529L815.03 1526.5L815.07 1527.3L815.11 1525.4L815.14 1526L815.18 1523.8L815.22 1524.3L815.26 1522.5L815.3 1522.9L815.33 1520.8L815.37 1521.7L815.41 1519.2L815.45 1519.8L815.48 1518.1L815.52 1518.5L815.56 1516.5L815.6 1516.5L815.64 1517.7L815.68 1517.5L815.72 1519L815.77 1518.8L815.81 1520.7L815.85 1519.8L815.89 1522.4L815.94 1521.3L815.98 1523.9L816.02 1522.7L816.06 1525.1L816.11 1524.2L816.15 1526.1L816.19 1525.7L816.23 1527.9L816.27 1527.9L816.29 1526.7L816.31 1527.2L816.33 1524.8L816.35 1525.7L816.37 1523.5L816.39 1524.1L816.41 1522.3L816.43 1523L816.44 1521.1L816.46 1521.1L816.48 1519.1L816.5 1519.8L816.52 1518.1L816.54 1518.5L816.56 1516.4L816.58 1517L816.6 1515L816.61 1515.5L816.63 1513.4L816.65 1513.9L816.67 1512.3L816.69 1512.3L816.71 1510.3L816.73 1510.5L816.8 1511.9L816.88 1511.5L816.95 1513.5L817.03 1512.8L817.1 1514.4L817.18 1514.1L817.25 1515.9L817.33 1515.5L817.41 1517.6L817.48 1517.2L817.56 1519L817.63 1519L817.71 1519.4L817.79 1521.1L817.87 1520.5L817.95 1522.2L818.03 1522L818.12 1523.7L818.2 1523.4L818.28 1525.6L818.36 1524.8L818.44 1527L818.52 1526L818.6 1528L818.68 1527.3L818.76 1529L818.77 1529.1L818.77 1527.2L818.78 1527.7L818.78 1525.5L818.79 1525.8L818.8 1523.7L818.8 1524.6L818.81 1522.3L818.81 1522.9L818.82 1520.9L818.82 1521.3L818.83 1519.8L818.83 1520.1L818.84 1518.5L818.85 1518.8L818.85 1516.9L818.86 1517.1L818.86 1515.1L818.87 1515.8L818.87 1513.5L818.88 1514.5L818.89 1512.1L818.89 1513L818.9 1511.5L819.09 1510.1L819.28 1511.5L819.47 1509.7L819.67 1509.6L819.72 1511.2L819.78 1510.5L819.83 1512.6L819.89 1511.8L819.95 1514.2L820 1513.6L820.06 1515.3L820.12 1514.7L820.17 1517.2L820.23 1516.2L820.29 1518L820.34 1517.7L820.4 1519.5L820.46 1519.2L820.51 1521.5L820.57 1521.4L820.61 1520.3L820.65 1520.9L820.69 1518.5L820.73 1519L820.77 1517.4L820.81 1517.7L820.85 1515.5L820.89 1516.4L820.93 1514.6L820.97 1514.6L821.01 1513.2L821.05 1513.7L821.09 1511.7L821.13 1512.2L821.18 1510.3L821.22 1510.8L821.26 1508.8L821.3 1509L821.34 1507L821.38 1507.9L821.42 1505.7L821.46 1506.7L821.5 1504.1L821.54 1504.7L821.58 1503.2L821.62 1503.4L821.66 1501.6L821.7 1501.6L821.79 1503.2L821.88 1502.1L821.97 1504L822.06 1503.9L822.15 1506L822.24 1505L822.33 1507.1L822.42 1506.5L822.51 1508.3L822.6 1508.6L822.66 1508.4L822.72 1510.6L822.78 1509.8L822.84 1512.1L822.9 1511.8L822.96 1513.4L823.02 1513.1L823.08 1515.2L823.14 1514.2L823.2 1516L823.26 1516L823.32 1517.6L823.38 1517.2L823.44 1519.2L823.5 1518.6L823.56 1520.5L823.62 1520.3L823.67 1522L823.73 1522L823.8 1520.8L823.86 1521L823.92 1519.3L823.98 1520.2L824.04 1518.2L824.1 1518.2L824.17 1516.4L824.23 1516.9L824.29 1515.2L824.35 1515.7L824.41 1514.3L824.57 1513.2L824.74 1513.7L824.9 1511.7L825.06 1512.7L825.22 1510.1L825.38 1510.8L825.54 1509.8L825.61 1509.8L825.67 1512.1L825.74 1511L825.8 1513.5L825.87 1512.6L825.93 1514.8L825.99 1514.2L826.06 1515.9L826.12 1515.3L826.19 1517.7L826.25 1516.6L826.32 1519L826.38 1518.4L826.45 1519.6L826.55 1519.7L826.65 1517.4L826.75 1518.1L826.86 1516L826.96 1516.6L827.06 1514.7L827.17 1515.2L827.27 1513.6L827.37 1513.8L827.47 1512L827.58 1511.8L827.68 1512.1L827.78 1509.8L827.88 1510.3L827.97 1508.6L828.07 1508.8L828.17 1507.1L828.27 1507.3L828.37 1505.9L828.47 1506.4L828.57 1504.8L828.6 1552L828.9 1560L829.3 1570L830.4 1578L832 1582.2L832 1582.6L833.9 1583.2L838.6 1583.2L842 1582.2L845 1581.8L851.2 1581.7L851.4 1576.1L851.6 1581.7L855 1581.6L855.2 1584.3L855.4 1581.6L858.3 1581.5L858.5 1572.9L858.7 1581.5L870.2 1581.3L870.4 1574.2L870.6 1581.3L871.1 1581.3L871.3 1583.9L871.5 1581.3L875.2 1581.2L875.4 1579.2L875.6 1581.2L896 1580.8L897.3 1580.8L897.5 1578L897.7 1580.8L921 1580.8L926.1 1581.2L926.3 1578L926.5 1581.2L927.4 1581.3L927.6 1584.6L927.8 1581.3L935 1581.8L941.3 1581.9L941.5 1585.2L941.7 1581.9L958.2 1582.2L958.4 1577.7L958.6 1582.2L960.9 1582.2L961.1 1584.1L961.3 1582.2L972 1582.4L985 1581.8L994.2 1581.9L994.4 1574.2L994.6 1581.9L997.3 1582L997.5 1577.1L997.7 1582L1009.3 1582.2L1009.5 1574.2L1009.7 1582.2L1018.3 1582.3L1018.5 1577.1L1018.7 1582.3L1028 1582.5L1028.2 1584.6L1028.4 1582.5L1029 1582.5L1040 1581.8L1066 1582.8L1066.1 1582.8L1066.3 1575.2L1066.5 1582.8L1071 1582.5L1084.5 1581.8L1084.95 1512.3L1084.95 1493.9L1085.13 1493.7L1085.31 1489.1L1085.49 1492.3L1085.68 1486.4L1085.86 1487.6L1086.31 1487.4L1086.76 1485.6L1086.79 1482.3L1086.81 1484.4L1086.84 1479.8L1086.86 1482.3L1086.89 1477.9L1086.91 1480.5L1086.94 1475.9L1086.96 1477.6L1086.99 1474.2L1087.09 1470.7L1087.19 1473.5L1087.28 1468.8L1087.38 1472L1087.48 1467L1087.58 1469L1087.68 1463.7L1087.78 1466.1L1087.88 1461.4L1087.98 1462.3L1088.13 1464.9L1088.28 1462.8L1088.43 1467.6L1088.58 1464.8L1088.72 1469.4L1088.87 1467.2L1089.02 1470.3L1088.99 1473.4L1088.96 1471.8L1088.94 1476.2L1088.91 1474.3L1088.88 1479.4L1088.85 1476.6L1088.82 1481.7L1088.79 1480.9L1088.99 1478L1089.18 1480.1L1089.38 1476.1L1089.57 1477.1L1089.76 1472.4L1089.96 1475.4L1090.15 1472.4L1090.22 1471.9L1090.28 1476.5L1090.34 1473.8L1090.41 1478.4L1090.47 1477.3L1090.54 1481.9L1090.6 1479.2L1090.67 1484L1090.73 1481L1090.8 1486.9L1090.86 1483.3L1090.93 1487.7L1090.99 1486.6L1091.06 1489.3L1091.17 1490.4L1091.28 1484.7L1091.39 1486.8L1091.51 1483.6L1091.62 1484.7L1091.73 1481.4L1091.85 1482.6L1091.96 1480L1092.07 1479.1L1092.19 1484.3L1092.3 1482.3L1092.41 1486.1L1092.52 1485L1092.64 1490.4L1092.75 1487L1092.86 1490.4L1092.9 1490.7L1092.94 1486.3L1092.98 1488.9L1093.01 1483.3L1093.05 1485.3L1093.09 1481L1093.13 1483.3L1093.16 1478.9L1093.2 1480.6L1093.24 1476.7L1093.28 1478.3L1093.32 1475.7L1093.41 1475.5L1093.51 1479L1093.61 1478.3L1093.7 1482.5L1093.8 1481L1093.9 1484.3L1093.99 1484.4L1094.09 1481L1094.19 1483.1L1094.28 1479.1L1094.38 1480.4L1094.48 1475.6L1094.57 1477.5L1094.67 1475.3L1094.77 1474.6L1094.87 1480L1094.96 1477.7L1095.06 1481.6L1095.16 1479.1L1095.25 1484.4L1095.35 1483.7L1095.42 1481L1095.49 1482.1L1095.55 1478.4L1095.62 1480.2L1095.69 1475.4L1095.76 1477.6L1095.82 1473.5L1095.89 1475.8L1095.96 1470.3L1096.03 1471.4L1096.07 1471.6L1096.1 1467.4L1096.14 1469.5L1096.18 1464L1096.22 1466.4L1096.25 1461.5L1096.29 1464.9L1096.33 1460.1L1096.37 1462.4L1096.4 1457.8L1096.44 1458.9L1096.48 1456.7L1096.54 1455.8L1096.61 1460.7L1096.67 1458.8L1096.74 1463.5L1096.8 1460.6L1096.87 1466.5L1096.93 1465.6L1096.98 1463.5L1097.03 1464.9L1097.08 1460.2L1097.13 1462.2L1097.18 1457L1097.23 1459.6L1097.28 1455.2L1097.33 1457.9L1097.38 1454.3L1097.47 1451.5L1097.57 1453.5L1097.66 1448.9L1097.75 1451.7L1097.84 1448.2L1098.18 1445L1098.51 1445.7L1098.54 1446.6L1098.57 1441.7L1098.59 1442.8L1098.62 1438.7L1098.64 1441.3L1098.67 1436.1L1098.7 1439.2L1098.72 1434.8L1098.75 1435.7L1098.78 1432.4L1098.8 1434.3L1098.83 1429.9L1098.85 1430.5L1098.88 1426.2L1098.91 1428.9L1098.93 1425L1098.96 1426.7L1098.98 1421.3L1099.01 1423.8L1099.04 1420L1099.06 1421.7L1099.09 1416.9L1099.11 1419.1L1099.14 1413.4L1099.17 1417L1099.19 1413.5L1099.22 1412.4L1099.25 1417L1099.27 1415.8L1099.3 1420.2L1099.33 1418.9L1099.36 1423.5L1099.38 1420.9L1099.41 1424.7L1099.44 1423.3L1099.46 1427.2L1099.49 1424.8L1099.52 1430.2L1099.55 1427.9L1099.57 1432.4L1099.6 1431.3L1099.63 1434.7L1099.65 1432.3L1099.68 1438.1L1099.71 1434.8L1099.74 1439.6L1099.76 1438.4L1099.79 1441.7L1099.82 1440.3L1099.84 1444.8L1099.87 1444.5L1099.98 1444.2L1100.1 1448.9L1100.21 1446.7L1100.32 1451.3L1100.44 1448.9L1100.55 1452.5L1100.62 1452.3L1100.7 1447.4L1100.77 1450.3L1100.85 1446.3L1100.93 1447.1L1101 1444.4L1101.07 1443.9L1101.14 1448.3L1101.21 1446.2L1101.28 1450.5L1101.35 1449.1L1101.42 1453.8L1101.49 1451.4L1101.56 1456L1101.63 1452.9L1101.7 1458.1L1101.77 1455.9L1101.84 1461.1L1101.91 1459.8L1101.92 1457L1101.93 1459.8L1101.94 1455.3L1101.96 1456.5L1101.97 1451.8L1101.98 1453.4L1101.99 1448.9L1102.01 1451L1102.02 1447L1102.03 1448.7L1102.04 1443.9L1102.06 1447L1102.07 1441.7L1102.08 1444.4L1102.09 1439.5L1102.11 1442.3L1102.12 1437.7L1102.13 1437.8L1102.31 1437.7L1102.49 1432.8L1102.67 1434.9L1102.85 1430L1103.04 1431.2L1103.15 1433.6L1103.26 1432.7L1103.37 1435.9L1103.49 1434L1103.6 1439.9L1103.71 1437.1L1103.83 1441.9L1103.94 1441.2L1104.04 1441.2L1104.13 1446.1L1104.23 1442.9L1104.33 1447.2L1104.42 1446.5L1104.52 1450.7L1104.62 1449.9L1104.65 1450.3L1104.68 1454.7L1104.71 1452.4L1104.74 1456.2L1104.77 1454.4L1104.8 1458.9L1104.83 1457L1104.86 1461.1L1104.89 1458.9L1104.92 1463.9L1104.95 1461.5L1104.98 1466.2L1105.01 1464.1L1105.04 1470.2L1105.07 1468.9L1105.25 1466.2L1105.43 1467.3L1105.61 1463.8L1105.79 1466L1105.97 1462.8L1106.09 1462.9L1106.2 1467.1L1106.31 1465.6L1106.43 1469.5L1106.54 1467L1106.65 1471.9L1106.76 1469.6L1106.88 1472.9L1106.89 1472.7L1106.91 1468.2L1106.92 1470.3L1106.94 1465.6L1106.95 1469.5L1106.97 1463.2L1106.98 1466.2L1107 1462L1107.01 1463.5L1107.03 1458.7L1107.04 1461.4L1107.06 1456L1107.07 1458.2L1107.09 1454.4L1107.1 1454.9L1107.78 1453.5L1107.86 1454.5L1107.93 1449L1108.01 1451.3L1108.08 1447.3L1108.16 1447.9L1108.23 1445.6L1108.32 1443.1L1108.4 1445.5L1108.48 1439.6L1108.56 1441.8L1108.65 1437L1108.73 1439L1108.81 1435.1L1108.89 1438.3L1108.97 1433.1L1109.06 1435.8L1109.14 1432L1109.2 1428.9L1109.25 1430.5L1109.31 1427.1L1109.37 1428.8L1109.43 1424.8L1109.49 1427L1109.55 1422.6L1109.6 1424.7L1109.66 1420L1109.72 1421L1109.78 1417.1L1109.84 1418.7L1109.89 1414.7L1109.95 1415.3L1109.99 1418.8L1110.03 1415.9L1110.08 1420.7L1110.12 1419.4L1110.16 1423.2L1110.2 1421.8L1110.24 1425.9L1110.28 1424.2L1110.33 1428.3L1110.37 1426.3L1110.41 1430.4L1110.45 1428.2L1110.49 1432.5L1110.53 1431.6L1110.57 1436.4L1110.62 1433.7L1110.66 1438.7L1110.7 1435.2L1110.74 1440.5L1110.78 1439L1110.82 1442.3L1110.86 1440.2L1110.91 1444.8L1110.95 1445L1111.02 1442.1L1111.09 1444.2L1111.16 1440.2L1111.22 1441.6L1111.29 1437.6L1111.36 1439.1L1111.43 1434.4L1111.5 1436.3L1111.57 1432.4L1111.64 1433.8L1111.71 1429.9L1111.78 1430.8L1111.85 1428.5L1111.95 1426L1112.06 1428.4L1112.16 1423.1L1112.26 1426L1112.36 1421.6L1112.47 1423.7L1112.57 1418.3L1112.67 1421L1112.78 1415.8L1112.88 1418.4L1112.98 1415.2L1112.99 1415.2L1113 1419.8L1113.01 1417.8L1113.02 1421.4L1113.03 1420.5L1113.04 1424.1L1113.05 1422.1L1113.06 1426.4L1113.07 1423.9L1113.08 1428.5L1113.08 1426.9L1113.09 1431.2L1113.1 1429.4L1113.11 1434.7L1113.12 1431.6L1113.13 1435.8L1113.14 1435L1113.15 1439.3L1113.16 1436.1L1113.17 1440.8L1113.18 1439.2L1113.19 1444.4L1113.2 1441.3L1113.21 1444.8L1113.26 1447.5L1113.31 1445.2L1113.36 1450.3L1113.41 1447.5L1113.46 1452.1L1113.51 1450.1L1113.56 1455.4L1113.61 1453.6L1113.66 1456.4L1113.68 1458.6L1113.7 1457.6L1113.72 1462.2L1113.75 1459.3L1113.77 1463.6L1113.79 1462.3L1113.81 1466L1113.83 1465L1113.85 1468.6L1113.87 1467.2L1113.9 1472.4L1113.92 1468.4L1113.94 1474.5L1113.96 1471.8L1113.98 1476.4L1114 1473.7L1114.03 1479.5L1114.05 1476.2L1114.07 1481.5L1114.09 1479.6L1114.11 1482L1114.15 1482.7L1114.2 1477.2L1114.24 1480.5L1114.28 1476.1L1114.33 1477.9L1114.37 1473.2L1114.41 1474.5L1114.46 1469.6L1114.5 1472.9L1114.54 1467.6L1114.58 1469.5L1114.63 1465L1114.67 1468.5L1114.71 1462.4L1114.76 1465.7L1114.8 1460.1L1114.84 1463.4L1114.89 1458.1L1114.93 1460.3L1114.97 1455.2L1115.02 1456.2L1115.14 1459.7L1115.27 1456.3L1115.4 1461.2L1115.53 1458.6L1115.66 1464.1L1115.79 1461.1L1115.92 1464.8L1115.96 1464.6L1115.99 1459.9L1116.03 1463.4L1116.07 1458.7L1116.11 1461.1L1116.15 1456.4L1116.18 1457.5L1116.22 1453.5L1116.26 1455.1L1116.3 1451L1116.33 1453.9L1116.37 1450.3L1116.48 1447L1116.6 1449.9L1116.71 1445.1L1116.82 1447.6L1116.94 1442L1117.05 1445L1117.16 1439.3L1117.28 1442.8L1117.39 1437.8L1117.5 1438.1L1117.55 1440.3L1117.6 1438.5L1117.65 1444L1117.7 1441.5L1117.74 1446L1117.79 1443L1117.84 1448.7L1117.89 1446.9L1117.94 1450.5L1117.99 1449.2L1118.03 1452.2L1118.08 1450.2L1118.13 1455.2L1118.18 1454.8L1118.23 1454.2L1118.27 1458.9L1118.32 1457.1L1118.36 1460.8L1118.41 1459.5L1118.45 1464.4L1118.5 1461.4L1118.54 1465.8L1118.59 1464.8L1118.63 1468.2L1118.68 1466.1L1118.72 1470.9L1118.77 1468.6L1118.81 1474L1118.86 1472L1118.9 1476.2L1118.95 1474.5L1118.99 1478.9L1119.04 1476.7L1119.08 1479L1119.12 1479L1119.15 1473.9L1119.19 1476.6L1119.22 1472.7L1119.26 1475L1119.29 1469.4L1119.33 1472.5L1119.36 1467.3L1119.4 1469.2L1119.43 1463.7L1119.47 1466.6L1119.5 1461.1L1119.54 1462.4L1119.73 1464.6L1119.92 1462.3L1120.12 1466.8L1120.31 1465.1L1120.5 1468.7L1120.7 1468L1120.89 1470.2L1120.96 1473.9L1121.03 1471L1121.1 1476.1L1121.17 1473.8L1121.25 1477.6L1121.32 1476.4L1121.39 1480.4L1121.46 1477.5L1121.53 1482.7L1121.6 1480.7L1121.67 1485.9L1121.74 1482.2L1121.81 1487.8L1121.88 1486.1L1121.95 1490.1L1122.02 1489.4L1122.07 1486.6L1122.11 1489.5L1122.15 1484.3L1122.19 1486.5L1122.24 1481.4L1122.28 1483.5L1122.32 1479.1L1122.37 1481.6L1122.41 1476L1122.45 1478.9L1122.5 1474.5L1122.54 1477.3L1122.58 1472.6L1122.63 1474.6L1122.67 1469L1122.71 1471.6L1122.75 1467L1122.8 1469.5L1122.84 1463.7L1122.88 1467L1122.93 1463.7L1122.98 1462.8L1123.02 1467L1123.07 1466L1123.12 1469.7L1123.17 1467.4L1123.22 1473.6L1123.27 1471.4L1123.31 1475.5L1123.36 1473.1L1123.41 1477L1123.46 1475.9L1123.51 1480.8L1123.56 1477.9L1123.6 1481.1L1123.63 1481.2L1123.65 1476.5L1123.67 1478.7L1123.69 1474.4L1123.71 1476.5L1123.73 1471.1L1123.76 1474.4L1123.78 1469L1123.8 1472L1123.82 1467.3L1123.84 1470.1L1123.86 1464.2L1123.88 1467.1L1123.91 1462.5L1123.93 1463.7L1123.95 1459.5L1123.97 1462.4L1123.99 1456.7L1124.01 1459.1L1124.04 1455.4L1124.06 1455.2L1124.14 1458.1L1124.22 1455.3L1124.3 1460L1124.39 1458L1124.47 1462.5L1124.55 1461.3L1124.63 1464.7L1124.71 1463.8L1124.8 1467.8L1124.88 1465.1L1124.96 1468.8L1125.06 1472.5L1125.17 1470.1L1125.27 1473.7L1125.37 1471L1125.47 1475.9L1125.58 1474.5L1125.68 1478.6L1125.78 1477.3L1125.89 1480.7L1125.99 1479.1L1126.09 1481.8L1126.1 1482L1126.1 1476.7L1126.11 1479.3L1126.12 1475.6L1126.12 1477.9L1126.13 1472.7L1126.14 1475.3L1126.14 1469.8L1126.15 1472.7L1126.16 1467.9L1126.16 1469L1126.17 1464.6L1126.18 1467.1L1126.18 1462.4L1126.19 1465L1126.19 1459.6L1126.2 1461.8L1126.21 1457.8L1126.21 1460.4L1126.22 1455L1126.23 1455.5L1127 1454.6L1127.06 1457.1L1127.12 1455L1127.19 1459.4L1127.25 1457.1L1127.32 1461.4L1127.38 1459.4L1127.45 1464.7L1127.51 1462.6L1127.58 1467.7L1127.64 1465.2L1127.71 1468.8L1127.77 1467.9L1127.84 1471.8L1127.9 1471.2L1127.95 1467.8L1127.99 1470.8L1128.04 1466L1128.09 1468.6L1128.14 1464.1L1128.18 1465.3L1128.23 1460.8L1128.28 1464L1128.32 1458.4L1128.37 1461.1L1128.42 1455.7L1128.46 1458.2L1128.51 1453L1128.56 1456.4L1128.61 1451.6L1128.65 1453.3L1128.7 1448.4L1128.75 1450.8L1128.79 1447.1L1128.84 1449.4L1128.89 1444L1128.94 1446.3L1128.98 1441.4L1129.03 1442.2L1129.14 1445.8L1129.26 1443.6L1129.37 1447.3L1129.48 1446.3L1129.59 1449.9L1129.71 1448L1129.82 1453.2L1129.93 1452.2L1130 1451.4L1130.07 1456.4L1130.13 1454.3L1130.2 1458.9L1130.27 1457L1130.33 1461.9L1130.4 1458.6L1130.47 1464.3L1130.53 1462.2L1130.6 1466.5L1130.67 1463.6L1130.73 1468.6L1130.8 1465.8L1130.86 1471.8L1130.93 1468.5L1131 1474.1L1131.06 1473.1L1131.14 1469.8L1131.21 1472.9L1131.29 1468.1L1131.37 1469.9L1131.44 1464.5L1131.52 1467.1L1131.59 1462.6L1131.67 1463.5L1131.74 1461.3L1131.97 1458.2L1132.19 1461.2L1132.42 1456.4L1132.65 1457.6L1132.87 1455.3L1132.96 1455.4L1133.05 1458.8L1133.14 1457.1L1133.23 1463L1133.32 1459.5L1133.42 1464.4L1133.51 1462.2L1133.6 1466.5L1133.69 1464.6L1133.78 1468.2L1133.89 1468.4L1134 1465.1L1134.12 1466.6L1134.23 1462.5L1134.34 1463.6L1134.45 1460.3L1134.57 1461.6L1134.68 1457.1L1134.79 1460L1134.91 1456.6L1135.05 1454.5L1135.19 1456.4L1135.33 1451.9L1135.48 1452.9L1135.62 1448.6L1135.76 1450.7L1135.9 1448.1L1135.91 1447.9L1135.92 1452.3L1135.93 1450.6L1135.94 1455.2L1135.94 1453L1135.95 1457.7L1135.96 1454.4L1135.97 1459.6L1135.98 1458.2L1135.99 1462.5L1135.99 1460.7L1136 1464.4L1136.01 1462.4L1136.02 1466.1L1136.03 1464.5L1136.04 1467.6L1136.05 1470.9L1136.07 1468.2L1136.09 1472.8L1136.1 1470.8L1136.12 1475.5L1136.13 1473.7L1136.15 1478.5L1136.17 1474.7L1136.18 1480.8L1136.2 1477.2L1136.21 1482.4L1136.23 1479.6L1136.25 1484.3L1136.26 1484.6L1136.79 1483.3L1137.32 1486.3L1137.85 1485.6L1137.89 1482.8L1137.93 1485.1L1137.97 1479.8L1138.01 1482.2L1138.05 1477.9L1138.09 1479.2L1138.13 1475.3L1138.17 1476.8L1138.22 1473.2L1138.26 1475.2L1138.3 1471.8L1138.48 1468.9L1138.67 1471L1138.86 1467.1L1139.04 1469.1L1139.23 1464.8L1139.42 1466L1139.6 1461.8L1139.79 1462.4L1139.82 1465.7L1139.86 1462.3L1139.89 1468.2L1139.92 1464.8L1139.96 1471L1139.99 1467.7L1140.03 1473.1L1140.06 1471.4L1140.09 1474.6L1140.13 1473.9L1140.16 1478.3L1140.2 1475.1L1140.23 1480.4L1140.26 1478.4L1140.3 1482.3L1140.33 1482.1L1140.46 1479.7L1140.59 1481.4L1140.72 1475.6L1140.85 1478.2L1140.98 1474.7L1141.11 1475.3L1141.24 1472.9L1141.31 1472.7L1141.38 1477.8L1141.44 1474.4L1141.51 1479.5L1141.58 1478.2L1141.65 1481.3L1141.72 1480.5L1141.79 1485L1141.86 1482.4L1141.93 1487.9L1142 1484.1L1142.07 1490L1142.14 1489L1142.54 1488.1L1142.93 1492.7L1143.33 1490.1L1143.72 1491.8L1143.74 1491.6L1143.76 1487.5L1143.78 1489.8L1143.8 1485.7L1143.83 1486.9L1143.85 1483.6L1143.87 1485.6L1143.89 1479.8L1143.91 1483.2L1143.93 1476.9L1143.95 1478.2L1144.14 1481L1144.33 1478.6L1144.51 1483.4L1144.7 1480.9L1144.89 1486.7L1145.08 1485.6L1145.21 1483.4L1145.34 1484L1145.47 1480.8L1145.6 1482.6L1145.72 1478.1L1145.85 1479.1L1145.98 1477.1L1146.02 1476.2L1146.05 1482L1146.08 1479.5L1146.11 1483.4L1146.14 1481.4L1146.18 1486.9L1146.21 1486.5L1146.28 1484.4L1146.34 1485.5L1146.41 1481L1146.48 1484.1L1146.55 1478.9L1146.62 1481.3L1146.68 1477L1146.75 1478.2L1146.82 1473.3L1146.89 1474.5L1146.97 1474.8L1147.06 1471.1L1147.14 1472.6L1147.23 1468.5L1147.31 1469.4L1147.4 1465.4L1147.48 1467.6L1147.57 1464.5L1147.72 1461.3L1147.87 1464L1148.02 1459L1148.17 1460.2L1148.32 1455.9L1148.47 1456.7L1148.58 1456.3L1148.7 1452.5L1148.81 1454.4L1148.92 1449.6L1149.03 1452.4L1149.15 1447.8L1149.26 1449.7L1149.37 1446.4L1149.51 1443L1149.64 1445.3L1149.78 1441.3L1149.92 1443.5L1150.05 1439.7L1150.06 1436.6L1150.07 1438.1L1150.08 1434.8L1150.09 1437.3L1150.11 1432.3L1150.12 1433.8L1150.13 1428.8L1150.14 1432.1L1150.15 1426.6L1150.16 1429.4L1150.17 1425.2L1150.18 1425.8L1150.19 1421.1L1150.2 1424.6L1150.21 1420.3L1150.22 1420.8L1150.23 1417.5L1150.25 1419.9L1150.26 1415L1150.27 1417L1150.28 1413.7L1150.3 1412.5L1150.33 1418.1L1150.36 1414.9L1150.38 1419.8L1150.41 1418.7L1150.43 1421.8L1150.46 1420L1150.49 1424.3L1150.51 1422L1150.54 1427.8L1150.56 1425.8L1150.59 1430.4L1150.62 1428.3L1150.64 1432.3L1150.67 1430.8L1150.69 1435.2L1150.72 1431.8L1150.75 1437.8L1150.77 1435.8L1150.8 1440.1L1150.83 1437.2L1150.85 1442.5L1150.88 1439.7L1150.9 1444.5L1150.93 1441.9L1150.96 1445L1151.09 1448.6L1151.23 1446.8L1151.36 1450L1151.5 1448.7L1151.63 1451.9L1151.72 1451.9L1151.81 1447.8L1151.91 1448.9L1152 1444.7L1152.09 1445.5L1152.17 1447.6L1152.25 1445.7L1152.33 1451.5L1152.41 1448.8L1152.5 1452.7L1152.58 1451L1152.66 1455.3L1152.74 1453.8L1152.83 1457.6L1152.91 1455.3L1152.99 1459.1L1153 1459.6L1153.02 1455.1L1153.03 1456.2L1153.04 1451.9L1153.06 1455.1L1153.07 1449.2L1153.08 1451.2L1153.1 1447.5L1153.11 1449L1153.12 1444.2L1153.14 1446.2L1153.15 1442L1153.16 1445.2L1153.18 1439.2L1153.19 1440.9L1153.2 1437.9L1153.22 1437.5L1153.37 1437.3L1153.52 1433.1L1153.67 1435.8L1153.82 1430.9L1153.97 1433.1L1154.12 1430.2L1154.21 1429.9L1154.3 1434.5L1154.39 1431.8L1154.48 1437.4L1154.57 1434L1154.66 1439.5L1154.75 1436L1154.84 1441.9L1154.93 1438.7L1155.02 1442L1155.14 1444.2L1155.25 1442.6L1155.36 1448.3L1155.48 1445.8L1155.59 1451.1L1155.7 1450L1155.73 1450.2L1155.77 1455.1L1155.8 1452.3L1155.83 1457.2L1155.86 1455.2L1155.9 1459L1155.93 1457.5L1155.96 1461.6L1155.99 1460.5L1156.03 1464.4L1156.06 1461.5L1156.09 1467.3L1156.12 1464.1L1156.15 1467.9L1156.38 1468.9L1156.61 1463.2L1156.83 1467L1157.06 1463.2L1157.17 1462.4L1157.28 1467.1L1157.4 1465.9L1157.51 1470L1157.62 1469L1157.74 1472.3L1157.85 1470L1157.96 1473.7L1157.98 1475L1157.99 1469.9L1158.01 1472.3L1158.02 1466.7L1158.03 1470.1L1158.05 1464.3L1158.06 1467.1L1158.08 1463.1L1158.09 1465.2L1158.1 1460.4L1158.12 1462.4L1158.13 1457.9L1158.15 1459.9L1158.16 1454.4L1158.17 1456.8L1158.19 1454.5L1158.53 1451.8L1158.87 1452.6L1158.96 1453.2L1159.05 1448.2L1159.14 1451.2L1159.23 1445.9L1159.32 1446.1L1159.41 1447.3L1159.5 1441.5L1159.59 1444.8L1159.68 1440.1L1159.77 1440.9L1159.86 1437.1L1159.95 1439.6L1160.04 1435.1L1160.13 1435.9L1160.22 1433.3L1160.28 1430L1160.33 1433.4L1160.39 1428.5L1160.44 1430L1160.49 1425.1L1160.55 1428L1160.6 1422.6L1160.66 1425.6L1160.71 1421L1160.77 1422.3L1160.82 1419L1160.87 1420.6L1160.93 1416.2L1160.98 1417.3L1161.04 1414.9L1161.08 1413.5L1161.12 1419.2L1161.16 1416.6L1161.2 1421.7L1161.24 1419L1161.28 1424.1L1161.32 1422L1161.36 1425.4L1161.4 1424.8L1161.43 1427.7L1161.47 1426.7L1161.51 1430.4L1161.55 1429.6L1161.59 1433.5L1161.63 1430.4L1161.67 1436.2L1161.71 1434.1L1161.75 1438.8L1161.79 1436.7L1161.83 1440L1161.87 1438.9L1161.91 1443L1161.95 1440.6L1161.99 1445.4L1162.03 1445.1L1162.1 1441.8L1162.16 1443.6L1162.23 1439L1162.29 1441.7L1162.35 1436.8L1162.42 1438.7L1162.48 1434.3L1162.55 1436.6L1162.61 1431.9L1162.68 1435.3L1162.74 1429.8L1162.81 1431.9L1162.87 1428.6L1162.94 1428.2L1163.04 1428.2L1163.14 1423.4L1163.24 1425.8L1163.35 1421.5L1163.45 1424.2L1163.55 1419.2L1163.66 1421.1L1163.76 1417.8L1163.86 1418.6L1163.96 1413.9L1164.07 1415.3L1164.08 1418L1164.08 1415.7L1164.09 1420.7L1164.1 1418.9L1164.11 1422.2L1164.12 1421.7L1164.13 1426.1L1164.14 1423.9L1164.15 1428.7L1164.16 1425.9L1164.17 1430.7L1164.18 1428.7L1164.19 1433.2L1164.2 1430.9L1164.21 1434.8L1164.22 1432.9L1164.23 1436.8L1164.24 1435.8L1164.24 1440.4L1164.25 1438.1L1164.26 1442.1L1164.27 1439.7L1164.28 1444.2L1164.29 1444.2L1164.33 1444.3L1164.37 1447.8L1164.42 1446.4L1164.46 1450.5L1164.5 1448.3L1164.54 1453.1L1164.58 1450.3L1164.62 1454.7L1164.66 1453L1164.7 1458.5L1164.74 1457.4L1164.77 1457.4L1164.79 1460.7L1164.82 1459.6L1164.84 1463.4L1164.86 1462L1164.89 1467L1164.91 1465.2L1164.93 1468.4L1164.96 1467L1164.98 1471L1165.01 1470L1165.03 1474L1165.05 1472.7L1165.08 1475.8L1165.1 1474.7L1165.12 1479L1165.15 1476.2L1165.17 1481.7L1165.2 1481.2L1165.24 1479L1165.29 1479.8L1165.34 1475.3L1165.39 1478L1165.43 1472.5L1165.48 1476.2L1165.53 1470.1L1165.58 1472.1L1165.62 1467.4L1165.67 1470.4L1165.72 1466.2L1165.77 1467.2L1165.81 1462.6L1165.86 1464.8L1165.91 1461.5L1165.96 1462.4L1166.01 1457.4L1166.05 1460.3L1166.1 1457.4L1166.25 1456.6L1166.4 1461L1166.55 1459.8L1166.7 1464L1166.85 1462.9L1167 1465.3L1167.05 1466L1167.09 1461.3L1167.13 1462.5L1167.17 1457.6L1167.21 1460.6L1167.25 1456.5L1167.29 1457.2L1167.33 1453.1L1167.37 1455.5L1167.42 1451.7L1167.46 1451.2L1167.57 1451.7L1167.68 1446.7L1167.8 1449.4L1167.91 1445.3L1168.02 1447L1168.13 1442.2L1168.25 1444.9L1168.36 1440.7L1168.47 1442.7L1168.59 1439.3L1168.64 1438.1L1168.7 1443.9L1168.76 1440.7L1168.81 1445.8L1168.87 1443.2L1168.93 1447.9L1168.98 1446.9L1169.04 1451.2L1169.1 1448.2L1169.15 1452.8L1169.21 1451.9L1169.26 1454.4L1169.31 1456.4L1169.35 1455.2L1169.39 1459L1169.44 1458L1169.48 1462.5L1169.52 1459.7L1169.57 1465.2L1169.61 1462.4L1169.65 1467.1L1169.7 1465.5L1169.74 1470L1169.78 1467.5L1169.82 1471.5L1169.87 1469.4L1169.91 1474.8L1169.95 1471.8L1170 1477.3L1170.04 1474L1170.08 1478.2L1170.13 1476L1170.17 1479.5L1170.2 1479.4L1170.24 1474.4L1170.27 1477.4L1170.31 1473.4L1170.34 1475.9L1170.38 1470.8L1170.41 1472.4L1170.45 1468.3L1170.48 1470.5L1170.52 1466.4L1170.55 1467.5L1170.59 1463.7L1170.62 1463.6L1170.89 1467L1171.16 1465.1L1171.43 1468.9L1171.71 1466.9L1171.98 1469.3L1172.05 1472.1L1172.12 1469.9L1172.19 1475L1172.26 1473.1L1172.33 1476.6L1172.4 1475.6L1172.47 1480.4L1172.54 1478L1172.61 1481.3L1172.68 1479.8L1172.75 1484.6L1172.83 1481.6L1172.9 1486.1L1172.97 1485.3L1173.04 1488.8L1173.11 1488.9L1173.15 1485.9L1173.19 1488.1L1173.24 1483.8L1173.28 1486.5L1173.32 1480.9L1173.37 1484L1173.41 1478L1173.45 1480.6L1173.5 1475.6L1173.54 1478.4L1173.58 1474.8L1173.62 1476.9L1173.67 1472.3L1173.71 1472.9L1173.75 1469.5L1173.8 1471L1173.84 1465.9L1173.88 1469.6L1173.93 1464.5L1173.97 1466.6L1174.01 1463.6L1174.06 1462.5L1174.1 1468.4L1174.15 1465.4L1174.19 1470.3L1174.24 1468.9L1174.28 1472.3L1174.33 1470.4L1174.37 1475.4L1174.42 1472.6L1174.46 1478.5L1174.51 1474.8L1174.55 1479.7L1174.6 1478.9L1174.64 1483.5L1174.69 1482.3L1174.71 1479.3L1174.73 1481L1174.75 1476.6L1174.77 1478.6L1174.79 1475L1174.81 1476.4L1174.83 1472L1174.85 1474.5L1174.87 1470.4L1174.89 1472.2L1174.91 1466.9L1174.93 1469.2L1174.95 1464.4L1174.97 1467.4L1174.98 1463.1L1175 1464.3L1175.02 1459.4L1175.04 1462.3L1175.06 1457L1175.08 1458.9L1175.1 1454L1175.12 1457.5L1175.14 1454.1L1175.22 1454.1L1175.29 1458.1L1175.37 1455.3L1175.44 1460.2L1175.52 1458.7L1175.59 1464L1175.67 1460.3L1175.74 1465.1L1175.82 1463L1175.9 1467.8L1175.97 1465.6L1176.05 1468.8L1176.15 1472.2L1176.25 1470.2L1176.35 1473.5L1176.46 1472.3L1176.56 1476L1176.66 1475L1176.77 1478.1L1176.87 1476.7L1176.97 1480.9L1177.07 1479.6L1177.18 1481.7L1177.18 1482.4L1177.19 1476.8L1177.2 1480L1177.2 1475.5L1177.21 1477.8L1177.22 1473L1177.22 1474.4L1177.23 1470.5L1177.23 1471.7L1177.24 1467.7L1177.25 1469.6L1177.25 1465.9L1177.26 1468.7L1177.27 1462.8L1177.27 1466L1177.28 1460.6L1177.29 1463.3L1177.29 1458.1L1177.3 1461.5L1177.31 1456.6L1177.31 1456.5L1177.57 1457.7L1177.82 1453.2L1178.08 1453.6L1178.15 1456.1L1178.21 1453.8L1178.27 1459.2L1178.34 1456.2L1178.4 1462.2L1178.47 1459.2L1178.53 1463.5L1178.6 1462.8L1178.66 1466.6L1178.73 1464L1178.79 1468.6L1178.86 1467.7L1178.92 1470.6L1178.98 1471.1L1179.03 1468.7L1179.08 1470.7L1179.13 1466.6L1179.17 1467.4L1179.22 1463.7L1179.27 1465.8L1179.31 1459.9L1179.36 1462.1L1179.41 1459.1L1179.46 1461.3L1179.5 1455.1L1179.55 1457.4L1179.6 1453.8L1179.64 1455.7L1179.69 1451.4L1179.74 1453L1179.79 1448.6L1179.83 1450.3L1179.88 1447L1179.93 1447.5L1179.97 1444.3L1180.02 1445.1L1180.07 1441L1180.11 1441.7L1180.23 1445L1180.34 1442.9L1180.45 1447.6L1180.57 1444.5L1180.68 1449.3L1180.79 1447.4L1180.91 1451.4L1181.02 1451.5L1181.09 1450.3L1181.15 1455.8L1181.22 1454.4L1181.28 1457.6L1181.35 1455.7L1181.42 1460.5L1181.48 1458.2L1181.55 1462.7L1181.62 1460.5L1181.68 1466.2L1181.75 1464.3L1181.82 1468.3L1181.88 1466.6L1181.95 1471L1182.02 1467.9L1182.08 1473.6L1182.15 1472.7L1182.23 1470.1L1182.32 1471L1182.4 1466.7L1182.49 1469.2L1182.57 1465.1L1182.66 1465.9L1182.74 1461.6L1182.83 1462.1L1183.02 1462L1183.2 1457.9L1183.39 1459.9L1183.58 1456.2L1183.77 1457.9L1183.96 1455.2L1184.04 1454.6L1184.12 1459.7L1184.2 1458L1184.29 1462.2L1184.37 1460.2L1184.45 1463.9L1184.53 1461.9L1184.62 1467.1L1184.7 1464.4L1184.78 1470L1184.86 1468.8L1184.99 1466.4L1185.11 1467.6L1185.24 1463L1185.36 1465L1185.49 1461.5L1185.62 1462.5L1185.74 1457.9L1185.87 1461.1L1185.99 1457.5L1186.1 1454.3L1186.21 1457.7L1186.32 1451.7L1186.43 1454.1L1186.54 1450.2L1186.65 1452.5L1186.77 1448.3L1186.88 1449.9L1186.99 1446.8L1186.99 1447.1L1187 1450.1L1187.01 1448.8L1187.02 1452.8L1187.03 1450.5L1187.03 1456.6L1187.04 1453.8L1187.05 1457.8L1187.06 1456.9L1187.07 1460.9L1187.07 1458.7L1187.08 1463.1L1187.09 1460.8L1187.1 1465.8L1187.11 1463.2L1187.11 1467.6L1187.12 1467.8L1187.14 1468.1L1187.15 1471.7L1187.17 1469.8L1187.19 1473.9L1187.2 1471.9L1187.22 1476.2L1187.24 1474.9L1187.25 1479.1L1187.27 1476.6L1187.28 1482.1L1187.3 1479.6L1187.32 1483.9L1187.33 1481L1187.35 1484.7L1187.74 1487.6L1188.14 1483.7L1188.53 1487.1L1188.93 1486.6L1188.97 1483.7L1189 1486.1L1189.03 1481.7L1189.07 1482.6L1189.1 1478L1189.14 1481.8L1189.17 1477.1L1189.21 1478.5L1189.24 1473.8L1189.28 1475.8L1189.31 1472.4L1189.35 1474.2L1189.38 1470.9L1189.6 1467.5L1189.81 1470.1L1190.02 1466.4L1190.23 1467.6L1190.45 1464L1190.66 1466.3L1190.87 1462.5L1190.91 1462.9L1190.95 1466.3L1190.98 1464.1L1191.02 1468.5L1191.06 1467.8L1191.09 1470.9L1191.13 1470.2L1191.16 1474.2L1191.2 1471.4L1191.24 1476.1L1191.27 1475.1L1191.31 1479.6L1191.34 1477.2L1191.38 1481.3L1191.42 1481.2L1191.57 1478.9L1191.72 1479.8L1191.87 1474.8L1192.02 1477L1192.17 1473.5L1192.32 1473.5L1192.4 1476.8L1192.47 1473.5L1192.55 1479.6L1192.62 1476.8L1192.7 1482.2L1192.77 1479L1192.85 1483.5L1192.92 1481.8L1193 1486.7L1193.07 1483.8L1193.15 1488.1L1193.23 1488.4L1193.62 1488L1194.02 1492.3L1194.41 1489.6L1194.81 1491.3L1194.83 1492.2L1194.85 1487.3L1194.88 1488.6L1194.9 1484.8L1194.92 1486.4L1194.94 1480.9L1194.97 1483.2L1194.99 1478.6L1195.01 1481L1195.03 1478.3L1195.26 1478.5L1195.49 1483L1195.71 1480.7L1195.94 1484.5L1196.16 1484.7L1196.31 1481.9L1196.47 1484.5L1196.62 1478.7L1196.77 1481.7L1196.92 1477.9L1197.07 1477.5L1197.1 1480.9L1197.13 1478.1L1197.16 1483.7L1197.2 1480.1L1197.23 1485.2L1197.26 1482.8L1197.29 1486.4L1197.37 1487.4L1197.44 1482.6L1197.52 1484L1197.6 1479.8L1197.67 1481.4L1197.75 1477.2L1197.82 1478.4L1197.9 1475L1197.97 1474.9L1198.06 1476L1198.14 1470.7L1198.23 1472.9L1198.31 1467.2L1198.4 1470.4L1198.48 1465.7L1198.57 1468.1L1198.65 1464.3L1198.8 1460.8L1198.95 1464.4L1199.1 1458.4L1199.25 1461.4L1199.4 1455.7L1199.55 1456.7L1199.67 1456.7L1199.78 1452.2L1199.89 1454.3L1200.01 1449.2L1200.12 1451.3L1200.23 1447.2L1200.35 1449L1200.46 1446.3L1200.59 1442.9L1200.73 1445.4L1200.87 1440.4L1201 1443.9L1201.14 1440.4L1201.15 1436.8L1201.16 1438.9L1201.17 1434.1L1201.18 1437.5L1201.19 1432.1L1201.2 1434.8L1201.21 1430.7L1201.22 1432.7L1201.23 1427.3L1201.24 1429.5L1201.25 1425.2L1201.26 1427.6L1201.27 1421.9L1201.28 1425.2L1201.29 1420.4L1201.3 1421.7L1201.31 1417.9L1201.32 1418.8L1201.33 1415.2L1201.34 1416.2L1201.35 1411.8L1201.36 1412.8L1201.39 1415.3L1201.41 1414.4L1201.44 1417.5L1201.47 1415.7L1201.49 1420.2L1201.52 1418.7L1201.55 1423L1201.57 1420.5L1201.6 1426.5L1201.62 1423.9L1201.65 1428.4L1201.68 1425.3L1201.7 1430.6L1201.73 1427.8L1201.75 1433.6L1201.78 1431.4L1201.81 1436.3L1201.83 1433.4L1201.86 1437.4L1201.88 1435.8L1201.91 1441.2L1201.94 1438.5L1201.96 1443.1L1201.99 1441.1L1202.01 1446.3L1202.04 1445.1L1202.15 1444.3L1202.27 1448.6L1202.38 1447.2L1202.49 1451.3L1202.61 1448.5L1202.72 1452.2L1202.79 1452.9L1202.87 1448.5L1202.94 1450.6L1203.02 1446L1203.1 1447.4L1203.17 1444.2L1203.25 1443.9L1203.32 1448.8L1203.4 1446.4L1203.47 1450.2L1203.55 1448.8L1203.62 1454L1203.7 1450.8L1203.77 1455.7L1203.85 1454.3L1203.92 1458.9L1204 1455.8L1204.08 1459.3L1204.09 1459.3L1204.1 1454.5L1204.11 1458.2L1204.13 1452.9L1204.14 1454.7L1204.15 1449.9L1204.16 1453.3L1204.18 1448.4L1204.19 1449.7L1204.2 1445.8L1204.21 1448L1204.23 1443.6L1204.24 1445.3L1204.25 1440.6L1204.26 1443.1L1204.28 1438.8L1204.29 1441.2L1204.3 1437.4L1204.48 1433.6L1204.66 1436.8L1204.84 1431.6L1205.02 1433.7L1205.21 1431.4L1205.32 1430.2L1205.43 1435.6L1205.54 1432.9L1205.66 1438.7L1205.77 1436.1L1205.88 1441.2L1206 1438.8L1206.11 1441.2L1206.22 1443.4L1206.34 1442.1L1206.45 1447.6L1206.56 1444L1206.67 1450.3L1206.79 1449.1L1206.82 1448.6L1206.84 1454L1206.87 1451L1206.9 1455.1L1206.93 1453.3L1206.96 1458.7L1206.99 1456.2L1207.01 1460.9L1207.04 1459L1207.07 1462.7L1207.1 1461.2L1207.13 1465.7L1207.15 1463.5L1207.18 1467.4L1207.21 1466.9L1207.24 1468.9L1207.42 1469.2L1207.6 1464.6L1207.78 1467.8L1207.96 1463.3L1208.14 1463.4L1208.26 1465.9L1208.37 1464.2L1208.48 1468.3L1208.6 1466.6L1208.71 1472.2L1208.82 1469.9L1208.93 1474.1L1209.05 1473.6L1209.06 1470.2L1209.08 1473.2L1209.09 1467.7L1209.11 1470.6L1209.12 1465.9L1209.14 1468.2L1209.15 1462.2L1209.17 1464.3L1209.18 1459.6L1209.2 1462.4L1209.21 1458.6L1209.23 1459.2L1209.24 1454.8L1209.26 1457.8L1209.27 1454.5L1209.61 1452.4L1209.95 1452.3L1210.04 1452.7L1210.13 1447.8L1210.22 1451L1210.31 1445.7L1210.4 1445.8L1210.49 1446.7L1210.57 1442.1L1210.65 1443.2L1210.73 1439.7L1210.82 1441.1L1210.9 1436.4L1210.98 1438.4L1211.06 1434.8L1211.14 1435.8L1211.23 1432.4L1211.31 1432.1L1211.37 1432L1211.42 1428.3L1211.48 1430.1L1211.54 1426L1211.6 1427.5L1211.66 1423.1L1211.72 1425.9L1211.77 1420.5L1211.83 1423.4L1211.89 1418L1211.95 1419.6L1212.01 1415.3L1212.06 1417L1212.12 1414.7L1212.16 1414.8L1212.2 1418L1212.24 1416.2L1212.28 1422L1212.32 1419.2L1212.36 1423.3L1212.4 1421.6L1212.44 1425.7L1212.48 1423.5L1212.52 1428.2L1212.56 1426.9L1212.6 1431.5L1212.64 1428.5L1212.68 1432.3L1212.72 1430.4L1212.76 1436.1L1212.8 1433.7L1212.84 1438.3L1212.88 1435.1L1212.92 1440.3L1212.96 1438.4L1213 1442.5L1213.04 1440.6L1213.08 1445.6L1213.12 1444.8L1213.18 1441.5L1213.25 1444.9L1213.31 1440.1L1213.37 1441.4L1213.44 1436.5L1213.5 1439.8L1213.57 1434.5L1213.63 1437.2L1213.7 1432.6L1213.76 1435.3L1213.83 1429.8L1213.89 1431.9L1213.96 1428L1214.02 1427.9L1214.13 1427.7L1214.25 1423L1214.36 1426.4L1214.47 1422.1L1214.59 1423.1L1214.7 1418.8L1214.81 1420.9L1214.92 1416.5L1215.04 1419.1L1215.15 1415.4L1215.16 1415.3L1215.17 1419.7L1215.18 1416.7L1215.19 1422.3L1215.2 1420L1215.21 1424.3L1215.22 1422.6L1215.23 1427.2L1215.24 1424.4L1215.25 1429.1L1215.26 1427.6L1215.27 1431.8L1215.28 1430.1L1215.29 1435.2L1215.3 1432.3L1215.31 1436.5L1215.32 1435.1L1215.33 1440L1215.34 1437.9L1215.35 1442.2L1215.36 1440.6L1215.37 1443.8L1215.38 1443.9L1215.42 1444.3L1215.47 1448.6L1215.51 1446.5L1215.56 1450L1215.6 1449.1L1215.65 1452.5L1215.69 1450.3L1215.74 1455.8L1215.78 1452.5L1215.83 1456.1L1215.85 1459.8L1215.87 1456.8L1215.89 1462.3L1215.92 1460.1L1215.94 1464.7L1215.96 1461.9L1215.98 1465.8L1216 1463.8L1216.02 1469.5L1216.04 1466.9L1216.07 1470.6L1216.09 1468.5L1216.11 1474.2L1216.13 1471.4L1216.15 1477.1L1216.17 1474.9L1216.2 1477.8L1216.22 1477.2L1216.24 1480.2L1216.26 1478.6L1216.28 1481.9L1216.33 1482.6L1216.37 1478.4L1216.42 1479.2L1216.46 1475.8L1216.51 1477.6L1216.55 1472.4L1216.6 1475.7L1216.64 1470.5L1216.69 1473.3L1216.73 1467.9L1216.78 1469.7L1216.82 1465.7L1216.87 1467L1216.91 1462L1216.96 1465.9L1217 1460L1217.05 1461.9L1217.09 1458.4L1217.14 1459.4L1217.19 1457.1L1217.31 1456.9L1217.44 1461.6L1217.57 1459.8L1217.7 1463.7L1217.83 1461.1L1217.96 1465.2L1218.09 1465.6L1218.13 1462.8L1218.16 1465.4L1218.2 1460.1L1218.24 1462.3L1218.28 1457.1L1218.32 1460.1L1218.35 1455.6L1218.39 1457.3L1218.43 1452.1L1218.47 1455.7L1218.5 1449.7L1218.54 1450.9L1218.65 1451.5L1218.77 1447.5L1218.88 1448.4L1218.99 1444.7L1219.11 1447L1219.22 1443L1219.33 1444.8L1219.45 1439.2L1219.56 1442L1219.67 1439.1L1219.72 1439.5L1219.78 1443.8L1219.83 1441.3L1219.88 1446.1L1219.93 1443.6L1219.98 1448.8L1220.04 1446.4L1220.09 1451.7L1220.14 1448L1220.19 1454.2L1220.25 1451.1L1220.3 1455.6L1220.35 1455.5L1220.4 1455.3L1220.44 1459.2L1220.49 1456.7L1220.53 1462.6L1220.58 1459.3L1220.62 1465L1220.67 1461.3L1220.71 1467.1L1220.76 1465L1220.8 1469.7L1220.85 1467.4L1220.89 1471.8L1220.94 1470L1220.98 1474.6L1221.03 1471.8L1221.07 1476L1221.12 1473.4L1221.16 1478L1221.21 1475.8L1221.25 1479.5L1221.29 1480.4L1221.32 1475.9L1221.36 1477.9L1221.39 1472.6L1221.43 1475.6L1221.46 1470.1L1221.5 1472.3L1221.53 1467L1221.57 1469.1L1221.6 1464.7L1221.64 1466.7L1221.67 1463.2L1221.71 1463.2L1221.93 1465.2L1222.16 1462.9L1222.38 1467.9L1222.61 1465.2L1222.84 1469.6L1223.06 1469.4L1223.13 1468.5L1223.2 1473.9L1223.27 1472.2L1223.34 1476.1L1223.42 1473.5L1223.49 1478.1L1223.56 1476.2L1223.63 1480.7L1223.7 1479.2L1223.77 1484.3L1223.84 1480.6L1223.91 1487L1223.98 1484.1L1224.05 1488.7L1224.12 1485.9L1224.19 1489.4L1224.24 1490.3L1224.28 1485.3L1224.32 1488.1L1224.36 1483L1224.41 1485.8L1224.45 1480.5L1224.49 1481.9L1224.54 1477.6L1224.58 1479.6L1224.62 1475.3L1224.67 1477L1224.71 1472.3L1224.75 1475.5L1224.8 1470.4L1224.84 1472.3L1224.88 1468.2L1224.92 1470.4L1224.97 1466.5L1225.01 1468.7L1225.05 1464.4L1225.1 1464.1L1225.14 1466.9L1225.19 1465.6L1225.23 1470.1L1225.28 1466.5L1225.32 1471L1225.37 1469.7L1225.41 1474.2L1225.46 1471.7L1225.5 1477.1L1225.55 1474.8L1225.59 1479.9L1225.64 1477.5L1225.68 1480.9L1225.73 1478.8L1225.77 1482.3L1225.79 1482.1L1225.81 1478.8L1225.83 1480.4L1225.85 1476.1L1225.87 1477.4L1225.89 1472.6L1225.91 1475.5L1225.93 1470.5L1225.95 1472.7L1225.97 1467.8L1225.99 1470.3L1226.01 1465.4L1226.03 1468.6L1226.05 1462.9L1226.07 1466.5L1226.09 1461.1L1226.11 1463.6L1226.13 1458.3L1226.15 1461.1L1226.17 1457.3L1226.19 1459.5L1226.21 1453.6L1226.23 1454.7L1226.31 1457.9L1226.39 1455L1226.47 1459.5L1226.56 1457.9L1226.64 1463L1226.72 1459.4L1226.8 1465.6L1226.88 1463.3L1226.97 1467.6L1227.05 1465L1227.13 1468L1227.23 1470.7L1227.32 1469.3L1227.41 1472.6L1227.51 1471.1L1227.6 1475.6L1227.7 1473.8L1227.79 1477.7L1227.88 1475.6L1227.98 1480.8L1228.07 1477.9L1228.17 1482L1228.26 1482.1L1228.27 1478.5L1228.27 1481.2L1228.28 1476L1228.29 1479.9L1228.29 1475.1L1228.3 1476.7L1228.3 1471.2L1228.31 1474L1228.32 1469.5L1228.32 1471.4L1228.33 1468.1L1228.34 1468.8L1228.34 1465.5L1228.35 1466.6L1228.35 1462.1L1228.36 1464.7L1228.37 1459.2L1228.37 1462.5L1228.38 1457.8L1228.38 1460.6L1228.39 1454.9L1228.4 1455.6L1229.17 1454.9L1229.24 1457.9L1229.3 1455L1229.37 1460.6L1229.44 1458.4L1229.51 1462.9L1229.58 1460.9L1229.65 1466L1229.72 1463.5L1229.79 1468.5L1229.86 1466.3L1229.93 1469.2L1230 1467.8L1230.07 1470.8L1230.12 1470.8L1230.16 1466.7L1230.21 1468.2L1230.26 1463.7L1230.31 1466.7L1230.35 1461.5L1230.4 1464.8L1230.45 1458.5L1230.49 1461.9L1230.54 1456.6L1230.59 1458.2L1230.63 1455.3L1230.68 1456.6L1230.73 1451.2L1230.78 1453.9L1230.82 1449.5L1230.87 1450.9L1230.92 1447.4L1230.96 1450.1L1231.01 1444.6L1231.06 1447.5L1231.11 1443.2L1231.15 1444L1231.2 1441.6L1231.3 1441.7L1231.4 1446.4L1231.5 1444.4L1231.6 1449.1L1231.7 1446.6L1231.8 1451.4L1231.9 1448.6L1232 1452.9L1232.1 1452.8L1232.17 1451.5L1232.25 1456.8L1232.32 1454.4L1232.39 1458.6L1232.46 1456.7L1232.53 1462.8L1232.6 1460.4L1232.67 1464.8L1232.74 1462.6L1232.81 1466.2L1232.88 1464.9L1232.95 1469.6L1233.02 1466.3L1233.09 1472.7L1233.16 1468.7L1233.23 1472.5L1233.31 1473.2L1233.38 1468.2L1233.46 1470L1233.54 1465.6L1233.61 1468.3L1233.69 1463.9L1233.76 1466.5L1233.84 1461.6L1233.91 1461.7L1234.1 1461.6L1234.29 1458.3L1234.48 1459.2L1234.67 1455.1L1234.85 1458.1L1235.04 1454.6L1235.12 1454.8L1235.21 1458.7L1235.29 1456.4L1235.37 1461.2L1235.45 1459.1L1235.54 1463.6L1235.62 1462.2L1235.7 1465.1L1235.78 1463.9L1235.86 1467.8L1235.95 1467.8L1236.07 1464.4L1236.2 1466.5L1236.32 1461.7L1236.45 1464L1236.57 1460.5L1236.7 1461.9L1236.83 1457.4L1236.95 1459.1L1237.08 1456.4L1238 1506.7L1238.3 1540L1238.9 1574.2L1240.2 1580.5L1242.1 1585L1242.1 1585.3L1245.3 1585.6L1250.3 1584.3L1256.6 1583.7L1257.7 1583.5L1257.9 1578L1258.1 1572.5L1258.4 1571.2L1258.7 1573L1259 1575.5L1259.6 1577.6L1260.5 1578.6L1262 1579.2L1264 1579.8L1266 1580.6L1268 1581.5L1269.1 1581.5L1269.3 1576.1L1269.5 1581.5L1276.1 1581.5L1276.3 1575.4L1276.5 1581.5L1290 1581.5L1290.2 1584.6L1290.4 1581.5L1292.5 1581.5L1292.7 1573.2L1292.9 1581.5L1299.5 1581.5L1299.7 1584.3L1299.9 1581.5L1303.5 1581.5L1306 1580.8L1319.7 1580.8L1319.9 1584.1L1320.1 1580.8L1349.1 1580.8L1349.3 1574.2L1349.5 1580.8L1353.3 1580.8L1353.5 1576.5L1353.7 1580.8L1415 1580.8L1417.4 1581.5L1428.2 1581.5L1428.4 1571.6L1428.6 1581.5L1431.8 1581.5L1432 1583.7L1432.2 1581.5L1433 1581.5L1433.2 1578L1433.4 1581.5L1478 1581.5L1479.4 1582.8L1485.8 1582.8L1487 1582L1489.1 1582L1489.3 1577.3L1489.5 1582L1493.4 1582L1493.85 1490.3L1493.85 1472.6L1494.03 1475L1494.21 1469L1494.39 1471.4L1494.58 1466.4L1494.76 1466.8L1495.21 1467.1L1495.66 1465.3L1495.69 1462.7L1495.71 1464L1495.74 1459.4L1495.76 1462.2L1495.79 1456.4L1495.81 1459.3L1495.84 1453.3L1495.86 1457.2L1495.89 1453.5L1496 1448.7L1496.11 1452.5L1496.22 1447.3L1496.33 1450.7L1496.44 1445L1496.55 1449L1496.66 1442.9L1496.77 1446.5L1496.88 1441.9L1497.03 1441L1497.18 1446.1L1497.33 1442.7L1497.48 1448.9L1497.62 1445.8L1497.77 1450L1497.92 1449.9L1497.9 1447.6L1497.87 1454.4L1497.85 1452.3L1497.82 1457.7L1497.8 1453.8L1497.77 1459.4L1497.74 1456.8L1497.72 1463.2L1497.69 1461.2L1497.86 1458.1L1498.03 1461L1498.2 1454.2L1498.37 1458.5L1498.54 1453.2L1498.71 1455.6L1498.88 1450.2L1499.05 1451.8L1499.12 1455.7L1499.19 1452L1499.26 1457.5L1499.33 1454.9L1499.4 1460.8L1499.47 1456.7L1499.54 1463.3L1499.61 1459.3L1499.68 1465.5L1499.75 1462.6L1499.82 1466.6L1499.89 1462.7L1499.96 1467.4L1500.11 1468.8L1500.26 1461.9L1500.41 1465.8L1500.56 1459.8L1500.71 1462.4L1500.86 1459.5L1500.97 1459.2L1501.09 1464.6L1501.2 1460.3L1501.31 1466.1L1501.42 1462.9L1501.54 1468.2L1501.65 1465.4L1501.76 1469.3L1501.8 1469.6L1501.85 1464.5L1501.89 1467.5L1501.93 1461.9L1501.97 1464.6L1502.01 1459.7L1502.05 1463.4L1502.09 1458.1L1502.13 1460.2L1502.17 1454.4L1502.22 1455.9L1502.31 1459.6L1502.41 1455.7L1502.51 1462.6L1502.6 1458.2L1502.7 1463.5L1502.8 1460.9L1502.89 1464.3L1502.98 1466.2L1503.06 1459.3L1503.15 1463.6L1503.23 1457.4L1503.32 1460.4L1503.4 1453.4L1503.49 1458.9L1503.57 1454.5L1503.66 1453L1503.74 1458.2L1503.83 1455.5L1503.91 1460.4L1504 1457L1504.08 1465.2L1504.17 1459.9L1504.25 1464L1504.31 1464.5L1504.37 1458.3L1504.43 1461.7L1504.5 1455.7L1504.56 1460L1504.62 1455.2L1504.68 1458.4L1504.74 1451.6L1504.8 1455.6L1504.87 1448.4L1504.93 1449.9L1504.97 1451.1L1505.02 1444.1L1505.06 1447.7L1505.11 1441.5L1505.15 1445.6L1505.2 1441.2L1505.24 1443L1505.29 1438.6L1505.33 1439.9L1505.38 1437.4L1505.44 1435.9L1505.51 1441.2L1505.57 1439.5L1505.64 1444L1505.7 1441.6L1505.77 1448L1505.83 1445.8L1505.88 1441.1L1505.93 1446.5L1505.98 1438.3L1506.03 1442.7L1506.08 1436.1L1506.13 1439.7L1506.18 1433.2L1506.23 1438.4L1506.28 1433.9L1506.4 1429.6L1506.51 1432.8L1506.62 1428.5L1506.74 1428.5L1507.08 1430.4L1507.41 1425.5L1507.44 1421.8L1507.47 1425.7L1507.5 1418.6L1507.52 1422.1L1507.55 1416.6L1507.58 1420.5L1507.6 1414L1507.63 1418.1L1507.66 1413.1L1507.69 1417L1507.71 1410.5L1507.74 1414L1507.77 1406.7L1507.79 1410.4L1507.82 1404.6L1507.85 1408.3L1507.88 1403.4L1507.9 1405.5L1507.93 1399.2L1507.96 1403.5L1507.98 1397.9L1508.01 1401.4L1508.04 1396.7L1508.07 1399.6L1508.09 1395.4L1508.12 1393.7L1508.15 1401.2L1508.17 1397.1L1508.2 1401.9L1508.23 1399.6L1508.26 1405.7L1508.28 1401.2L1508.31 1407.3L1508.34 1404L1508.36 1409.1L1508.39 1405.4L1508.42 1412.3L1508.45 1408.9L1508.47 1415.5L1508.5 1412.1L1508.53 1417.8L1508.55 1414.1L1508.58 1420.4L1508.61 1417.2L1508.64 1421.5L1508.66 1418.3L1508.69 1424.5L1508.72 1421.4L1508.74 1427.1L1508.77 1425.8L1508.91 1425.5L1509.04 1430.6L1509.18 1428.6L1509.31 1434.1L1509.45 1432.3L1509.54 1429.3L1509.63 1432.9L1509.72 1425.9L1509.81 1429.7L1509.9 1425.8L1509.98 1424.4L1510.07 1429.6L1510.15 1426.5L1510.23 1432.6L1510.31 1428.7L1510.39 1436.3L1510.48 1431.7L1510.56 1438.8L1510.64 1434.8L1510.72 1441L1510.81 1439.4L1510.82 1434.7L1510.83 1438.5L1510.84 1434.4L1510.86 1436.7L1510.87 1431L1510.88 1433.6L1510.9 1429.3L1510.91 1433L1510.92 1426.4L1510.94 1428.7L1510.95 1424.5L1510.96 1427.4L1510.98 1422L1510.99 1424.7L1511 1418.7L1511.02 1422.1L1511.03 1418.7L1511.18 1415.2L1511.33 1419.6L1511.48 1414.1L1511.63 1417.5L1511.78 1411.3L1511.94 1411.7L1512.04 1414.1L1512.14 1411.2L1512.24 1418L1512.34 1414.3L1512.44 1419.6L1512.54 1416.2L1512.64 1422.3L1512.74 1418.8L1512.84 1423L1512.95 1425.8L1513.07 1422.8L1513.18 1429.1L1513.29 1425.6L1513.4 1431L1513.52 1429.9L1513.55 1429.9L1513.58 1435.1L1513.61 1430.8L1513.65 1436.3L1513.68 1433.6L1513.71 1440.3L1513.74 1437.2L1513.78 1443L1513.81 1437.8L1513.84 1443.5L1513.87 1441.8L1513.91 1446.1L1513.94 1444.3L1513.97 1447.3L1514.2 1447.3L1514.42 1442.4L1514.65 1445.2L1514.87 1442.2L1514.97 1441.6L1515.07 1446.9L1515.18 1443.8L1515.28 1450.1L1515.38 1445.4L1515.48 1450.8L1515.58 1449L1515.68 1453L1515.78 1453.1L1515.79 1449.9L1515.81 1452L1515.83 1446.5L1515.84 1451.2L1515.86 1443.3L1515.87 1447.2L1515.89 1443.2L1515.91 1446.1L1515.92 1439.8L1515.94 1444.1L1515.96 1437.3L1515.97 1440L1515.99 1435.6L1516 1435.6L1516.34 1438L1516.68 1433.4L1516.76 1429.8L1516.83 1433.2L1516.91 1427.7L1516.98 1431.7L1517.06 1424.3L1517.13 1426.3L1517.22 1427.4L1517.32 1422.4L1517.41 1424.8L1517.5 1418.2L1517.59 1422.5L1517.68 1416.4L1517.77 1420.5L1517.86 1414.6L1517.95 1418.2L1518.04 1414.5L1518.1 1411.6L1518.15 1414.5L1518.21 1407.6L1518.27 1410.9L1518.33 1406.4L1518.39 1410.5L1518.45 1402.5L1518.5 1405.9L1518.56 1400.9L1518.62 1405.1L1518.68 1398L1518.74 1402.2L1518.79 1397.4L1518.85 1397.6L1518.9 1400.6L1518.94 1397.2L1518.99 1404.2L1519.03 1400.9L1519.08 1406.5L1519.12 1402.3L1519.17 1409L1519.21 1406.4L1519.26 1411L1519.3 1408.1L1519.35 1413.8L1519.39 1410.6L1519.44 1415.1L1519.48 1412.2L1519.53 1418L1519.58 1414.4L1519.62 1420.6L1519.67 1417.5L1519.71 1424.3L1519.76 1421.1L1519.8 1426.6L1519.85 1424.9L1519.92 1422.5L1519.99 1426L1520.06 1420.2L1520.12 1423L1520.19 1416.9L1520.26 1419.2L1520.33 1414.4L1520.4 1417.6L1520.47 1412L1520.54 1414.3L1520.61 1409.3L1520.68 1412.3L1520.75 1409.3L1520.86 1404.6L1520.98 1409L1521.09 1403.6L1521.2 1406.2L1521.32 1399.9L1521.43 1404.1L1521.54 1398.3L1521.65 1403L1521.77 1396.6L1521.88 1397.5L1521.89 1401.7L1521.9 1398.1L1521.91 1402.5L1521.92 1401.2L1521.93 1405.8L1521.94 1401.5L1521.95 1407.6L1521.96 1405L1521.97 1411.4L1521.98 1407.8L1521.99 1412.3L1522 1409.6L1522.01 1415.4L1522.02 1411L1522.04 1419L1522.05 1415.2L1522.06 1420.6L1522.07 1417.2L1522.08 1421.7L1522.09 1419.5L1522.1 1426.3L1522.11 1424.1L1522.15 1423.5L1522.2 1429.2L1522.24 1425L1522.29 1430.3L1522.33 1426.9L1522.38 1432.9L1522.42 1430.9L1522.47 1436.8L1522.51 1434L1522.56 1436.4L1522.58 1439.6L1522.6 1437.4L1522.63 1442.3L1522.65 1440.1L1522.67 1443.9L1522.69 1442L1522.72 1446.2L1522.74 1444.8L1522.76 1448.9L1522.79 1446.1L1522.81 1451.1L1522.83 1447.8L1522.85 1454.3L1522.88 1451.6L1522.9 1456.2L1522.92 1452.6L1522.94 1458.2L1522.97 1455.2L1522.99 1460.7L1523.01 1460.6L1523.06 1455.9L1523.11 1460.3L1523.15 1454.4L1523.2 1459L1523.25 1453.2L1523.3 1454.6L1523.34 1449.3L1523.39 1453.5L1523.44 1446.8L1523.49 1450.3L1523.53 1444.9L1523.58 1447.6L1523.63 1442.7L1523.68 1445.4L1523.73 1439.9L1523.77 1443L1523.82 1438.2L1523.87 1441.5L1523.92 1437.6L1524.04 1437.5L1524.17 1443.1L1524.3 1438.9L1524.43 1444.1L1524.56 1442.3L1524.69 1447.2L1524.82 1446.1L1524.86 1442.5L1524.89 1446.5L1524.93 1440.3L1524.97 1443.2L1525.01 1436.5L1525.05 1440.3L1525.08 1433.7L1525.12 1439.4L1525.16 1431.2L1525.2 1437L1525.23 1430.5L1525.27 1431L1525.4 1433L1525.52 1426L1525.65 1429L1525.77 1422.7L1525.9 1427.8L1526.03 1420.7L1526.15 1425.2L1526.28 1420.2L1526.4 1420.3L1526.46 1424.8L1526.51 1421.3L1526.57 1425.8L1526.63 1422.7L1526.68 1428.2L1526.74 1425.7L1526.8 1432.1L1526.85 1429.1L1526.91 1434.5L1526.97 1431.6L1527.02 1436.5L1527.08 1435.5L1527.13 1434L1527.18 1440.8L1527.22 1438L1527.27 1442L1527.32 1438.1L1527.37 1444.9L1527.41 1441.9L1527.46 1447.3L1527.51 1443.7L1527.56 1450.7L1527.6 1446.3L1527.65 1452.3L1527.7 1448.9L1527.75 1455L1527.79 1452.3L1527.84 1458.6L1527.89 1452.8L1527.94 1460.6L1527.98 1458.8L1528.02 1454L1528.05 1458.6L1528.09 1451.9L1528.12 1455.6L1528.16 1449.7L1528.19 1454.3L1528.23 1446.8L1528.26 1452.2L1528.3 1444.5L1528.33 1448.4L1528.37 1442.3L1528.4 1446.4L1528.44 1443L1528.66 1442.2L1528.89 1447.3L1529.11 1443.3L1529.34 1450.8L1529.57 1445.5L1529.79 1449.9L1529.87 1453.9L1529.94 1450.9L1530.02 1455.1L1530.09 1452.4L1530.17 1457.8L1530.24 1455.5L1530.32 1460L1530.4 1458.5L1530.47 1464.1L1530.55 1460.8L1530.62 1466.9L1530.7 1463L1530.77 1469.4L1530.85 1465.6L1530.92 1468.7L1530.97 1469.3L1531.01 1464.2L1531.06 1466.2L1531.1 1461.7L1531.15 1464.8L1531.19 1460.4L1531.24 1463.6L1531.28 1457.1L1531.33 1459L1531.37 1453.2L1531.42 1457.2L1531.47 1452.6L1531.51 1454.3L1531.56 1450.6L1531.6 1453.6L1531.65 1447L1531.69 1450.7L1531.74 1445.4L1531.78 1447.7L1531.83 1444.7L1531.88 1442.5L1531.93 1449.2L1531.98 1444.9L1532.04 1453L1532.09 1449.6L1532.14 1455.4L1532.19 1452.3L1532.24 1457.6L1532.3 1452.8L1532.35 1460L1532.4 1455.9L1532.45 1462.8L1532.5 1460.9L1532.53 1458.2L1532.55 1460.8L1532.57 1455.4L1532.59 1458L1532.61 1453.1L1532.63 1456.3L1532.66 1449.6L1532.68 1454L1532.7 1447L1532.72 1451L1532.74 1443.8L1532.76 1449L1532.78 1442.2L1532.81 1445.3L1532.83 1438.8L1532.85 1442.9L1532.87 1438.3L1532.89 1440.4L1532.91 1434.3L1532.94 1439.4L1532.96 1434.7L1533.04 1433.2L1533.12 1439.9L1533.2 1434.9L1533.29 1442.6L1533.37 1438.5L1533.45 1444.2L1533.53 1440.2L1533.61 1446.2L1533.7 1444.2L1533.78 1449.4L1533.86 1448L1533.96 1446.1L1534.07 1452.1L1534.17 1448.8L1534.27 1456.2L1534.37 1452.7L1534.48 1456.7L1534.58 1454.2L1534.68 1459.7L1534.79 1455.5L1534.89 1463.8L1534.99 1461.4L1535 1458L1535 1462.1L1535.01 1455.1L1535.02 1458.1L1535.02 1451.9L1535.03 1455.7L1535.04 1451.7L1535.04 1454L1535.05 1449.5L1535.06 1451.7L1535.06 1446.1L1535.07 1450.5L1535.08 1443.7L1535.08 1447.8L1535.09 1440.3L1535.09 1444.7L1535.1 1439.3L1535.11 1441.6L1535.11 1436.3L1535.12 1439.5L1535.13 1436.2L1535.51 1432.5L1535.9 1434.3L1535.96 1437.9L1536.02 1434.8L1536.09 1440.5L1536.15 1435.5L1536.22 1441.9L1536.28 1439.6L1536.35 1443.9L1536.41 1442.6L1536.48 1446.4L1536.54 1444.2L1536.61 1450.8L1536.67 1445.9L1536.74 1453.5L1536.8 1451.2L1536.85 1446.8L1536.89 1451.3L1536.94 1445L1536.99 1447.5L1537.04 1443.1L1537.08 1445.7L1537.13 1440.1L1537.18 1442.8L1537.22 1437.9L1537.27 1441.2L1537.32 1435.7L1537.36 1438.9L1537.41 1434.3L1537.46 1437.3L1537.51 1430.1L1537.55 1434.6L1537.6 1429.4L1537.65 1432.2L1537.69 1425.1L1537.74 1430.8L1537.79 1423L1537.84 1426L1537.88 1420.3L1537.93 1422.4L1538.04 1426.4L1538.16 1423.1L1538.27 1429.5L1538.38 1424.1L1538.49 1431.8L1538.61 1428L1538.72 1433.5L1538.83 1432.2L1538.9 1431.4L1538.98 1436.5L1539.05 1432.9L1539.12 1439.8L1539.19 1436.5L1539.26 1442.1L1539.33 1437.5L1539.4 1444.7L1539.47 1440L1539.54 1447.2L1539.61 1442.3L1539.68 1448.3L1539.75 1446.2L1539.82 1452.1L1539.89 1448L1539.96 1452.1L1540.05 1454.3L1540.13 1446.8L1540.22 1450.5L1540.3 1444.2L1540.39 1447.9L1540.47 1441.3L1540.56 1446.3L1540.64 1441.5L1540.87 1439.1L1541.09 1440.9L1541.32 1434.4L1541.55 1437.6L1541.77 1435.1L1541.86 1433.3L1541.95 1438.8L1542.04 1436.2L1542.13 1443.3L1542.22 1439.8L1542.32 1444.8L1542.41 1442.4L1542.5 1448.2L1542.59 1444.2L1542.68 1447.8L1542.8 1449.3L1542.93 1443.6L1543.05 1446.9L1543.18 1439.7L1543.3 1445L1543.43 1437.3L1543.56 1441.3L1543.68 1436.1L1543.81 1437.3L1543.93 1438.1L1544.06 1432.9L1544.18 1436.8L1544.3 1430.9L1544.43 1433.7L1544.55 1427L1544.68 1432.3L1544.8 1427.6L1544.81 1427.8L1544.82 1431.9L1544.83 1429.1L1544.84 1436.2L1544.84 1432.5L1544.85 1438.5L1544.86 1434.5L1544.87 1440.3L1544.88 1435.7L1544.89 1441.6L1544.89 1439.7L1544.9 1444.4L1544.91 1442.8L1544.92 1447.3L1544.93 1443.9L1544.94 1448L1544.96 1451.8L1544.97 1449.1L1544.99 1454.9L1545.01 1450.7L1545.03 1455.7L1545.05 1452.4L1545.07 1459.9L1545.09 1456.4L1545.11 1462.7L1545.13 1457.4L1545.14 1463.5L1545.16 1463L1545.56 1462.6L1545.95 1467.6L1546.35 1461.9L1546.75 1465.7L1546.79 1465.7L1546.83 1460.1L1546.87 1464.8L1546.91 1457.8L1546.95 1462.4L1546.99 1454.4L1547.03 1458.5L1547.07 1452.2L1547.12 1457.4L1547.16 1450.9L1547.2 1451.5L1547.41 1453L1547.62 1446.2L1547.84 1451L1548.05 1444.1L1548.26 1447.1L1548.48 1442.4L1548.69 1442.9L1548.73 1446.6L1548.77 1444L1548.81 1450L1548.84 1444.7L1548.88 1451L1548.92 1447.7L1548.96 1454.6L1549 1451.8L1549.04 1457.5L1549.08 1452.7L1549.12 1458.8L1549.15 1456.9L1549.19 1461.3L1549.23 1460.8L1549.36 1456.6L1549.49 1460.8L1549.62 1454.2L1549.75 1457.7L1549.88 1453.7L1550.01 1455.9L1550.14 1452.7L1550.21 1450.7L1550.28 1456.6L1550.34 1455.1L1550.41 1460.6L1550.48 1457.5L1550.55 1462.8L1550.62 1459.9L1550.69 1464.1L1550.76 1460.9L1550.83 1468.1L1550.9 1463.9L1550.97 1469.5L1551.04 1468.5L1551.44 1467.9L1551.83 1471.6L1552.23 1468.5L1552.62 1470.8L1552.64 1472.6L1552.66 1465.3L1552.68 1470L1552.7 1463.3L1552.73 1467.2L1552.75 1461.7L1552.77 1463.9L1552.79 1458.8L1552.81 1461.1L1552.83 1455.1L1552.85 1456.8L1553.04 1459.5L1553.23 1457.2L1553.41 1462L1553.6 1458.1L1553.79 1465.2L1553.98 1463.7L1554.13 1460.2L1554.28 1463.2L1554.43 1456.5L1554.58 1462.1L1554.73 1455.2L1554.88 1456.2L1554.91 1459.9L1554.94 1455.4L1554.97 1461.7L1555 1459.5L1555.02 1463.8L1555.05 1461.4L1555.08 1468L1555.11 1466.2L1555.18 1463.5L1555.26 1465.9L1555.33 1458.9L1555.41 1463.5L1555.49 1457.9L1555.56 1461.8L1555.64 1454L1555.71 1458.1L1555.79 1454.8L1555.87 1452.2L1555.96 1455L1556.04 1448.1L1556.13 1453.2L1556.21 1445.8L1556.3 1449.1L1556.38 1443.6L1556.47 1444.7L1556.62 1445.3L1556.77 1440.1L1556.92 1443.3L1557.07 1436.4L1557.22 1442L1557.37 1437.4L1557.48 1432.7L1557.6 1437.1L1557.71 1430L1557.82 1433.6L1557.93 1427.5L1558.05 1432.3L1558.16 1425L1558.27 1427L1558.41 1427.9L1558.54 1421L1558.68 1424.5L1558.82 1418.9L1558.95 1420.9L1558.96 1422.8L1558.97 1416.4L1558.98 1420.4L1558.99 1414.4L1559.01 1417.8L1559.02 1411.3L1559.03 1414.4L1559.04 1409.5L1559.05 1413L1559.06 1405.7L1559.07 1408.7L1559.08 1402.6L1559.09 1406.6L1559.1 1401.7L1559.11 1404.6L1559.12 1398.7L1559.13 1403.4L1559.15 1395.3L1559.16 1400.3L1559.17 1394.3L1559.18 1395.1L1559.2 1397.7L1559.23 1396.3L1559.26 1401.1L1559.29 1397.4L1559.31 1403.3L1559.34 1398.8L1559.37 1405.7L1559.39 1402.8L1559.42 1408.1L1559.45 1405.6L1559.48 1411.8L1559.5 1407L1559.53 1413.2L1559.56 1409.8L1559.58 1414.9L1559.61 1412.5L1559.64 1417.9L1559.67 1414.6L1559.69 1421.5L1559.72 1416.7L1559.75 1422L1559.77 1420.4L1559.8 1424.3L1559.83 1422.1L1559.86 1425.2L1559.97 1429.5L1560.08 1424.3L1560.19 1430.5L1560.31 1426.9L1560.42 1433.4L1560.53 1432.4L1560.62 1428.6L1560.71 1432.2L1560.81 1427.3L1560.9 1428.4L1560.99 1425.9L1561.07 1424.4L1561.15 1431.2L1561.23 1427.7L1561.31 1434.4L1561.4 1429.1L1561.48 1435.4L1561.56 1433.6L1561.64 1438.6L1561.73 1434.7L1561.81 1440.3L1561.89 1439.9L1561.9 1437.5L1561.92 1439.8L1561.93 1435.1L1561.94 1438L1561.95 1431.2L1561.97 1434.4L1561.98 1429.2L1561.99 1431.9L1562 1427.4L1562.02 1429.3L1562.03 1423.4L1562.04 1427.5L1562.05 1421.2L1562.07 1424.8L1562.08 1418.6L1562.09 1423L1562.1 1416.5L1562.12 1418L1562.3 1418.8L1562.48 1413L1562.66 1415.7L1562.84 1409.4L1563.02 1411.6L1563.12 1415.6L1563.22 1411.7L1563.32 1418L1563.42 1415.2L1563.52 1419.7L1563.62 1417.3L1563.72 1423.4L1563.82 1420.3L1563.92 1422.7L1564.04 1426.1L1564.15 1421.9L1564.26 1429.5L1564.38 1424.8L1564.49 1430.8L1564.6 1430.2L1564.63 1429.7L1564.66 1435.5L1564.69 1432L1564.72 1437.9L1564.75 1434.2L1564.78 1440.4L1564.81 1436.1L1564.84 1442.9L1564.87 1437.4L1564.9 1444.2L1564.93 1439.8L1564.96 1445.7L1564.99 1442.5L1565.02 1448.2L1565.05 1448.2L1565.28 1444.5L1565.51 1447.7L1565.73 1441.3L1565.96 1443L1566.07 1446.1L1566.18 1443.9L1566.3 1449.8L1566.41 1445.6L1566.52 1452.3L1566.64 1448.2L1566.75 1453L1566.86 1453.1L1566.88 1448.8L1566.89 1452.2L1566.91 1447.1L1566.92 1449.3L1566.94 1445.2L1566.95 1448.5L1566.97 1441.5L1566.98 1446L1567 1439.9L1567.01 1443.8L1567.03 1436.9L1567.04 1440L1567.06 1434.8L1567.07 1438.6L1567.09 1434.8L1567.43 1430.8L1567.77 1432.6L1567.86 1433L1567.95 1428.3L1568.04 1430.9L1568.13 1426.5L1568.22 1426.6L1568.3 1427.3L1568.38 1421.2L1568.47 1425.5L1568.55 1420.2L1568.63 1423.5L1568.71 1417.9L1568.79 1421.1L1568.88 1415.5L1568.96 1417L1569.04 1412.8L1569.12 1413.3L1569.19 1414.4L1569.26 1409L1569.33 1412.7L1569.39 1404.7L1569.46 1408.7L1569.53 1402.6L1569.6 1407.1L1569.67 1400.5L1569.73 1403.5L1569.8 1397L1569.87 1402.7L1569.94 1397.9L1569.98 1398L1570.02 1402.2L1570.07 1399.6L1570.11 1404.3L1570.15 1401.7L1570.2 1408.5L1570.24 1405.2L1570.28 1410.7L1570.33 1406.9L1570.37 1411L1570.41 1407.8L1570.46 1414.1L1570.5 1411.9L1570.54 1416.1L1570.59 1413.9L1570.63 1418.5L1570.67 1416.8L1570.72 1421.2L1570.76 1418.2L1570.8 1424.1L1570.85 1421.3L1570.89 1426.7L1570.93 1425.5L1571 1421.3L1571.07 1426L1571.14 1419.9L1571.21 1424L1571.28 1416.4L1571.35 1420.7L1571.42 1414.7L1571.49 1417.7L1571.56 1413.1L1571.63 1416.7L1571.7 1409.5L1571.77 1412.2L1571.84 1409.7L1571.95 1405.1L1572.06 1410.6L1572.17 1405L1572.29 1407.8L1572.4 1402.1L1572.51 1405L1572.63 1398.3L1572.74 1402.2L1572.85 1396.8L1572.97 1397.9L1572.98 1401.9L1572.99 1398.8L1573 1404.3L1573.01 1400.7L1573.02 1407.7L1573.03 1403.8L1573.04 1409.5L1573.05 1406.7L1573.06 1410.9L1573.07 1409L1573.08 1413.1L1573.09 1410.4L1573.1 1415.6L1573.11 1412.2L1573.12 1417.9L1573.13 1415.2L1573.14 1422.3L1573.15 1418.9L1573.16 1423.2L1573.17 1419.8L1573.18 1426.3L1573.19 1425.3L1573.24 1423.1L1573.29 1429.7L1573.34 1427L1573.39 1433.8L1573.44 1429.7L1573.49 1436.4L1573.54 1430.8L1573.59 1437L1573.64 1436.7L1573.67 1435.5L1573.69 1442.6L1573.72 1439.1L1573.74 1444.9L1573.76 1439.9L1573.79 1447.2L1573.81 1442.9L1573.83 1448.1L1573.86 1444.5L1573.88 1450.6L1573.91 1447.4L1573.93 1454.7L1573.95 1451.1L1573.98 1457.1L1574 1453.4L1574.02 1459.8L1574.05 1456.9L1574.07 1462.7L1574.1 1460.6L1574.14 1457.3L1574.19 1461.3L1574.23 1454.7L1574.28 1458.9L1574.32 1452.7L1574.37 1455.8L1574.41 1451L1574.46 1453.3L1574.5 1448.5L1574.55 1451.8L1574.59 1444.5L1574.64 1448.3L1574.68 1441.4L1574.73 1447.2L1574.77 1439L1574.82 1442.6L1574.86 1437.2L1574.91 1441.8L1574.96 1435.1L1575 1436.5L1575.11 1438.8L1575.23 1435.4L1575.34 1442.2L1575.45 1438.6L1575.57 1445.5L1575.68 1441.7L1575.79 1445.8L1575.9 1445.8L1575.95 1441.1L1575.99 1445L1576.03 1440.8L1576.07 1442.1L1576.11 1435.8L1576.15 1441L1576.19 1435.2L1576.23 1436.9L1576.27 1430.8L1576.32 1435.7L1576.36 1431.6L1576.47 1427.9L1576.58 1430.6L1576.7 1425.9L1576.81 1430.3L1576.92 1424.6L1577.03 1426.6L1577.15 1422L1577.26 1425.7L1577.37 1419.5L1577.49 1419.7L1577.54 1424.5L1577.6 1419L1577.66 1426.4L1577.71 1423.6L1577.77 1428.9L1577.83 1425L1577.88 1430.9L1577.94 1428.4L1578 1433.5L1578.05 1429.3L1578.11 1435.1L1578.16 1434.9L1578.21 1432.9L1578.26 1439.5L1578.31 1436.8L1578.36 1441.5L1578.4 1438.7L1578.45 1444.9L1578.5 1440.9L1578.55 1447.9L1578.59 1443.4L1578.64 1449.4L1578.69 1444.7L1578.74 1451.1L1578.78 1449.5L1578.83 1453.8L1578.88 1451.2L1578.93 1455.7L1578.97 1453.4L1579.02 1457.9L1579.07 1457.9L1579.11 1453.2L1579.14 1457.7L1579.18 1450.8L1579.22 1455.7L1579.26 1448.7L1579.3 1453.3L1579.33 1447.3L1579.37 1450.8L1579.41 1445L1579.45 1447.8L1579.48 1441.5L1579.52 1442.8L1579.75 1447L1579.97 1443.6L1580.2 1448.1L1580.43 1444.1L1580.65 1451.5L1580.88 1449.5L1580.95 1447.2L1581.02 1453.4L1581.09 1451.6L1581.16 1455.8L1581.23 1452.7L1581.3 1459.8L1581.37 1455.4L1581.44 1462.4L1581.51 1458.1L1581.58 1464.2L1581.65 1459.6L1581.73 1466.9L1581.8 1462.7L1581.87 1469.2L1581.94 1465.5L1582.01 1469.1L1582.05 1470.8L1582.1 1464.1L1582.14 1466.8L1582.19 1462L1582.23 1465.1L1582.28 1459.6L1582.32 1463L1582.37 1457.3L1582.41 1460.1L1582.46 1454.7L1582.5 1457.6L1582.55 1450.9L1582.6 1454.5L1582.64 1450.8L1582.69 1453.6L1582.73 1447.4L1582.78 1450.5L1582.82 1444.5L1582.87 1447.8L1582.91 1444.6L1582.96 1444.1L1583.01 1448.1L1583.06 1444.9L1583.11 1452.8L1583.15 1448.8L1583.2 1454L1583.25 1451.1L1583.3 1455.4L1583.35 1452L1583.4 1459.7L1583.44 1456.1L1583.49 1460.7L1583.54 1457.3L1583.59 1461.3L1583.61 1463.2L1583.63 1456.6L1583.65 1459.6L1583.68 1454.6L1583.7 1458.2L1583.72 1450.6L1583.74 1455.8L1583.76 1449.9L1583.78 1452.6L1583.81 1445.2L1583.83 1450.4L1583.85 1444.1L1583.87 1446.5L1583.89 1442.6L1583.91 1445.5L1583.93 1440L1583.96 1443.2L1583.98 1436L1584 1439.8L1584.02 1433L1584.04 1435L1584.13 1439.7L1584.22 1435L1584.31 1440.2L1584.4 1437.6L1584.49 1443.6L1584.58 1441L1584.67 1447.4L1584.77 1442.4L1584.86 1448L1584.95 1447.8L1585.05 1447.4L1585.15 1452.2L1585.25 1449L1585.36 1454.6L1585.46 1451.7L1585.56 1458.2L1585.67 1454.8L1585.77 1460.4L1585.87 1456.8L1585.97 1463.4L1586.08 1461.2L1586.08 1456.5L1586.09 1460.7L1586.1 1455L1586.1 1457.7L1586.11 1453L1586.12 1456.6L1586.12 1450.1L1586.13 1453.5L1586.14 1449.2L1586.14 1450.5L1586.15 1445.4L1586.16 1448.2L1586.16 1443.7L1586.17 1446.9L1586.18 1439.8L1586.18 1444.3L1586.19 1439L1586.2 1442L1586.21 1436.5L1586.21 1437.1L1586.47 1439.1L1586.72 1433.6L1586.98 1434L1587.05 1437L1587.11 1434.2L1587.17 1441L1587.24 1437.3L1587.3 1441.5L1587.37 1439.8L1587.43 1444L1587.5 1441.6L1587.56 1446.8L1587.63 1442.9L1587.69 1449.2L1587.76 1446L1587.82 1451.6L1587.88 1450.7L1587.93 1446.5L1587.98 1451.6L1588.03 1444.9L1588.07 1449.3L1588.12 1443L1588.17 1447.1L1588.21 1439.9L1588.26 1443.9L1588.31 1437.9L1588.36 1440.5L1588.4 1436.1L1588.45 1439.6L1588.5 1433.1L1588.54 1436.8L1588.59 1430.5L1588.64 1434L1588.69 1428.7L1588.73 1430.7L1588.78 1426L1588.83 1429.6L1588.87 1423.1L1588.92 1425.5L1588.97 1420.3L1589.01 1422L1589.12 1425.4L1589.22 1423.2L1589.32 1427.4L1589.42 1425.3L1589.52 1431.3L1589.62 1427L1589.72 1432.6L1589.82 1430.2L1589.92 1433.2L1589.99 1436.2L1590.06 1433.8L1590.13 1438.8L1590.2 1435L1590.27 1442.4L1590.34 1437.7L1590.41 1445.1L1590.48 1440.3L1590.55 1445.7L1590.63 1444.3L1590.7 1448.3L1590.77 1446.3L1590.84 1451.7L1590.91 1447.3L1590.98 1454.3L1591.05 1453L1591.12 1449.5L1591.2 1452.1L1591.28 1445.5L1591.35 1450.8L1591.43 1444.5L1591.5 1446.4L1591.58 1440.3L1591.65 1444.3L1591.73 1441.3L1591.95 1437L1592.18 1440.4L1592.41 1435.2L1592.63 1438.7L1592.86 1435.6L1592.95 1433.6L1593.04 1440L1593.13 1438.2L1593.22 1442.4L1593.31 1439L1593.4 1446.9L1593.49 1441.9L1593.58 1448.7L1593.67 1445.4L1593.76 1448.5L1593.87 1449.1L1593.99 1444.9L1594.1 1448.6L1594.21 1442.7L1594.33 1445.4L1594.44 1439.6L1594.55 1442L1594.67 1437.1L1594.78 1441.5L1594.89 1436.9L1595.02 1434.1L1595.14 1436.1L1595.26 1430.8L1595.39 1435L1595.51 1428.8L1595.64 1431.5L1595.76 1425.5L1595.89 1427.6L1595.89 1430.2L1595.9 1428.5L1595.91 1433L1595.92 1430.1L1595.93 1436L1595.93 1432.5L1595.94 1439.1L1595.95 1434L1595.96 1440.9L1595.97 1438.6L1595.97 1444.2L1595.98 1441.1L1595.99 1445.4L1596 1443.3L1596.01 1448.5L1596.01 1444.1L1596.02 1448.3L1596.04 1451L1596.06 1449L1596.08 1455.3L1596.1 1450.5L1596.12 1455.9L1596.14 1453L1596.15 1460.1L1596.17 1456.1L1596.19 1461L1596.21 1458L1596.23 1463.8L1596.25 1463.2L1596.78 1462.3L1597.3 1465.7L1597.83 1464.8L1597.88 1461.4L1597.92 1463.6L1597.97 1458.8L1598.01 1462L1598.06 1455.8L1598.1 1459L1598.15 1452.5L1598.19 1455.6L1598.24 1451.1L1598.28 1451.7L1598.47 1454L1598.66 1446.2L1598.84 1451.6L1599.03 1444.1L1599.21 1448.3L1599.4 1441.7L1599.59 1446.1L1599.77 1442.4L1599.81 1442.3L1599.85 1446.6L1599.88 1444.7L1599.92 1450.6L1599.96 1446.6L1599.99 1451.8L1600.03 1448.5L1600.06 1453.5L1600.1 1450.5L1600.14 1457.7L1600.17 1452.7L1600.21 1460.3L1600.24 1456.3L1600.28 1460.9L1600.32 1460.7L1600.47 1456.4L1600.62 1461L1600.77 1454.9L1600.92 1457.7L1601.07 1453L1601.22 1453.2L1601.3 1457.6L1601.37 1453.4L1601.45 1459.9L1601.52 1456.1L1601.6 1461.1L1601.67 1458L1601.75 1464.5L1601.82 1459.4L1601.9 1465.9L1601.97 1462.3L1602.05 1468.4L1602.13 1467.5L1602.52 1464.9L1602.92 1471.8L1603.31 1467L1603.71 1470.1L1603.73 1470.9L1603.75 1465.9L1603.77 1469.8L1603.79 1462.1L1603.81 1465.9L1603.83 1461.5L1603.85 1463.2L1603.87 1456.9L1603.89 1460.4L1603.91 1454.9L1603.93 1456.8L1604.12 1460.4L1604.31 1456.7L1604.5 1462.8L1604.69 1459.4L1604.88 1465.1L1605.06 1463.8L1605.19 1461.4L1605.32 1464.9L1605.45 1459L1605.58 1460.6L1605.71 1455.2L1605.84 1459.5L1605.97 1455.6L1606 1453.8L1606.02 1461L1606.05 1456L1606.08 1461.9L1606.11 1460.8L1606.14 1464.9L1606.17 1461.4L1606.19 1465.8L1606.27 1466L1606.34 1460.9L1606.42 1465.1L1606.5 1459.4L1606.57 1462.1L1606.65 1455.1L1606.72 1460.2L1606.8 1453.9L1606.87 1454.8L1606.96 1455.8L1607.04 1450.4L1607.13 1454.4L1607.21 1446.6L1607.3 1451.1L1607.38 1445.2L1607.47 1448.7L1607.55 1444.5L1607.7 1441L1607.85 1445.2L1608 1438.9L1608.15 1443L1608.3 1435.7L1608.45 1437.3L1608.57 1438.3L1608.68 1432.4L1608.79 1436.8L1608.91 1430L1609.02 1434.7L1609.13 1428.9L1609.25 1432.2L1609.36 1427.6L1609.47 1423.5L1609.58 1427.6L1609.7 1420.9L1609.81 1424.4L1609.92 1419.8L1610.04 1420.6L1610.05 1422.2L1610.06 1414.9L1610.07 1418.9L1610.08 1412L1610.09 1417.1L1610.1 1412L1610.11 1413.3L1610.12 1409.4L1610.13 1412L1610.14 1406.3L1610.15 1408.7L1610.17 1403.5L1610.18 1405.8L1610.19 1399.9L1610.2 1405.2L1610.21 1398.3L1610.22 1401.8L1610.23 1396.5L1610.24 1399.7L1610.25 1393.9L1610.26 1394.6L1610.29 1399.4L1610.32 1393.6L1610.34 1401.3L1610.37 1396.5L1610.4 1402.1L1610.43 1400.7L1610.45 1405.3L1610.48 1403.2L1610.51 1408L1610.53 1403.5L1610.56 1411.5L1610.59 1406.1L1610.62 1412.5L1610.64 1410.4L1610.67 1414.4L1610.7 1412.8L1610.72 1417L1610.75 1414.6L1610.78 1420.1L1610.81 1416.7L1610.83 1423.3L1610.86 1419.4L1610.89 1425.1L1610.91 1421.6L1610.94 1425.7L1611.05 1429.7L1611.17 1425.2L1611.28 1431.5L1611.39 1428.1L1611.51 1433.4L1611.62 1432.7L1611.69 1430.3L1611.77 1432.5L1611.84 1426.3L1611.92 1429.3L1612 1423.2L1612.07 1425.2L1612.15 1429.8L1612.24 1424.5L1612.32 1432.2L1612.4 1428L1612.48 1433.1L1612.56 1431.1L1612.65 1437L1612.73 1431.8L1612.81 1438L1612.89 1436.8L1612.98 1439.2L1612.99 1439.9L1613 1434.7L1613.02 1438L1613.03 1432.8L1613.05 1436.1L1613.06 1429.7L1613.07 1433.7L1613.09 1427.2L1613.1 1429.6L1613.12 1425L1613.13 1428.8L1613.14 1421.4L1613.16 1425.9L1613.17 1420.2L1613.19 1422.7L1613.2 1418.9L1613.38 1414.7L1613.56 1420L1613.74 1411.7L1613.92 1415.2L1614.11 1412.6L1614.22 1411.7L1614.33 1418.5L1614.44 1413.7L1614.56 1420.7L1614.67 1416.7L1614.78 1420.7L1614.9 1417.3L1615.01 1421.9L1615.11 1424.8L1615.2 1421.8L1615.3 1427.4L1615.4 1424.1L1615.49 1431.2L1615.59 1425.5L1615.69 1430.1L1615.72 1434.6L1615.75 1430.8L1615.78 1436.8L1615.81 1433.8L1615.84 1438.2L1615.87 1433.8L1615.9 1440.2L1615.93 1437.7L1615.96 1443.4L1615.99 1440.4L1616.02 1446.1L1616.05 1441.8L1616.08 1447L1616.11 1443.5L1616.14 1448.1L1616.32 1448.2L1616.5 1443L1616.68 1446.7L1616.86 1442.2L1617.04 1442.6L1617.16 1445L1617.27 1441.4L1617.38 1449.2L1617.5 1445.1L1617.61 1451.6L1617.72 1446.2L1617.83 1454.3L1617.95 1452.1L1617.96 1448.5L1617.98 1451.4L1618 1446L1618.01 1450.7L1618.03 1443L1618.04 1447.5L1618.06 1440.3L1618.08 1444.4L1618.09 1438.5L1618.11 1443L1618.13 1437L1618.14 1440.6L1618.16 1435L1618.17 1434.9L1618.51 1436.6L1618.85 1433.4L1618.94 1429.6L1619.03 1432.3L1619.12 1426.1L1619.21 1430.4L1619.3 1426.9L1619.39 1424.2L1619.47 1426.7L1619.55 1420.8L1619.63 1424.4L1619.72 1419.9L1619.8 1421.2L1619.88 1415.8L1619.96 1418.9L1620.04 1414.6L1620.13 1418.2L1620.21 1414L1620.27 1409.5L1620.32 1414.8L1620.38 1408.7L1620.44 1410.1L1620.5 1404.8L1620.56 1409.2L1620.62 1403.3L1620.67 1405.2L1620.73 1400.7L1620.79 1403.3L1620.85 1397.8L1620.91 1402.7L1620.96 1396.3L1621.02 1396.7L1621.07 1399.2L1621.11 1396.3L1621.15 1401.8L1621.2 1400L1621.24 1405.1L1621.28 1400.5L1621.32 1407.2L1621.37 1404.7L1621.41 1410.1L1621.45 1407.6L1621.5 1412.4L1621.54 1408.7L1621.58 1414.6L1621.63 1410.9L1621.67 1416.8L1621.71 1415.1L1621.76 1420.3L1621.8 1416.7L1621.84 1423.5L1621.89 1420L1621.93 1425.6L1621.97 1421.1L1622.02 1425.1L1622.09 1425.9L1622.16 1421.2L1622.23 1424L1622.29 1417.2L1622.36 1421.2L1622.43 1415.5L1622.5 1419.3L1622.57 1412.7L1622.64 1416.2L1622.71 1411.3L1622.78 1413.9L1622.85 1407.9L1622.92 1409.2L1623.03 1411.3L1623.15 1403.2L1623.26 1408L1623.37 1402.4L1623.49 1404.8L1623.6 1399.3L1623.71 1403.7L1623.82 1397.8L1623.94 1401.2L1624.05 1397.1L1624.06 1394.8L1624.07 1401.7L1624.08 1397.4L1624.09 1404.3L1624.1 1400.7L1624.11 1407.9L1624.12 1404.3L1624.13 1409.1L1624.14 1404.8L1624.15 1410.9L1624.16 1409L1624.17 1414.4L1624.18 1410.4L1624.19 1417.3L1624.21 1412.5L1624.22 1419.9L1624.23 1417.3L1624.24 1420.9L1624.25 1419.7L1624.26 1424.3L1624.27 1422.3L1624.28 1424.7L1624.32 1428.4L1624.37 1424.6L1624.41 1430.1L1624.46 1426.6L1624.5 1433.3L1624.55 1428.9L1624.59 1435.7L1624.64 1432.4L1624.68 1438.8L1624.73 1437.6L1624.75 1437.1L1624.78 1443.2L1624.8 1440.3L1624.83 1444.4L1624.85 1442L1624.88 1448.5L1624.9 1444.1L1624.93 1448.9L1624.96 1447.1L1624.98 1452.8L1625.01 1448.3L1625.03 1454.1L1625.06 1450.9L1625.08 1457.3L1625.11 1454.1L1625.13 1459.9L1625.16 1456.8L1625.18 1460.3L1625.23 1462.6L1625.28 1454.4L1625.33 1459.9L1625.38 1452.3L1625.43 1456.8L1625.48 1451.3L1625.53 1452.7L1625.58 1447.1L1625.63 1451.8L1625.68 1445.1L1625.73 1448.4L1625.78 1443.5L1625.83 1447.4L1625.88 1440.3L1625.93 1442.6L1625.98 1438.3L1626.04 1440.9L1626.09 1437.7L1626.24 1437.7L1626.39 1443.7L1626.54 1438L1626.69 1445.7L1626.84 1442.7L1626.99 1445L1627.03 1446L1627.07 1441.3L1627.11 1444.3L1627.15 1437.1L1627.2 1442.1L1627.24 1434.7L1627.28 1438L1627.32 1434.3L1627.36 1435.5L1627.4 1429.8L1627.44 1431.8L1627.55 1433.7L1627.67 1426.9L1627.78 1429.7L1627.89 1423.6L1628.01 1426.9L1628.12 1422.4L1628.23 1424.2L1628.35 1418.3L1628.46 1422.7L1628.57 1419.4L1628.62 1417.6L1628.68 1424.9L1628.73 1420.5L1628.78 1427.8L1628.83 1422.4L1628.88 1430.1L1628.94 1424.4L1628.99 1430.4L1629.04 1427.4L1629.09 1433.2L1629.15 1430.9L1629.2 1436L1629.25 1435.2L1629.3 1432.9L1629.35 1438.9L1629.39 1436.7L1629.44 1441.5L1629.49 1437.7L1629.54 1444.8L1629.58 1440.8L1629.63 1447.2L1629.68 1443L1629.73 1449.2L1629.77 1446.3L1629.82 1452.6L1629.87 1448L1629.92 1455.4L1629.96 1451.4L1630.01 1457.7L1630.06 1452.7L1630.11 1459.4L1630.15 1458.1L1630.19 1454.7L1630.22 1458.1L1630.26 1453.1L1630.29 1454.5L1630.33 1450.1L1630.36 1452.1L1630.4 1448.3L1630.43 1451.2L1630.47 1444.1L1630.5 1448.5L1630.54 1443L1630.57 1446.3L1630.61 1442.2L1630.8 1440.1L1630.99 1447L1631.19 1443.7L1631.38 1449L1631.57 1445.4L1631.77 1450.4L1631.96 1449.7L1632.03 1449.4L1632.1 1455.3L1632.17 1450.6L1632.24 1457.9L1632.32 1454.2L1632.39 1458.6L1632.46 1455.7L1632.53 1460.5L1632.6 1458.7L1632.67 1464.2L1632.74 1460.6L1632.81 1467.5L1632.88 1462.8L1632.95 1469.2L1633.02 1465.2L1633.09 1468.9L1633.14 1470.8L1633.18 1464.5L1633.22 1466.4L1633.26 1460.6L1633.31 1466L1633.35 1460.4L1633.39 1461.9L1633.44 1457.7L1633.48 1460.9L1633.52 1455.6L1633.57 1456.9L1633.61 1452.2L1633.65 1454.5L1633.7 1450.4L1633.74 1453L1633.78 1448.2L1633.82 1449.7L1633.87 1445.6L1633.91 1447.9L1633.95 1443.1L1634 1443.8L1634.05 1447.1L1634.09 1444.3L1634.14 1449.4L1634.19 1447.6L1634.24 1453.2L1634.29 1448.3L1634.34 1454.8L1634.38 1452.6L1634.43 1456.6L1634.48 1452.9L1634.53 1459.7L1634.58 1457.1L1634.63 1463.1L1634.67 1461.2L1634.7 1456.6L1634.72 1460.1L1634.74 1455.1L1634.76 1458.7L1634.78 1453.6L1634.8 1455.6L1634.83 1449.9L1634.85 1454L1634.87 1447.3L1634.89 1451.4L1634.91 1445.5L1634.93 1447.5L1634.95 1443.9L1634.98 1447L1635 1439.3L1635.02 1444.7L1635.04 1438.8L1635.06 1441.8L1635.08 1436.1L1635.11 1438.3L1635.13 1435.1L1635.21 1434.7L1635.29 1440.8L1635.37 1435.6L1635.46 1443.2L1635.54 1439.2L1635.62 1445.9L1635.7 1442L1635.78 1447.5L1635.87 1443.4L1635.95 1449.1L1636.03 1448.7L1636.14 1447.8L1636.26 1452.4L1636.37 1449.2L1636.48 1455.1L1636.6 1453.3L1636.71 1457.7L1636.82 1454.5L1636.94 1461.1L1637.05 1457.2L1637.16 1460.8L1637.17 1462.8L1637.17 1455.4L1637.18 1458.7L1637.19 1453.5L1637.2 1456.2L1637.2 1451.7L1637.21 1453.7L1637.22 1449.7L1637.22 1451.7L1637.23 1445.2L1637.24 1450L1637.24 1444.8L1637.25 1446.5L1637.26 1441L1637.26 1444.8L1637.27 1440L1637.28 1441.2L1637.28 1436.2L1637.29 1440.1L1637.3 1436.2L1637.68 1433.9L1638.07 1434.1L1638.13 1438.4L1638.19 1434.9L1638.26 1440.4L1638.32 1436.6L1638.39 1442.2L1638.45 1438L1638.52 1444.8L1638.58 1441.8L1638.65 1447.6L1638.71 1443.2L1638.78 1451.2L1638.84 1445.9L1638.91 1452.6L1638.97 1451.3L1639.02 1447.3L1639.06 1451.6L1639.11 1444.3L1639.16 1450.1L1639.21 1442.4L1639.25 1445.8L1639.3 1440.5L1639.35 1444L1639.39 1438.9L1639.44 1442.5L1639.49 1436.6L1639.53 1439.9L1639.58 1433.5L1639.63 1436.8L1639.68 1430.6L1639.72 1435.1L1639.77 1427.5L1639.82 1433.4L1639.86 1425.6L1639.91 1429.2L1639.96 1423.5L1640.01 1427.4L1640.05 1420.4L1640.1 1422.7L1640.21 1426.2L1640.33 1423.3L1640.44 1427.7L1640.55 1425.6L1640.66 1431.6L1640.78 1428.6L1640.89 1433.1L1641 1433L1641.07 1432L1641.15 1436.7L1641.22 1435.2L1641.29 1440.1L1641.36 1437.2L1641.43 1442.7L1641.5 1439.1L1641.57 1444.8L1641.64 1442.6L1641.71 1446.3L1641.78 1443.9L1641.85 1451.2L1641.92 1447.1L1641.99 1452.1L1642.06 1449.4L1642.13 1452.5L1642.21 1454.2L1642.28 1447.7L1642.36 1451.9L1642.44 1446.5L1642.51 1447.7L1642.59 1443.5L1642.66 1445.9L1642.74 1440.5L1642.81 1441.4L1643.04 1442.3L1643.26 1435.5L1643.49 1440.1L1643.72 1434.2L1643.94 1435.5L1644.03 1440.2L1644.12 1435.2L1644.21 1441.7L1644.3 1437.1L1644.39 1443.4L1644.48 1441.5L1644.58 1447.3L1644.67 1442.6L1644.76 1448.8L1644.85 1447.4L1644.97 1445L1645.1 1448L1645.22 1441.8L1645.35 1445.3L1645.47 1439.7L1645.6 1443.7L1645.73 1437.1L1645.85 1439.7L1645.98 1436.7L1646.12 1432.2L1646.26 1436L1646.4 1431.4L1646.55 1434.3L1646.69 1427.2L1646.83 1431L1646.97 1428.4L1646.98 1428L1646.99 1433.9L1647 1430.8L1647.01 1435.4L1647.01 1431.4L1647.02 1438.6L1647.03 1433.9L1647.04 1439.5L1647.05 1436L1647.06 1442.6L1647.06 1438.7L1647.07 1445.3L1647.08 1440.9L1647.09 1447.7L1647.1 1444.9L1647.11 1447.9L1647.2 1494.8L1647.5 1500L1647.8 1560L1648.2 1578L1649 1589L1650.2 1593.5L1651.3 1594.4L1651.3 1594.2L1666.2 1593L1702.3 1590.6L1709.4 1590.3L1709.6 1586.7L1709.8 1590.3L1735.9 1589.3L1736.1 1586.7L1736.3 1589.3L1738.5 1589.2L1773.9 1587.4L1774.1 1583.9L1774.3 1587.4L1774.7 1587.4L1799.8 1586.5L1800 1582L1800.2 1586.5L1810.8 1586.1L1812.4 1586L1812.6 1584.3L1812.8 1586L1835 1585.2L1835.2 1583.8L1835.4 1585.2L1843.2 1584.9L1843.4 1581.6L1843.6 1584.9L1847 1584.8L1852.2 1584.7L1852.4 1575.3L1852.6 1584.7L1854.9 1584.6L1855.1 1587.4L1855.3 1584.6L1883.2 1583.8L1890.2 1583.6L1890.4 1582L1890.6 1583.6L1892 1583.6L1892.2 1586.7L1892.4 1583.6L1914.6 1583.1L1914.8 1575.3L1915 1583.1L1919.3 1583L1921 1583L1921.2 1579.8L1921.4 1583L1925.1 1583L1925.3 1579.8L1925.5 1583L1931.8 1582.9L1932 1586.7L1932.2 1582.9L1934.5 1582.9L1934.7 1578.3L1934.9 1582.9L1955.5 1582.7L1981.2 1582.3L1981.4 1579.2L1981.6 1582.3L1985.2 1582.2L1985.4 1579.4L1985.6 1582.2L1991.7 1582.1L1999.1 1582L1999.3 1585.2L1999.5 1582L2005.2 1582" fill="none" stroke="#f9464a" stroke-width="0.7" stroke-linejoin="round" stroke-linecap="butt"/>
<path d="M1088.13 1101.7V1511.7M1096.52 1106.5V1510.3M1101.64 1116.5V1504.5M1112.44 1136.2V1498.2M1117.36 1120.3V1504.5M1128.45 1108.9V1509.3M1135.49 1109.7V1507.9M1147.45 1108.5V1509.3M1153.33 1119.1V1504.5M1163.46 1123.7V1501.6M1168.38 1122.4V1502.1M1179.47 1110.7V1507.4M1186.42 1112.4V1507.4M1198.38 1108.8V1508.8M1204.55 1121.8V1502.5M1214.39 1128.5V1499.7M1219.5 1121.3V1502.5M1230.49 1111.4V1506.4M1237.53 1111.9V1506.4M1495.91 1117V1508.9M1497.36 1121.3V1507M1501.7 1118.7V1508M1533.34 1133.3V1502.2M1541.44 1140.6V1497.9M1553.5 1127.1V1506.5M1580.5 1142.8V1497.9M1584.46 1138.7V1498.8M1592.46 1145.7V1496.9M1643.48 1148.3V1493.5" fill="none" stroke="#f9464a" stroke-width="0.82" stroke-linecap="round"/>
<path d="M1098.16 1112.1V1507.4M1099.42 1120.3V1504.5M1107.42 1116.8V1507.9M1108.39 1117.9V1505.4M1109.35 1121.6V1502.5M1149.38 1114.1V1506.4M1150.34 1122.3V1504.5M1159.51 1123.4V1502.5M1160.37 1119.4V1503.5M1200.5 1113.6V1506.4M1201.37 1120.8V1504.5M1210.82 1123.4V1501.6M1211.49 1120.5V1501.6M1493.5 1106.5V1519.6M1494.47 1111.6V1515.7M1503.44 1120.3V1508.5M1504.59 1124.7V1504.1M1505.56 1128.5V1502.2M1506.52 1131.4V1499.3M1507.49 1141.1V1496.4M1508.45 1144.9V1494.5M1511.06 1144.4V1495.9M1512.31 1143.5V1495.4M1513.28 1155V1491.6M1516.46 1135.5V1500.3M1517.62 1140.1V1495.4M1518.58 1149.3V1493.5M1519.54 1156.5V1491.6M1520.51 1150.2V1492.5M1521.67 1148.3V1494M1525.33 1140.6V1497.9M1526.59 1142.5V1494.5M1535.46 1129.5V1502.7M1536.23 1147.8V1498.3M1537.58 1134.3V1499.8M1538.55 1143V1496.9M1543.37 1141.1V1498.3M1544.62 1137.7V1498.3M1547.52 1128.2V1504.1M1548.67 1135.3V1499.3M1555.42 1129V1504.6M1556.68 1132.4V1501.2M1557.64 1135.8V1499.3M1558.61 1141.1V1495.9M1559.57 1149.3V1492.1M1562.47 1148.6V1494M1563.72 1152.6V1491.6M1567.38 1136.4V1499.3M1568.54 1144.9V1495.4M1569.7 1146.4V1493M1570.66 1157.5V1490.6M1571.63 1155V1489.7M1572.59 1152.4V1491.1M1573.36 1158.4V1488.7M1576.45 1146.9V1495M1577.61 1145.4V1493.5M1586.48 1134V1501.2M1587.25 1147.3V1496.4M1588.6 1139.6V1497.9M1589.47 1145.9V1496.9M1590.53 1139.6V1498.8M1594.29 1149.7V1494.5M1595.55 1143.5V1495.9M1598.54 1133.3V1501.2M1599.6 1138.2V1499.8M1606.45 1129V1503.2M1607.51 1132.9V1499.8M1608.57 1139.1V1496.9M1609.53 1145.4V1492.5M1610.5 1154.6V1489.2M1613.49 1150.9V1492.1M1614.65 1154.1V1492.1M1615.8 1163.2V1489.7M1616.57 1163.7V1488.2M1618.5 1142V1496.4M1619.37 1149.7V1492.1M1620.53 1148.6V1491.6M1621.49 1157.5V1489.2M1622.55 1153.6V1489.2M1623.52 1161.3V1485.3M1624.19 1163.2V1484.8M1627.57 1150.2V1493M1628.73 1149.7V1492.5M1634.03 1144.4V1496.9M1635.29 1144.9V1494.5M1637.5 1138.2V1498.8M1638.47 1162.3V1491.6M1639.63 1142.5V1494M1640.78 1151.2V1492.5M1641.75 1143.5V1496.4M1645.7 1152.6V1491.6M1646.57 1143.8V1494.5" fill="none" stroke="#f9464a" stroke-width="1.05" stroke-linecap="round"/>
<rect x="299.25" y="215.20" width="2.5" height="556.55" fill="#000"/>
<rect x="299.25" y="769.25" width="1862.5" height="2.5" fill="#000"/>
<text x="298.8" y="191.0" font-size="75" fill="#2f2e33">Stimulation</text>
<text font-size="69.000" fill="#2f2e33"><tspan x="261.18" y="854.60" font-size="80.000">−</tspan><tspan x="305.72" y="845.00">2</tspan></text>
<text font-size="69.000" fill="#2f2e33"><tspan x="592.75" y="846.00">0</tspan></text>
<text font-size="69.000" fill="#2f2e33"><tspan x="902.75" y="845.00">2</tspan></text>
<text font-size="69.000" fill="#2f2e33"><tspan x="1212.75" y="845.00">4</tspan></text>
<text font-size="69.000" fill="#2f2e33"><tspan x="1522.75" y="846.00">6</tspan></text>
<text font-size="69.000" fill="#2f2e33"><tspan x="1832.75" y="846.00">8</tspan></text>
<text font-size="69.000" fill="#2f2e33"><tspan x="2126.08 2159.42" y="846.00">10</tspan></text>
<text x="1230.5" y="919.2" font-size="66.667" text-anchor="middle" fill="#000">Seconds</text>
<rect x="299.25" y="1046.80" width="2.5" height="556.95" fill="#000"/>
<rect x="299.25" y="1601.25" width="1862.5" height="2.5" fill="#000"/>
<text x="298.8" y="1022.6" font-size="75" fill="#2f2e33">Response</text>
<text font-size="69.000" fill="#2f2e33"><tspan x="261.18" y="1686.60" font-size="80.000">−</tspan><tspan x="305.72" y="1677.00">2</tspan></text>
<text font-size="69.000" fill="#2f2e33"><tspan x="592.75" y="1678.00">0</tspan></text>
<text font-size="69.000" fill="#2f2e33"><tspan x="902.75" y="1677.00">2</tspan></text>
<text font-size="69.000" fill="#2f2e33"><tspan x="1212.75" y="1677.00">4</tspan></text>
<text font-size="69.000" fill="#2f2e33"><tspan x="1522.75" y="1678.00">6</tspan></text>
<text font-size="69.000" fill="#2f2e33"><tspan x="1832.75" y="1678.00">8</tspan></text>
<text font-size="69.000" fill="#2f2e33"><tspan x="2126.08 2159.42" y="1678.00">10</tspan></text>
<text x="1230.5" y="1750.8" font-size="66.667" text-anchor="middle" fill="#000">Seconds</text>
<text font-size="69.000" fill="#2f2e33"><tspan x="136.78 170.12 203.45 236.78" y="239.00">1000</tspan></text>
<text font-size="69.000" fill="#2f2e33"><tspan x="170.12 203.45 236.78" y="424.00">500</tspan></text>
<text font-size="69.000" fill="#2f2e33"><tspan x="236.78" y="609.00">0</tspan></text>
<text font-size="69.000" fill="#2f2e33"><tspan x="125.58" y="803.60" font-size="80.000">−</tspan><tspan x="170.12 203.45 236.78" y="794.00">500</tspan></text>
<text font-size="69.000" fill="#2f2e33"><tspan x="203.45 236.78" y="1071.00">50</tspan></text>
<text font-size="69.000" fill="#2f2e33"><tspan x="236.78" y="1284.00">0</tspan></text>
<text font-size="69.000" fill="#2f2e33"><tspan x="158.92" y="1506.60" font-size="80.000">−</tspan><tspan x="203.45 236.78" y="1497.00">50</tspan></text>
<text transform="translate(96.9 494.8) rotate(-90)" font-size="66.667" text-anchor="middle" fill="#000">pA</text>
<text transform="translate(131.2 1327.4) rotate(-90)" font-size="66.667" text-anchor="middle" fill="#000">mV</text>
</svg></body></html>
